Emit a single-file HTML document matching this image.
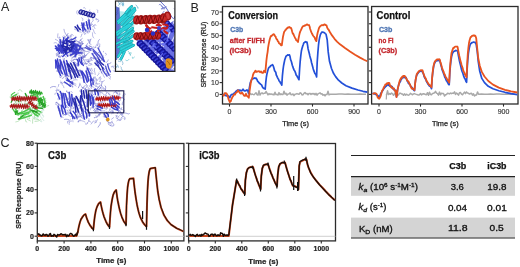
<!DOCTYPE html>
<html><head><meta charset="utf-8"><title>SPR figure</title><style>
html,body{margin:0;padding:0;background:#fff;}
svg{display:block;filter:blur(0.25px);}
text{font-family:"Liberation Sans",Arial,sans-serif;}
.tk{font-size:7.6px;fill:#333;stroke:#333;stroke-width:0.15px;}
.ax{font-size:7.4px;fill:#222;stroke:#222;stroke-width:0.25px;}
.tkb{font-size:7px;font-weight:bold;fill:#222;stroke:#222;stroke-width:0.2px;}
.axb{font-size:7.8px;font-weight:bold;fill:#222;stroke:#222;stroke-width:0.2px;}
.ttl{font-size:10.4px;font-weight:bold;fill:#111;stroke:#111;stroke-width:0.25px;}
.lgb{font-size:7.4px;font-weight:bold;fill:#4f76b4;stroke:#4f76b4;stroke-width:0.3px;}
.lgr{font-size:7.4px;font-weight:bold;fill:#c4282e;stroke:#c4282e;stroke-width:0.3px;}
.pl{font-size:12.5px;fill:#222;}
.th{font-size:8.4px;font-weight:bold;fill:#111;stroke:#111;stroke-width:0.25px;}
.td{font-size:8.4px;fill:#111;stroke:#111;stroke-width:0.3px;}
</style></head>
<body><svg width="520" height="267" viewBox="0 0 520 267">
<rect width="520" height="267" fill="#fff"/>
<defs><clipPath id="insclip"><rect x="115.5" y="1" width="59.4" height="70.4"/></clipPath></defs>
<path d="M85.9,24.4 C88.1,24.2 88.2,24.6 86.5,24.7" stroke="#6e70cc" stroke-width="0.55" fill="none" opacity="0.9"/>
<path d="M90.1,31.6 C87.9,30.5 85.7,32.2 86.8,29.7" stroke="#6e70cc" stroke-width="0.55" fill="none" opacity="0.9"/>
<path d="M90.7,26.1 C88.8,23.5 89.0,21.1 87.3,19.7" stroke="#6e70cc" stroke-width="0.55" fill="none" opacity="0.9"/>
<path d="M85.6,33.1 C85.7,33.9 85.7,34.8 85.4,33.6" stroke="#6e70cc" stroke-width="0.55" fill="none" opacity="0.9"/>
<path d="M95.2,28.9 C94.2,27.5 93.0,25.2 94.5,24.6" stroke="#6e70cc" stroke-width="0.55" fill="none" opacity="0.9"/>
<path d="M95.3,19.0 C97.8,20.9 95.1,19.3 97.3,19.1" stroke="#6e70cc" stroke-width="0.55" fill="none" opacity="0.9"/>
<path d="M98.5,19.3 C96.2,20.0 97.7,18.8 95.5,17.9" stroke="#6e70cc" stroke-width="0.55" fill="none" opacity="0.9"/>
<path d="M77.8,14.6 C75.7,12.3 77.3,10.5 77.6,10.2" stroke="#6e70cc" stroke-width="0.55" fill="none" opacity="0.9"/>
<path d="M79.6,29.7 C77.6,30.5 75.5,30.0 74.0,28.8" stroke="#6e70cc" stroke-width="0.55" fill="none" opacity="0.9"/>
<path d="M82.3,34.4 C80.7,33.9 82.7,34.6 80.5,37.3" stroke="#6e70cc" stroke-width="0.55" fill="none" opacity="0.9"/>
<path d="M80.1,15.0 C81.6,14.1 80.5,11.8 78.3,12.2" stroke="#6e70cc" stroke-width="0.55" fill="none" opacity="0.9"/>
<path d="M80.8,25.6 C80.1,25.4 82.6,25.3 83.0,27.3" stroke="#6e70cc" stroke-width="0.55" fill="none" opacity="0.9"/>
<path d="M79.4,11.8 C81.6,13.5 80.2,11.8 81.5,14.2" stroke="#6e70cc" stroke-width="0.55" fill="none" opacity="0.9"/>
<path d="M96.2,25.7 C95.7,23.6 93.3,26.1 91.8,27.2" stroke="#6e70cc" stroke-width="0.55" fill="none" opacity="0.9"/>
<path d="M81.2,32.5 C81.7,31.4 79.9,32.6 77.6,31.1" stroke="#6e70cc" stroke-width="0.55" fill="none" opacity="0.9"/>
<path d="M88.4,33.4 C89.0,32.2 91.3,30.6 88.7,29.4" stroke="#6e70cc" stroke-width="0.55" fill="none" opacity="0.9"/>
<path d="M85.7,8.9 C83.9,8.2 84.3,6.2 83.6,8.3" stroke="#6e70cc" stroke-width="0.55" fill="none" opacity="0.9"/>
<path d="M91.6,25.1 C89.6,22.6 87.0,24.8 88.1,27.3" stroke="#6e70cc" stroke-width="0.55" fill="none" opacity="0.9"/>
<path d="M86.6,29.6 C85.6,32.3 83.3,32.6 84.6,34.8" stroke="#6e70cc" stroke-width="0.55" fill="none" opacity="0.9"/>
<path d="M92.7,28.8 C94.3,31.1 93.5,32.1 95.6,34.1" stroke="#6e70cc" stroke-width="0.55" fill="none" opacity="0.9"/>
<path d="M85.0,31.5 C87.0,31.9 87.6,31.3 88.1,31.9" stroke="#6e70cc" stroke-width="0.55" fill="none" opacity="0.9"/>
<path d="M92.5,19.0 C93.7,19.5 93.4,21.3 91.2,22.7" stroke="#6e70cc" stroke-width="0.55" fill="none" opacity="0.9"/>
<path d="M86.5,14.1 C87.6,14.1 88.2,16.4 86.9,13.8" stroke="#6e70cc" stroke-width="0.55" fill="none" opacity="0.9"/>
<path d="M82.2,28.0 C80.6,26.2 82.8,27.1 82.5,29.2" stroke="#6e70cc" stroke-width="0.55" fill="none" opacity="0.9"/>
<path d="M82.8,27.6 C81.2,27.3 82.9,29.5 84.9,28.9" stroke="#6e70cc" stroke-width="0.55" fill="none" opacity="0.9"/>
<path d="M89.0,16.8 C87.0,16.8 88.9,18.7 90.0,21.1" stroke="#6e70cc" stroke-width="0.55" fill="none" opacity="0.9"/>
<path d="M81.6,12.2 C81.4,11.0 79.8,10.6 80.5,10.5" stroke="#6e70cc" stroke-width="0.55" fill="none" opacity="0.9"/>
<path d="M82.6,33.0 C85.2,32.8 82.9,30.2 84.9,27.8" stroke="#6e70cc" stroke-width="0.55" fill="none" opacity="0.9"/>
<path d="M92.0,24.7 C91.0,26.3 88.4,24.3 88.1,21.7" stroke="#6e70cc" stroke-width="0.55" fill="none" opacity="0.9"/>
<path d="M94.9,14.4 C93.0,11.9 93.7,11.6 94.4,12.5" stroke="#6e70cc" stroke-width="0.55" fill="none" opacity="0.9"/>
<path d="M91.4,13.2 C91.3,11.4 88.7,11.3 89.8,9.6" stroke="#6e70cc" stroke-width="0.55" fill="none" opacity="0.9"/>
<path d="M81.5,17.7 C82.6,17.8 83.2,19.2 82.6,20.8" stroke="#6e70cc" stroke-width="0.55" fill="none" opacity="0.9"/>
<path d="M96.7,9.7 C99.1,10.9 97.1,10.7 97.8,12.9" stroke="#6e70cc" stroke-width="0.55" fill="none" opacity="0.9"/>
<path d="M84.0,24.6 C86.1,26.2 88.5,26.0 89.3,24.4" stroke="#6e70cc" stroke-width="0.55" fill="none" opacity="0.9"/>
<path d="M92.3,32.4 C93.1,33.5 91.5,35.7 94.1,38.3" stroke="#6e70cc" stroke-width="0.55" fill="none" opacity="0.9"/>
<path d="M87.9,31.5 C86.9,33.7 88.8,32.9 86.6,32.6" stroke="#6e70cc" stroke-width="0.55" fill="none" opacity="0.9"/>
<path d="M88.2,30.8 C88.1,28.3 89.8,25.9 91.4,24.1" stroke="#6e70cc" stroke-width="0.55" fill="none" opacity="0.9"/>
<path d="M83.0,31.4 C81.1,29.5 81.2,30.7 83.0,31.8" stroke="#6e70cc" stroke-width="0.55" fill="none" opacity="0.9"/>
<path d="M97.7,22.3 C100.1,20.0 98.6,20.2 97.5,21.4" stroke="#6e70cc" stroke-width="0.55" fill="none" opacity="0.9"/>
<path d="M90.3,23.2 C92.2,23.5 91.2,22.9 93.0,25.1" stroke="#6e70cc" stroke-width="0.55" fill="none" opacity="0.9"/>
<path d="M68.3,80.1 C70.8,80.2 71.2,78.6 71.4,78.6" stroke="#6e70cc" stroke-width="0.55" fill="none" opacity="0.9"/>
<path d="M79.6,77.5 C80.0,77.4 81.0,75.1 81.2,74.6" stroke="#6e70cc" stroke-width="0.55" fill="none" opacity="0.9"/>
<path d="M71.9,60.1 C69.9,59.7 71.6,61.9 71.4,60.9" stroke="#6e70cc" stroke-width="0.55" fill="none" opacity="0.9"/>
<path d="M67.3,67.7 C69.6,65.7 71.1,63.2 69.4,61.7" stroke="#6e70cc" stroke-width="0.55" fill="none" opacity="0.9"/>
<path d="M96.5,52.1 C95.8,52.7 93.6,54.0 91.6,54.0" stroke="#6e70cc" stroke-width="0.55" fill="none" opacity="0.9"/>
<path d="M70.8,45.5 C70.9,45.1 70.3,44.7 70.4,42.8" stroke="#6e70cc" stroke-width="0.55" fill="none" opacity="0.9"/>
<path d="M68.1,68.5 C68.8,68.6 70.7,69.2 72.6,67.8" stroke="#6e70cc" stroke-width="0.55" fill="none" opacity="0.9"/>
<path d="M99.7,78.0 C101.9,77.0 100.9,79.2 99.4,81.9" stroke="#6e70cc" stroke-width="0.55" fill="none" opacity="0.9"/>
<path d="M70.1,73.5 C68.8,71.3 70.6,70.9 72.2,68.9" stroke="#6e70cc" stroke-width="0.55" fill="none" opacity="0.9"/>
<path d="M79.8,71.3 C77.2,69.7 78.1,71.9 80.7,69.8" stroke="#6e70cc" stroke-width="0.55" fill="none" opacity="0.9"/>
<path d="M85.8,75.2 C85.9,76.2 84.2,73.9 82.0,71.4" stroke="#6e70cc" stroke-width="0.55" fill="none" opacity="0.9"/>
<path d="M88.5,62.3 C88.9,60.4 87.2,58.8 89.1,61.4" stroke="#6e70cc" stroke-width="0.55" fill="none" opacity="0.9"/>
<path d="M83.3,75.5 C82.3,75.4 82.4,75.0 83.0,72.3" stroke="#6e70cc" stroke-width="0.55" fill="none" opacity="0.9"/>
<path d="M97.4,79.7 C95.6,79.5 96.9,79.0 95.3,77.2" stroke="#6e70cc" stroke-width="0.55" fill="none" opacity="0.9"/>
<path d="M108.7,77.5 C109.8,79.4 110.5,78.9 111.0,78.9" stroke="#6e70cc" stroke-width="0.55" fill="none" opacity="0.9"/>
<path d="M71.2,83.3 C72.6,84.8 74.3,84.3 76.4,86.3" stroke="#6e70cc" stroke-width="0.55" fill="none" opacity="0.9"/>
<path d="M97.0,75.7 C98.4,75.2 99.6,72.8 98.8,72.7" stroke="#6e70cc" stroke-width="0.55" fill="none" opacity="0.9"/>
<path d="M56.6,53.8 C57.4,54.5 55.9,56.9 56.8,56.0" stroke="#6e70cc" stroke-width="0.55" fill="none" opacity="0.9"/>
<path d="M94.9,65.2 C95.1,64.6 97.8,65.4 98.9,66.8" stroke="#6e70cc" stroke-width="0.55" fill="none" opacity="0.9"/>
<path d="M92.3,74.2 C91.0,73.6 88.6,72.0 87.9,69.8" stroke="#6e70cc" stroke-width="0.55" fill="none" opacity="0.9"/>
<path d="M70.8,83.0 C71.1,83.0 73.6,83.4 76.3,84.2" stroke="#6e70cc" stroke-width="0.55" fill="none" opacity="0.9"/>
<path d="M91.3,75.2 C88.8,77.6 87.0,77.4 85.2,77.4" stroke="#6e70cc" stroke-width="0.55" fill="none" opacity="0.9"/>
<path d="M87.1,66.7 C86.4,65.5 87.2,65.9 86.0,67.0" stroke="#6e70cc" stroke-width="0.55" fill="none" opacity="0.9"/>
<path d="M73.5,35.7 C72.1,33.3 70.2,34.6 69.6,36.8" stroke="#6e70cc" stroke-width="0.55" fill="none" opacity="0.9"/>
<path d="M60.3,83.0 C60.0,82.9 62.5,81.5 62.6,83.9" stroke="#6e70cc" stroke-width="0.55" fill="none" opacity="0.9"/>
<path d="M98.6,59.8 C101.2,61.5 101.8,59.5 102.5,59.2" stroke="#6e70cc" stroke-width="0.55" fill="none" opacity="0.9"/>
<path d="M68.0,37.8 C68.2,35.7 67.9,36.6 67.6,35.4" stroke="#6e70cc" stroke-width="0.55" fill="none" opacity="0.9"/>
<path d="M90.4,57.2 C91.9,57.4 94.5,59.8 95.8,58.4" stroke="#6e70cc" stroke-width="0.55" fill="none" opacity="0.9"/>
<path d="M62.7,82.3 C64.3,83.0 63.5,81.8 64.5,82.1" stroke="#6e70cc" stroke-width="0.55" fill="none" opacity="0.9"/>
<path d="M90.9,68.6 C92.3,66.9 90.9,69.5 93.2,71.5" stroke="#6e70cc" stroke-width="0.55" fill="none" opacity="0.9"/>
<path d="M58.3,38.2 C57.1,37.8 57.8,35.7 58.0,33.4" stroke="#6e70cc" stroke-width="0.55" fill="none" opacity="0.9"/>
<path d="M61.1,70.8 C61.4,71.6 60.7,71.4 59.1,70.6" stroke="#6e70cc" stroke-width="0.55" fill="none" opacity="0.9"/>
<path d="M99.9,79.4 C97.6,77.4 99.3,78.1 100.8,76.5" stroke="#6e70cc" stroke-width="0.55" fill="none" opacity="0.9"/>
<path d="M81.0,48.7 C82.7,48.0 83.5,50.6 82.6,50.9" stroke="#6e70cc" stroke-width="0.55" fill="none" opacity="0.9"/>
<path d="M100.0,83.8 C99.6,83.1 97.5,85.1 95.2,82.9" stroke="#6e70cc" stroke-width="0.55" fill="none" opacity="0.9"/>
<path d="M89.3,60.7 C90.3,59.6 91.8,57.3 90.2,58.2" stroke="#6e70cc" stroke-width="0.55" fill="none" opacity="0.9"/>
<path d="M60.8,51.1 C62.0,52.1 60.9,50.2 60.1,51.4" stroke="#6e70cc" stroke-width="0.55" fill="none" opacity="0.9"/>
<path d="M77.6,41.2 C78.7,41.6 81.0,44.0 83.2,43.6" stroke="#6e70cc" stroke-width="0.55" fill="none" opacity="0.9"/>
<path d="M103.4,51.2 C102.4,50.6 104.7,52.7 103.4,52.0" stroke="#6e70cc" stroke-width="0.55" fill="none" opacity="0.9"/>
<path d="M77.6,54.3 C77.0,53.6 75.4,54.0 77.0,54.2" stroke="#6e70cc" stroke-width="0.55" fill="none" opacity="0.9"/>
<path d="M105.3,64.8 C103.6,66.2 105.7,65.0 103.1,65.1" stroke="#6e70cc" stroke-width="0.55" fill="none" opacity="0.9"/>
<path d="M88.1,65.1 C90.6,65.9 92.3,63.5 92.5,65.1" stroke="#6e70cc" stroke-width="0.55" fill="none" opacity="0.9"/>
<path d="M61.0,39.3 C62.2,41.5 60.0,42.2 58.1,43.5" stroke="#6e70cc" stroke-width="0.55" fill="none" opacity="0.9"/>
<path d="M94.3,48.0 C92.8,49.4 92.9,50.9 92.3,50.0" stroke="#6e70cc" stroke-width="0.55" fill="none" opacity="0.9"/>
<path d="M113.1,70.6 C113.1,70.8 114.3,72.0 116.5,71.5" stroke="#6e70cc" stroke-width="0.55" fill="none" opacity="0.9"/>
<path d="M104.7,70.3 C106.7,72.0 108.5,74.1 110.9,74.8" stroke="#6e70cc" stroke-width="0.55" fill="none" opacity="0.9"/>
<path d="M86.9,72.6 C88.5,72.2 88.1,70.3 89.4,73.0" stroke="#6e70cc" stroke-width="0.55" fill="none" opacity="0.9"/>
<path d="M78.2,43.9 C76.6,43.5 75.4,46.0 73.1,45.0" stroke="#6e70cc" stroke-width="0.55" fill="none" opacity="0.9"/>
<path d="M62.8,69.3 C64.3,67.6 61.9,67.4 62.4,69.6" stroke="#6e70cc" stroke-width="0.55" fill="none" opacity="0.9"/>
<path d="M58.1,40.8 C56.4,39.2 55.0,40.4 55.5,38.9" stroke="#6e70cc" stroke-width="0.55" fill="none" opacity="0.9"/>
<path d="M66.9,49.9 C65.1,51.3 64.1,51.5 65.8,51.4" stroke="#6e70cc" stroke-width="0.55" fill="none" opacity="0.9"/>
<path d="M71.4,82.0 C73.6,81.2 73.9,83.6 73.8,82.1" stroke="#6e70cc" stroke-width="0.55" fill="none" opacity="0.9"/>
<path d="M103.3,55.4 C103.4,55.5 102.2,58.1 103.1,56.7" stroke="#6e70cc" stroke-width="0.55" fill="none" opacity="0.9"/>
<path d="M56.6,60.1 C55.9,61.7 57.1,62.2 55.2,60.4" stroke="#6e70cc" stroke-width="0.55" fill="none" opacity="0.9"/>
<path d="M75.0,48.7 C77.0,48.8 77.7,51.5 76.5,51.7" stroke="#6e70cc" stroke-width="0.55" fill="none" opacity="0.9"/>
<path d="M64.9,75.8 C62.2,77.6 64.1,79.3 61.8,78.1" stroke="#6e70cc" stroke-width="0.55" fill="none" opacity="0.9"/>
<path d="M84.3,59.8 C86.8,60.3 88.7,59.2 90.3,58.8" stroke="#6e70cc" stroke-width="0.55" fill="none" opacity="0.9"/>
<path d="M88.1,62.9 C86.2,64.7 85.2,63.6 82.9,62.6" stroke="#6e70cc" stroke-width="0.55" fill="none" opacity="0.9"/>
<path d="M83.6,72.9 C82.8,73.9 80.7,73.3 80.5,75.9" stroke="#6e70cc" stroke-width="0.55" fill="none" opacity="0.9"/>
<path d="M105.0,69.7 C102.3,69.0 103.5,67.6 103.8,67.4" stroke="#6e70cc" stroke-width="0.55" fill="none" opacity="0.9"/>
<path d="M92.3,50.4 C91.7,50.6 90.6,49.7 90.0,50.6" stroke="#6e70cc" stroke-width="0.55" fill="none" opacity="0.9"/>
<path d="M71.1,45.6 C72.4,44.7 74.8,45.0 76.0,44.1" stroke="#6e70cc" stroke-width="0.55" fill="none" opacity="0.9"/>
<path d="M64.3,40.0 C65.3,41.1 63.5,40.6 65.4,41.1" stroke="#6e70cc" stroke-width="0.55" fill="none" opacity="0.9"/>
<path d="M61.3,47.0 C59.5,45.0 59.0,42.7 61.2,42.3" stroke="#6e70cc" stroke-width="0.55" fill="none" opacity="0.9"/>
<path d="M86.2,69.3 C87.6,71.0 87.0,70.1 86.5,67.5" stroke="#6e70cc" stroke-width="0.55" fill="none" opacity="0.9"/>
<path d="M79.6,72.1 C82.2,73.7 83.1,74.2 80.5,73.3" stroke="#6e70cc" stroke-width="0.55" fill="none" opacity="0.9"/>
<path d="M76.2,69.5 C74.1,68.8 74.1,70.4 75.9,71.0" stroke="#6e70cc" stroke-width="0.55" fill="none" opacity="0.9"/>
<path d="M65.3,75.6 C67.5,75.9 66.7,75.9 64.8,77.0" stroke="#6e70cc" stroke-width="0.55" fill="none" opacity="0.9"/>
<path d="M98.2,79.3 C96.6,81.7 97.3,80.1 95.0,78.7" stroke="#6e70cc" stroke-width="0.55" fill="none" opacity="0.9"/>
<path d="M90.0,71.9 C89.1,74.3 88.3,74.1 86.3,76.6" stroke="#6e70cc" stroke-width="0.55" fill="none" opacity="0.9"/>
<path d="M64.0,82.9 C64.2,83.2 64.6,82.0 66.8,84.6" stroke="#6e70cc" stroke-width="0.55" fill="none" opacity="0.9"/>
<path d="M104.2,66.9 C102.2,68.6 101.1,70.8 99.7,71.2" stroke="#6e70cc" stroke-width="0.55" fill="none" opacity="0.9"/>
<path d="M57.9,44.5 C60.5,46.9 61.4,45.9 62.3,47.2" stroke="#6e70cc" stroke-width="0.55" fill="none" opacity="0.9"/>
<path d="M78.5,66.4 C80.2,63.8 78.5,63.6 76.6,63.0" stroke="#6e70cc" stroke-width="0.55" fill="none" opacity="0.9"/>
<path d="M89.6,44.2 C89.7,42.9 90.1,42.0 90.8,39.5" stroke="#6e70cc" stroke-width="0.55" fill="none" opacity="0.9"/>
<path d="M112.6,66.8 C112.4,66.3 113.1,67.3 114.5,68.7" stroke="#6e70cc" stroke-width="0.55" fill="none" opacity="0.9"/>
<path d="M84.7,87.7 C86.5,89.6 86.0,89.3 86.4,91.5" stroke="#6e70cc" stroke-width="0.55" fill="none" opacity="0.9"/>
<path d="M87.0,62.8 C86.7,65.0 85.7,62.6 86.9,64.8" stroke="#6e70cc" stroke-width="0.55" fill="none" opacity="0.9"/>
<path d="M99.2,66.7 C100.5,65.6 101.1,63.3 99.0,63.0" stroke="#6e70cc" stroke-width="0.55" fill="none" opacity="0.9"/>
<path d="M85.7,56.0 C83.2,57.1 83.4,55.7 82.3,55.1" stroke="#6e70cc" stroke-width="0.55" fill="none" opacity="0.9"/>
<path d="M69.9,38.6 C72.1,41.1 73.0,43.1 72.6,44.8" stroke="#6e70cc" stroke-width="0.55" fill="none" opacity="0.9"/>
<path d="M69.1,74.6 C69.4,76.7 67.3,78.3 65.2,78.5" stroke="#6e70cc" stroke-width="0.55" fill="none" opacity="0.9"/>
<path d="M70.4,50.9 C69.4,48.5 71.6,50.2 71.0,49.4" stroke="#6e70cc" stroke-width="0.55" fill="none" opacity="0.9"/>
<path d="M74.2,61.4 C76.5,64.0 76.4,62.4 75.3,64.7" stroke="#6e70cc" stroke-width="0.55" fill="none" opacity="0.9"/>
<path d="M105.4,53.8 C105.3,52.0 107.3,54.7 105.7,55.4" stroke="#6e70cc" stroke-width="0.55" fill="none" opacity="0.9"/>
<path d="M67.3,81.6 C64.9,79.5 66.1,78.5 68.2,80.5" stroke="#6e70cc" stroke-width="0.55" fill="none" opacity="0.9"/>
<path d="M97.1,84.7 C96.8,82.4 95.3,81.4 96.4,79.7" stroke="#6e70cc" stroke-width="0.55" fill="none" opacity="0.9"/>
<path d="M66.7,47.5 C67.6,49.0 66.9,49.9 69.0,50.4" stroke="#6e70cc" stroke-width="0.55" fill="none" opacity="0.9"/>
<path d="M69.5,50.9 C71.8,51.9 70.6,52.6 68.4,55.2" stroke="#6e70cc" stroke-width="0.55" fill="none" opacity="0.9"/>
<path d="M82.0,63.0 C82.1,60.5 82.7,59.4 81.3,61.0" stroke="#6e70cc" stroke-width="0.55" fill="none" opacity="0.9"/>
<path d="M61.1,50.1 C62.5,48.7 61.3,49.0 59.6,51.1" stroke="#6e70cc" stroke-width="0.55" fill="none" opacity="0.9"/>
<path d="M83.2,74.8 C82.6,77.1 82.6,75.4 82.9,76.2" stroke="#6e70cc" stroke-width="0.55" fill="none" opacity="0.9"/>
<path d="M77.2,69.9 C78.7,70.0 78.8,71.8 79.8,72.0" stroke="#6e70cc" stroke-width="0.55" fill="none" opacity="0.9"/>
<path d="M91.9,47.5 C91.6,48.9 93.1,50.5 91.7,50.5" stroke="#6e70cc" stroke-width="0.55" fill="none" opacity="0.9"/>
<path d="M69.1,65.7 C69.0,63.2 69.6,64.4 70.0,66.4" stroke="#6e70cc" stroke-width="0.55" fill="none" opacity="0.9"/>
<path d="M66.6,43.0 C64.0,43.0 63.7,42.7 62.4,44.3" stroke="#6e70cc" stroke-width="0.55" fill="none" opacity="0.9"/>
<path d="M60.3,83.1 C60.7,83.3 62.2,81.9 60.3,80.9" stroke="#6e70cc" stroke-width="0.55" fill="none" opacity="0.9"/>
<path d="M58.5,51.7 C59.2,51.8 57.9,52.3 55.7,54.0" stroke="#6e70cc" stroke-width="0.55" fill="none" opacity="0.9"/>
<path d="M66.1,48.5 C64.3,49.5 66.1,51.1 63.7,50.6" stroke="#6e70cc" stroke-width="0.55" fill="none" opacity="0.9"/>
<path d="M77.5,46.5 C80.0,44.0 80.0,45.4 82.6,43.5" stroke="#6e70cc" stroke-width="0.55" fill="none" opacity="0.9"/>
<path d="M82.9,74.5 C80.4,73.1 82.5,71.1 81.9,70.1" stroke="#6e70cc" stroke-width="0.55" fill="none" opacity="0.9"/>
<path d="M81.0,39.1 C78.5,41.7 79.9,43.0 78.5,41.7" stroke="#6e70cc" stroke-width="0.55" fill="none" opacity="0.9"/>
<path d="M88.6,47.8 C88.4,50.1 87.6,49.3 90.2,49.9" stroke="#6e70cc" stroke-width="0.55" fill="none" opacity="0.9"/>
<path d="M58.3,56.4 C59.1,54.0 58.3,55.0 60.3,55.5" stroke="#6e70cc" stroke-width="0.55" fill="none" opacity="0.9"/>
<path d="M108.3,59.5 C107.7,61.4 107.1,62.9 105.5,62.1" stroke="#6e70cc" stroke-width="0.55" fill="none" opacity="0.9"/>
<path d="M66.8,64.1 C65.0,62.5 63.5,62.4 62.4,62.1" stroke="#6e70cc" stroke-width="0.55" fill="none" opacity="0.9"/>
<path d="M114.6,71.0 C116.6,69.4 115.9,67.1 117.0,66.4" stroke="#6e70cc" stroke-width="0.55" fill="none" opacity="0.9"/>
<path d="M72.2,36.0 C70.5,34.7 69.9,37.0 71.1,35.7" stroke="#6e70cc" stroke-width="0.55" fill="none" opacity="0.9"/>
<path d="M77.3,43.1 C79.7,42.4 81.1,43.6 83.3,41.0" stroke="#6e70cc" stroke-width="0.55" fill="none" opacity="0.9"/>
<path d="M75.0,55.4 C72.8,57.4 71.8,58.9 71.9,56.5" stroke="#6e70cc" stroke-width="0.55" fill="none" opacity="0.9"/>
<path d="M79.2,47.6 C76.8,45.7 77.3,43.2 76.3,42.8" stroke="#6e70cc" stroke-width="0.55" fill="none" opacity="0.9"/>
<path d="M88.1,42.2 C89.2,40.9 90.4,41.8 88.5,40.2" stroke="#6e70cc" stroke-width="0.55" fill="none" opacity="0.9"/>
<path d="M72.5,72.8 C72.0,72.2 74.0,70.7 72.9,69.8" stroke="#6e70cc" stroke-width="0.55" fill="none" opacity="0.9"/>
<path d="M68.7,37.2 C66.2,37.9 66.5,39.5 69.1,38.4" stroke="#6e70cc" stroke-width="0.55" fill="none" opacity="0.9"/>
<path d="M95.6,83.7 C94.0,84.7 94.9,87.2 96.9,85.8" stroke="#6e70cc" stroke-width="0.55" fill="none" opacity="0.9"/>
<path d="M81.2,55.8 C78.9,55.2 77.9,55.2 76.7,53.3" stroke="#6e70cc" stroke-width="0.55" fill="none" opacity="0.9"/>
<path d="M79.7,60.2 C77.9,61.1 76.5,58.9 75.7,58.5" stroke="#6e70cc" stroke-width="0.55" fill="none" opacity="0.9"/>
<path d="M64.9,65.9 C66.0,66.2 67.1,63.6 66.5,62.9" stroke="#6e70cc" stroke-width="0.55" fill="none" opacity="0.9"/>
<path d="M59.7,56.4 C57.3,56.4 57.8,56.2 56.8,54.9" stroke="#6e70cc" stroke-width="0.55" fill="none" opacity="0.9"/>
<path d="M57.4,53.4 C59.5,53.8 58.2,54.7 56.5,54.5" stroke="#6e70cc" stroke-width="0.55" fill="none" opacity="0.9"/>
<path d="M92.3,85.6 C91.6,86.0 93.9,87.5 94.6,88.1" stroke="#6e70cc" stroke-width="0.55" fill="none" opacity="0.9"/>
<path d="M80.2,57.0 C79.0,58.8 81.1,58.2 83.3,55.7" stroke="#6e70cc" stroke-width="0.55" fill="none" opacity="0.9"/>
<path d="M64.0,61.9 C63.0,61.1 65.6,59.2 63.9,57.8" stroke="#6e70cc" stroke-width="0.55" fill="none" opacity="0.9"/>
<path d="M96.1,47.4 C93.4,47.7 92.9,46.3 92.8,47.1" stroke="#6e70cc" stroke-width="0.55" fill="none" opacity="0.9"/>
<path d="M88.3,68.1 C88.7,69.9 91.2,69.0 90.4,71.1" stroke="#6e70cc" stroke-width="0.55" fill="none" opacity="0.9"/>
<path d="M74.5,72.9 C75.5,74.0 78.0,75.7 76.2,76.4" stroke="#6e70cc" stroke-width="0.55" fill="none" opacity="0.9"/>
<path d="M84.9,64.9 C84.2,63.7 85.6,63.9 84.2,62.6" stroke="#6e70cc" stroke-width="0.55" fill="none" opacity="0.9"/>
<path d="M75.2,44.4 C75.2,42.4 72.9,40.1 70.7,41.2" stroke="#6e70cc" stroke-width="0.55" fill="none" opacity="0.9"/>
<path d="M62.7,58.9 C64.1,58.8 62.3,60.8 64.3,58.4" stroke="#6e70cc" stroke-width="0.55" fill="none" opacity="0.9"/>
<path d="M71.0,61.9 C72.6,61.3 73.7,60.0 74.9,59.0" stroke="#6e70cc" stroke-width="0.55" fill="none" opacity="0.9"/>
<path d="M75.7,75.2 C77.5,77.0 77.9,76.6 79.0,77.3" stroke="#6e70cc" stroke-width="0.55" fill="none" opacity="0.9"/>
<path d="M105.0,77.5 C103.0,76.8 103.9,75.3 102.2,72.7" stroke="#6e70cc" stroke-width="0.55" fill="none" opacity="0.9"/>
<path d="M90.5,84.9 C93.1,82.9 94.1,82.5 94.8,81.9" stroke="#6e70cc" stroke-width="0.55" fill="none" opacity="0.9"/>
<path d="M58.9,72.8 C56.8,70.3 55.7,71.6 58.3,69.5" stroke="#6e70cc" stroke-width="0.55" fill="none" opacity="0.9"/>
<path d="M75.5,36.4 C75.7,36.3 75.0,35.3 76.6,37.1" stroke="#6e70cc" stroke-width="0.55" fill="none" opacity="0.9"/>
<path d="M72.7,55.8 C73.4,57.2 76.0,56.6 77.0,56.8" stroke="#6e70cc" stroke-width="0.55" fill="none" opacity="0.9"/>
<path d="M66.3,40.7 C68.7,39.3 68.6,37.3 67.7,34.7" stroke="#6e70cc" stroke-width="0.55" fill="none" opacity="0.9"/>
<path d="M89.4,42.6 C90.1,41.4 88.6,41.3 87.9,40.0" stroke="#6e70cc" stroke-width="0.55" fill="none" opacity="0.9"/>
<path d="M59.0,38.4 C61.1,37.4 58.9,35.7 58.8,38.4" stroke="#6e70cc" stroke-width="0.55" fill="none" opacity="0.9"/>
<path d="M67.9,81.0 C67.8,80.5 69.5,79.9 67.1,80.2" stroke="#6e70cc" stroke-width="0.55" fill="none" opacity="0.9"/>
<path d="M94.8,68.0 C93.6,70.4 95.5,73.1 95.2,74.9" stroke="#6e70cc" stroke-width="0.55" fill="none" opacity="0.9"/>
<path d="M57.6,43.9 C55.5,41.7 54.8,43.0 53.7,43.1" stroke="#6e70cc" stroke-width="0.55" fill="none" opacity="0.9"/>
<path d="M56.6,46.1 C59.1,43.5 59.2,45.2 60.8,46.4" stroke="#6e70cc" stroke-width="0.55" fill="none" opacity="0.9"/>
<path d="M79.6,77.6 C81.3,79.0 84.0,76.9 86.4,76.3" stroke="#6e70cc" stroke-width="0.55" fill="none" opacity="0.9"/>
<path d="M97.6,48.3 C99.8,45.7 100.2,44.2 99.6,43.5" stroke="#6e70cc" stroke-width="0.55" fill="none" opacity="0.9"/>
<path d="M94.8,78.0 C94.0,78.7 93.2,77.5 95.4,76.6" stroke="#6e70cc" stroke-width="0.55" fill="none" opacity="0.9"/>
<path d="M61.6,52.7 C62.9,51.2 64.2,51.4 65.1,49.7" stroke="#6e70cc" stroke-width="0.55" fill="none" opacity="0.9"/>
<path d="M62.2,42.6 C61.4,42.2 58.8,42.2 58.3,41.3" stroke="#6e70cc" stroke-width="0.55" fill="none" opacity="0.9"/>
<path d="M87.7,85.5 C86.1,87.5 85.1,88.9 83.0,91.5" stroke="#6e70cc" stroke-width="0.55" fill="none" opacity="0.9"/>
<path d="M81.4,86.0 C79.9,85.5 81.0,83.8 79.8,84.7" stroke="#6e70cc" stroke-width="0.55" fill="none" opacity="0.9"/>
<path d="M66.8,53.9 C69.5,52.0 70.2,51.4 71.0,49.8" stroke="#6e70cc" stroke-width="0.55" fill="none" opacity="0.9"/>
<path d="M92.4,82.0 C94.3,82.7 94.3,83.1 92.2,84.9" stroke="#6e70cc" stroke-width="0.55" fill="none" opacity="0.9"/>
<path d="M96.7,59.0 C97.6,58.6 97.0,57.1 97.5,57.5" stroke="#6e70cc" stroke-width="0.55" fill="none" opacity="0.9"/>
<path d="M93.0,58.7 C93.5,59.2 95.8,57.3 95.7,60.0" stroke="#6e70cc" stroke-width="0.55" fill="none" opacity="0.9"/>
<path d="M99.5,51.6 C100.8,54.2 100.3,56.2 98.3,58.9" stroke="#6e70cc" stroke-width="0.55" fill="none" opacity="0.9"/>
<path d="M85.0,47.4 C86.8,48.2 89.2,50.0 90.8,50.1" stroke="#6e70cc" stroke-width="0.55" fill="none" opacity="0.9"/>
<path d="M107.3,72.7 C106.0,74.4 105.7,74.6 107.7,72.9" stroke="#6e70cc" stroke-width="0.55" fill="none" opacity="0.9"/>
<path d="M72.5,69.1 C70.2,69.4 71.7,69.4 70.4,71.0" stroke="#6e70cc" stroke-width="0.55" fill="none" opacity="0.9"/>
<path d="M106.4,75.9 C106.7,78.0 108.3,76.2 107.6,74.0" stroke="#6e70cc" stroke-width="0.55" fill="none" opacity="0.9"/>
<path d="M58.2,53.3 C60.1,55.1 58.1,53.4 57.5,55.3" stroke="#6e70cc" stroke-width="0.55" fill="none" opacity="0.9"/>
<path d="M92.4,82.8 C90.1,85.4 88.5,86.1 90.5,87.4" stroke="#6e70cc" stroke-width="0.55" fill="none" opacity="0.9"/>
<path d="M67.6,70.4 C67.3,67.8 66.4,66.8 67.1,65.6" stroke="#6e70cc" stroke-width="0.55" fill="none" opacity="0.9"/>
<path d="M91.6,71.8 C89.9,69.8 90.9,69.6 88.9,67.6" stroke="#6e70cc" stroke-width="0.55" fill="none" opacity="0.9"/>
<path d="M111.5,67.3 C110.8,65.7 113.4,66.7 114.7,66.0" stroke="#6e70cc" stroke-width="0.55" fill="none" opacity="0.9"/>
<path d="M74.3,56.6 C72.4,57.3 72.0,59.1 71.5,58.8" stroke="#6e70cc" stroke-width="0.55" fill="none" opacity="0.9"/>
<path d="M85.9,84.9 C85.1,86.0 83.6,86.4 82.5,88.4" stroke="#6e70cc" stroke-width="0.55" fill="none" opacity="0.9"/>
<path d="M72.9,80.3 C73.9,80.0 76.2,79.4 77.5,80.0" stroke="#6e70cc" stroke-width="0.55" fill="none" opacity="0.9"/>
<path d="M82.5,38.4 C82.0,37.2 81.7,39.7 80.6,40.7" stroke="#6e70cc" stroke-width="0.55" fill="none" opacity="0.9"/>
<path d="M95.7,48.0 C95.2,46.0 97.3,44.6 96.9,43.8" stroke="#6e70cc" stroke-width="0.55" fill="none" opacity="0.9"/>
<path d="M104.4,80.1 C104.9,80.3 102.7,82.5 100.5,81.7" stroke="#6e70cc" stroke-width="0.55" fill="none" opacity="0.9"/>
<path d="M81.2,113.5 C82.1,112.6 84.3,115.1 81.7,115.8" stroke="#6e70cc" stroke-width="0.55" fill="none" opacity="0.9"/>
<path d="M87.8,99.7 C87.7,98.8 88.6,99.3 91.1,101.9" stroke="#6e70cc" stroke-width="0.55" fill="none" opacity="0.9"/>
<path d="M113.0,110.7 C114.1,113.4 111.8,113.2 111.2,114.0" stroke="#6e70cc" stroke-width="0.55" fill="none" opacity="0.9"/>
<path d="M69.7,100.1 C67.7,99.5 69.0,97.2 67.2,98.0" stroke="#6e70cc" stroke-width="0.55" fill="none" opacity="0.9"/>
<path d="M98.6,114.2 C97.3,115.9 98.5,117.4 96.5,117.2" stroke="#6e70cc" stroke-width="0.55" fill="none" opacity="0.9"/>
<path d="M121.1,120.0 C118.5,119.2 118.7,119.4 116.6,121.0" stroke="#6e70cc" stroke-width="0.55" fill="none" opacity="0.9"/>
<path d="M76.1,105.3 C74.1,105.6 72.1,103.4 72.1,102.3" stroke="#6e70cc" stroke-width="0.55" fill="none" opacity="0.9"/>
<path d="M109.4,95.4 C109.0,93.0 107.4,92.7 107.7,92.5" stroke="#6e70cc" stroke-width="0.55" fill="none" opacity="0.9"/>
<path d="M114.5,91.9 C117.0,92.0 116.5,92.6 118.5,95.1" stroke="#6e70cc" stroke-width="0.55" fill="none" opacity="0.9"/>
<path d="M83.9,86.4 C82.1,88.1 83.3,89.3 81.5,89.4" stroke="#6e70cc" stroke-width="0.55" fill="none" opacity="0.9"/>
<path d="M57.0,90.2 C55.9,92.7 56.7,94.6 54.2,94.1" stroke="#6e70cc" stroke-width="0.55" fill="none" opacity="0.9"/>
<path d="M60.5,95.9 C58.4,98.2 57.5,98.1 58.3,100.2" stroke="#6e70cc" stroke-width="0.55" fill="none" opacity="0.9"/>
<path d="M121.3,107.6 C121.3,109.8 120.7,108.7 122.0,107.4" stroke="#6e70cc" stroke-width="0.55" fill="none" opacity="0.9"/>
<path d="M80.8,102.3 C80.6,101.5 80.2,101.3 77.8,103.1" stroke="#6e70cc" stroke-width="0.55" fill="none" opacity="0.9"/>
<path d="M59.3,106.1 C59.6,105.5 58.1,103.4 57.4,102.4" stroke="#6e70cc" stroke-width="0.55" fill="none" opacity="0.9"/>
<path d="M88.9,94.8 C90.2,94.7 87.6,94.2 90.1,91.5" stroke="#6e70cc" stroke-width="0.55" fill="none" opacity="0.9"/>
<path d="M96.5,122.5 C95.8,123.0 95.1,122.0 95.7,122.4" stroke="#6e70cc" stroke-width="0.55" fill="none" opacity="0.9"/>
<path d="M77.1,104.9 C77.1,106.3 74.7,104.1 73.4,102.8" stroke="#6e70cc" stroke-width="0.55" fill="none" opacity="0.9"/>
<path d="M110.7,102.2 C112.6,101.6 111.5,102.6 109.2,105.2" stroke="#6e70cc" stroke-width="0.55" fill="none" opacity="0.9"/>
<path d="M113.2,98.5 C112.2,100.2 113.8,101.0 111.4,102.4" stroke="#6e70cc" stroke-width="0.55" fill="none" opacity="0.9"/>
<path d="M58.4,109.7 C58.6,112.0 59.4,109.5 61.7,110.8" stroke="#6e70cc" stroke-width="0.55" fill="none" opacity="0.9"/>
<path d="M95.6,86.2 C96.9,85.8 97.8,88.4 100.1,86.1" stroke="#6e70cc" stroke-width="0.55" fill="none" opacity="0.9"/>
<path d="M109.7,102.7 C111.1,102.1 110.8,101.7 108.7,100.8" stroke="#6e70cc" stroke-width="0.55" fill="none" opacity="0.9"/>
<path d="M63.1,117.7 C64.0,118.0 61.9,115.9 60.9,118.3" stroke="#6e70cc" stroke-width="0.55" fill="none" opacity="0.9"/>
<path d="M94.2,121.0 C92.7,120.6 92.9,122.4 90.8,124.4" stroke="#6e70cc" stroke-width="0.55" fill="none" opacity="0.9"/>
<path d="M88.1,87.2 C87.7,86.5 88.6,88.8 88.6,89.9" stroke="#6e70cc" stroke-width="0.55" fill="none" opacity="0.9"/>
<path d="M82.2,115.6 C80.0,116.9 78.2,117.4 76.6,116.5" stroke="#6e70cc" stroke-width="0.55" fill="none" opacity="0.9"/>
<path d="M66.5,99.3 C67.0,99.4 66.4,99.8 68.2,99.0" stroke="#6e70cc" stroke-width="0.55" fill="none" opacity="0.9"/>
<path d="M95.9,104.3 C98.5,103.3 99.5,101.9 98.2,103.1" stroke="#6e70cc" stroke-width="0.55" fill="none" opacity="0.9"/>
<path d="M95.2,95.8 C92.9,97.5 92.2,98.7 91.9,99.3" stroke="#6e70cc" stroke-width="0.55" fill="none" opacity="0.9"/>
<path d="M94.2,123.1 C96.4,122.8 96.3,121.4 97.7,119.2" stroke="#6e70cc" stroke-width="0.55" fill="none" opacity="0.9"/>
<path d="M76.5,118.2 C73.9,119.3 74.3,119.6 73.4,117.7" stroke="#6e70cc" stroke-width="0.55" fill="none" opacity="0.9"/>
<path d="M121.6,115.1 C123.2,112.9 124.7,111.4 123.1,111.6" stroke="#6e70cc" stroke-width="0.55" fill="none" opacity="0.9"/>
<path d="M97.7,90.6 C99.1,91.0 101.3,93.3 102.3,92.6" stroke="#6e70cc" stroke-width="0.55" fill="none" opacity="0.9"/>
<path d="M121.6,113.3 C120.4,115.2 121.7,114.0 120.3,111.4" stroke="#6e70cc" stroke-width="0.55" fill="none" opacity="0.9"/>
<path d="M92.6,95.6 C91.5,94.3 89.5,94.2 88.3,93.1" stroke="#6e70cc" stroke-width="0.55" fill="none" opacity="0.9"/>
<path d="M74.4,105.3 C76.4,103.5 78.4,105.4 79.0,105.7" stroke="#6e70cc" stroke-width="0.55" fill="none" opacity="0.9"/>
<path d="M106.4,106.3 C107.2,108.6 108.7,107.3 106.3,109.6" stroke="#6e70cc" stroke-width="0.55" fill="none" opacity="0.9"/>
<path d="M80.4,115.9 C78.9,115.7 78.2,116.9 80.6,116.9" stroke="#6e70cc" stroke-width="0.55" fill="none" opacity="0.9"/>
<path d="M94.6,99.3 C93.2,101.7 91.1,104.1 91.9,101.7" stroke="#6e70cc" stroke-width="0.55" fill="none" opacity="0.9"/>
<path d="M94.6,90.5 C97.2,89.5 99.2,87.2 100.1,84.8" stroke="#6e70cc" stroke-width="0.55" fill="none" opacity="0.9"/>
<path d="M57.1,107.7 C59.7,108.7 61.6,110.2 61.7,107.9" stroke="#6e70cc" stroke-width="0.55" fill="none" opacity="0.9"/>
<path d="M91.9,93.0 C92.0,92.2 92.0,90.6 93.1,90.1" stroke="#6e70cc" stroke-width="0.55" fill="none" opacity="0.9"/>
<path d="M89.0,89.0 C88.9,89.3 91.5,89.6 89.5,88.6" stroke="#6e70cc" stroke-width="0.55" fill="none" opacity="0.9"/>
<path d="M78.5,112.7 C80.9,115.2 83.3,117.5 85.2,119.9" stroke="#6e70cc" stroke-width="0.55" fill="none" opacity="0.9"/>
<path d="M56.4,104.6 C56.9,105.6 57.5,106.2 59.9,104.0" stroke="#6e70cc" stroke-width="0.55" fill="none" opacity="0.9"/>
<path d="M91.3,122.5 C88.8,120.4 90.8,122.8 88.2,120.3" stroke="#6e70cc" stroke-width="0.55" fill="none" opacity="0.9"/>
<path d="M113.1,112.2 C113.2,112.6 114.6,114.3 111.9,111.9" stroke="#6e70cc" stroke-width="0.55" fill="none" opacity="0.9"/>
<path d="M110.6,123.1 C112.4,122.6 111.5,121.7 108.9,123.2" stroke="#6e70cc" stroke-width="0.55" fill="none" opacity="0.9"/>
<path d="M73.4,108.3 C73.5,107.4 74.4,107.1 73.0,109.2" stroke="#6e70cc" stroke-width="0.55" fill="none" opacity="0.9"/>
<path d="M67.3,91.7 C66.0,91.6 67.5,90.7 66.1,91.5" stroke="#6e70cc" stroke-width="0.55" fill="none" opacity="0.9"/>
<path d="M73.2,105.9 C71.9,107.9 70.2,106.5 69.1,105.5" stroke="#6e70cc" stroke-width="0.55" fill="none" opacity="0.9"/>
<path d="M105.9,111.6 C107.4,111.8 105.1,113.3 103.8,111.7" stroke="#6e70cc" stroke-width="0.55" fill="none" opacity="0.9"/>
<path d="M81.0,99.5 C83.2,102.2 82.6,100.2 84.1,101.8" stroke="#6e70cc" stroke-width="0.55" fill="none" opacity="0.9"/>
<path d="M78.7,116.0 C78.0,114.9 78.5,116.2 78.4,117.9" stroke="#6e70cc" stroke-width="0.55" fill="none" opacity="0.9"/>
<path d="M56.0,105.0 C55.3,102.6 57.6,100.7 56.0,102.7" stroke="#6e70cc" stroke-width="0.55" fill="none" opacity="0.9"/>
<path d="M78.9,121.4 C77.0,122.5 79.4,120.9 77.4,121.8" stroke="#6e70cc" stroke-width="0.55" fill="none" opacity="0.9"/>
<path d="M116.8,113.6 C119.2,113.4 118.5,111.3 117.3,113.7" stroke="#6e70cc" stroke-width="0.55" fill="none" opacity="0.9"/>
<path d="M60.0,93.0 C59.2,90.6 58.2,88.9 56.1,89.0" stroke="#6e70cc" stroke-width="0.55" fill="none" opacity="0.9"/>
<path d="M92.8,107.6 C94.2,107.7 96.7,105.5 95.2,103.2" stroke="#6e70cc" stroke-width="0.55" fill="none" opacity="0.9"/>
<path d="M76.7,114.9 C78.9,114.9 77.1,114.0 77.5,112.9" stroke="#6e70cc" stroke-width="0.55" fill="none" opacity="0.9"/>
<path d="M110.5,123.0 C110.3,123.5 112.1,123.3 110.5,125.7" stroke="#6e70cc" stroke-width="0.55" fill="none" opacity="0.9"/>
<path d="M108.4,101.2 C106.0,99.4 104.2,100.7 102.6,98.1" stroke="#6e70cc" stroke-width="0.55" fill="none" opacity="0.9"/>
<path d="M70.4,116.4 C70.4,117.2 70.2,115.5 67.6,114.4" stroke="#6e70cc" stroke-width="0.55" fill="none" opacity="0.9"/>
<path d="M57.9,95.9 C58.5,95.2 58.4,95.9 57.4,95.1" stroke="#6e70cc" stroke-width="0.55" fill="none" opacity="0.9"/>
<path d="M116.9,108.1 C116.4,108.3 116.2,107.4 118.4,105.9" stroke="#6e70cc" stroke-width="0.55" fill="none" opacity="0.9"/>
<path d="M120.5,118.4 C122.6,116.6 122.6,119.2 121.5,117.4" stroke="#6e70cc" stroke-width="0.55" fill="none" opacity="0.9"/>
<path d="M105.6,94.9 C106.1,93.1 108.5,91.9 106.3,92.9" stroke="#6e70cc" stroke-width="0.55" fill="none" opacity="0.9"/>
<path d="M79.3,107.3 C79.3,109.5 79.4,108.9 76.7,108.9" stroke="#6e70cc" stroke-width="0.55" fill="none" opacity="0.9"/>
<path d="M73.8,107.8 C74.5,107.6 72.3,107.6 72.2,108.4" stroke="#6e70cc" stroke-width="0.55" fill="none" opacity="0.9"/>
<path d="M122.9,96.6 C122.6,94.4 124.2,93.0 126.0,94.6" stroke="#6e70cc" stroke-width="0.55" fill="none" opacity="0.9"/>
<path d="M72.8,120.3 C72.8,119.9 73.1,122.3 73.1,122.2" stroke="#6e70cc" stroke-width="0.55" fill="none" opacity="0.9"/>
<path d="M75.3,118.0 C75.4,117.1 73.7,115.6 75.5,117.2" stroke="#6e70cc" stroke-width="0.55" fill="none" opacity="0.9"/>
<path d="M103.0,116.3 C104.1,118.0 105.7,116.2 107.4,115.2" stroke="#6e70cc" stroke-width="0.55" fill="none" opacity="0.9"/>
<path d="M72.1,120.9 C69.5,121.0 68.7,122.6 69.3,124.8" stroke="#6e70cc" stroke-width="0.55" fill="none" opacity="0.9"/>
<path d="M120.3,110.5 C117.9,111.4 115.8,114.0 117.8,113.0" stroke="#6e70cc" stroke-width="0.55" fill="none" opacity="0.9"/>
<path d="M68.0,112.4 C69.4,115.0 70.1,113.0 71.3,110.6" stroke="#6e70cc" stroke-width="0.55" fill="none" opacity="0.9"/>
<path d="M115.7,115.2 C117.3,117.2 117.7,119.6 118.4,119.6" stroke="#6e70cc" stroke-width="0.55" fill="none" opacity="0.9"/>
<path d="M81.9,99.4 C79.3,97.6 80.9,96.1 81.8,97.6" stroke="#6e70cc" stroke-width="0.55" fill="none" opacity="0.9"/>
<path d="M103.6,105.6 C102.6,104.4 100.9,105.2 101.9,107.6" stroke="#6e70cc" stroke-width="0.55" fill="none" opacity="0.9"/>
<path d="M78.1,121.2 C80.4,120.1 82.8,120.7 85.3,122.2" stroke="#6e70cc" stroke-width="0.55" fill="none" opacity="0.9"/>
<path d="M78.3,96.6 C78.5,96.5 75.9,98.5 76.1,98.4" stroke="#6e70cc" stroke-width="0.55" fill="none" opacity="0.9"/>
<path d="M107.1,95.5 C105.5,95.9 104.1,95.0 101.8,92.6" stroke="#6e70cc" stroke-width="0.55" fill="none" opacity="0.9"/>
<path d="M79.9,106.0 C82.3,106.8 81.8,106.3 80.4,106.1" stroke="#6e70cc" stroke-width="0.55" fill="none" opacity="0.9"/>
<path d="M85.3,112.1 C86.7,112.4 87.5,114.7 89.7,113.4" stroke="#6e70cc" stroke-width="0.55" fill="none" opacity="0.9"/>
<path d="M91.9,93.2 C93.4,90.8 91.5,91.1 90.3,92.3" stroke="#6e70cc" stroke-width="0.55" fill="none" opacity="0.9"/>
<path d="M105.9,98.1 C107.3,98.9 108.4,98.7 108.1,96.6" stroke="#6e70cc" stroke-width="0.55" fill="none" opacity="0.9"/>
<path d="M88.2,122.3 C90.3,119.9 88.0,118.6 89.1,118.3" stroke="#6e70cc" stroke-width="0.55" fill="none" opacity="0.9"/>
<path d="M63.9,102.2 C64.3,103.5 63.8,104.3 64.8,104.9" stroke="#6e70cc" stroke-width="0.55" fill="none" opacity="0.9"/>
<path d="M64.0,88.1 C63.9,85.5 61.6,84.9 61.4,82.8" stroke="#6e70cc" stroke-width="0.55" fill="none" opacity="0.9"/>
<path d="M121.8,118.4 C121.7,118.9 120.7,121.5 118.6,120.4" stroke="#6e70cc" stroke-width="0.55" fill="none" opacity="0.9"/>
<path d="M70.5,118.9 C70.5,118.4 70.0,120.5 68.7,122.1" stroke="#6e70cc" stroke-width="0.55" fill="none" opacity="0.9"/>
<path d="M104.6,103.0 C103.8,102.7 103.6,101.7 104.3,101.2" stroke="#6e70cc" stroke-width="0.55" fill="none" opacity="0.9"/>
<path d="M76.3,115.4 C76.0,115.2 78.1,115.0 77.4,117.1" stroke="#6e70cc" stroke-width="0.55" fill="none" opacity="0.9"/>
<path d="M123.3,115.9 C122.8,116.8 124.1,115.7 125.3,118.1" stroke="#6e70cc" stroke-width="0.55" fill="none" opacity="0.9"/>
<path d="M100.9,111.4 C100.6,112.2 99.1,113.7 99.3,116.3" stroke="#6e70cc" stroke-width="0.55" fill="none" opacity="0.9"/>
<path d="M78.9,113.0 C76.3,112.6 77.7,111.3 78.4,109.8" stroke="#6e70cc" stroke-width="0.55" fill="none" opacity="0.9"/>
<path d="M68.8,120.7 C66.4,121.1 68.1,123.0 67.5,123.4" stroke="#6e70cc" stroke-width="0.55" fill="none" opacity="0.9"/>
<path d="M104.8,114.9 C106.2,115.4 104.8,116.5 105.2,116.7" stroke="#6e70cc" stroke-width="0.55" fill="none" opacity="0.9"/>
<path d="M109.6,98.3 C110.9,100.8 109.7,101.1 109.8,101.1" stroke="#6e70cc" stroke-width="0.55" fill="none" opacity="0.9"/>
<path d="M66.7,109.8 C68.8,110.6 67.7,112.3 67.2,110.4" stroke="#6e70cc" stroke-width="0.55" fill="none" opacity="0.9"/>
<path d="M97.4,103.5 C97.6,106.1 97.9,108.6 97.1,110.0" stroke="#6e70cc" stroke-width="0.55" fill="none" opacity="0.9"/>
<path d="M60.3,97.4 C61.3,98.4 63.1,97.8 61.9,97.0" stroke="#6e70cc" stroke-width="0.55" fill="none" opacity="0.9"/>
<path d="M92.6,86.9 C91.9,87.8 90.0,86.7 92.0,89.1" stroke="#6e70cc" stroke-width="0.55" fill="none" opacity="0.9"/>
<path d="M72.5,92.8 C70.4,90.5 72.0,91.8 70.7,91.8" stroke="#6e70cc" stroke-width="0.55" fill="none" opacity="0.9"/>
<path d="M112.3,118.7 C110.8,119.8 111.8,118.9 113.9,117.4" stroke="#6e70cc" stroke-width="0.55" fill="none" opacity="0.9"/>
<path d="M88.2,97.9 C87.9,99.6 88.2,100.2 90.9,98.7" stroke="#6e70cc" stroke-width="0.55" fill="none" opacity="0.9"/>
<path d="M70.6,109.5 C68.7,112.1 67.8,111.7 67.5,113.5" stroke="#6e70cc" stroke-width="0.55" fill="none" opacity="0.9"/>
<path d="M119.1,111.7 C117.3,110.9 118.4,109.4 120.5,111.4" stroke="#6e70cc" stroke-width="0.55" fill="none" opacity="0.9"/>
<path d="M70.9,99.8 C69.4,101.0 66.9,102.1 64.6,103.9" stroke="#6e70cc" stroke-width="0.55" fill="none" opacity="0.9"/>
<path d="M93.0,108.2 C90.8,105.7 90.0,108.3 90.6,110.3" stroke="#6e70cc" stroke-width="0.55" fill="none" opacity="0.9"/>
<path d="M59.4,89.9 C56.8,90.9 55.1,89.7 56.0,90.8" stroke="#6e70cc" stroke-width="0.55" fill="none" opacity="0.9"/>
<path d="M77.6,103.8 C76.4,104.1 75.7,103.3 74.3,102.2" stroke="#6e70cc" stroke-width="0.55" fill="none" opacity="0.9"/>
<path d="M73.3,86.6 C72.2,87.1 71.0,85.0 72.9,84.9" stroke="#6e70cc" stroke-width="0.55" fill="none" opacity="0.9"/>
<path d="M90.8,97.9 C92.9,99.2 93.6,100.1 94.6,100.1" stroke="#6e70cc" stroke-width="0.55" fill="none" opacity="0.9"/>
<path d="M83.9,100.8 C83.9,100.7 84.1,100.8 85.7,102.9" stroke="#6e70cc" stroke-width="0.55" fill="none" opacity="0.9"/>
<path d="M70.7,86.8 C69.6,84.3 71.2,85.0 70.0,83.3" stroke="#6e70cc" stroke-width="0.55" fill="none" opacity="0.9"/>
<path d="M115.8,117.8 C116.8,118.8 118.1,118.6 117.6,118.8" stroke="#6e70cc" stroke-width="0.55" fill="none" opacity="0.9"/>
<path d="M119.2,117.7 C116.9,116.4 119.4,116.6 119.5,115.6" stroke="#6e70cc" stroke-width="0.55" fill="none" opacity="0.9"/>
<path d="M115.3,105.6 C118.0,103.3 120.6,100.7 118.8,100.1" stroke="#6e70cc" stroke-width="0.55" fill="none" opacity="0.9"/>
<path d="M99.8,90.2 C100.1,92.6 99.8,94.0 100.3,94.4" stroke="#6e70cc" stroke-width="0.55" fill="none" opacity="0.9"/>
<path d="M67.1,103.6 C69.3,104.6 67.8,104.3 68.0,103.4" stroke="#6e70cc" stroke-width="0.55" fill="none" opacity="0.9"/>
<path d="M95.4,110.0 C92.8,108.5 93.7,106.9 91.4,108.4" stroke="#6e70cc" stroke-width="0.55" fill="none" opacity="0.9"/>
<path d="M78.4,122.4 C78.7,120.2 79.4,119.0 81.1,120.2" stroke="#6e70cc" stroke-width="0.55" fill="none" opacity="0.9"/>
<path d="M64.8,93.7 C62.3,91.9 62.2,94.3 61.2,93.0" stroke="#6e70cc" stroke-width="0.55" fill="none" opacity="0.9"/>
<path d="M113.0,93.0 C113.7,93.6 116.0,91.2 116.4,90.5" stroke="#6e70cc" stroke-width="0.55" fill="none" opacity="0.9"/>
<path d="M112.7,95.6 C113.8,93.9 113.8,96.4 112.4,95.2" stroke="#6e70cc" stroke-width="0.55" fill="none" opacity="0.9"/>
<path d="M119.2,111.6 C116.9,109.9 115.5,108.8 117.3,109.9" stroke="#6e70cc" stroke-width="0.55" fill="none" opacity="0.9"/>
<path d="M123.6,111.4 C124.3,110.8 125.4,110.8 123.1,110.7" stroke="#6e70cc" stroke-width="0.55" fill="none" opacity="0.9"/>
<path d="M81.9,106.2 C79.4,103.6 82.1,102.9 81.1,101.0" stroke="#6e70cc" stroke-width="0.55" fill="none" opacity="0.9"/>
<path d="M96.5,120.8 C94.7,120.8 94.7,122.2 95.1,120.8" stroke="#6e70cc" stroke-width="0.55" fill="none" opacity="0.9"/>
<path d="M68.3,113.5 C66.0,115.5 63.5,113.8 63.3,115.7" stroke="#6e70cc" stroke-width="0.55" fill="none" opacity="0.9"/>
<path d="M98.4,114.3 C99.8,115.5 97.4,117.3 95.5,115.5" stroke="#6e70cc" stroke-width="0.55" fill="none" opacity="0.9"/>
<path d="M57.6,87.1 C59.7,86.4 57.4,84.0 59.3,84.5" stroke="#6e70cc" stroke-width="0.55" fill="none" opacity="0.9"/>
<path d="M62.9,96.9 C61.2,94.8 59.6,95.6 57.8,93.8" stroke="#6e70cc" stroke-width="0.55" fill="none" opacity="0.9"/>
<path d="M92.5,100.3 C90.6,100.6 90.6,100.0 90.5,97.5" stroke="#6e70cc" stroke-width="0.55" fill="none" opacity="0.9"/>
<path d="M98.1,93.3 C97.2,90.7 99.3,91.2 98.7,91.4" stroke="#6e70cc" stroke-width="0.55" fill="none" opacity="0.9"/>
<path d="M81.8,112.9 C81.1,114.0 83.4,111.5 82.2,110.4" stroke="#6e70cc" stroke-width="0.55" fill="none" opacity="0.9"/>
<path d="M107.5,115.8 C108.6,118.1 106.9,117.5 108.8,119.0" stroke="#6e70cc" stroke-width="0.55" fill="none" opacity="0.9"/>
<path d="M106.8,118.9 C106.1,119.5 108.6,121.6 109.0,123.7" stroke="#6e70cc" stroke-width="0.55" fill="none" opacity="0.9"/>
<path d="M124.9,117.9 C125.8,120.4 123.8,119.9 124.2,117.9" stroke="#6e70cc" stroke-width="0.55" fill="none" opacity="0.9"/>
<path d="M99.0,96.6 C98.1,97.2 96.4,96.9 98.3,99.6" stroke="#6e70cc" stroke-width="0.55" fill="none" opacity="0.9"/>
<path d="M73.4,99.9 C74.4,98.2 76.3,96.6 76.6,95.7" stroke="#6e70cc" stroke-width="0.55" fill="none" opacity="0.9"/>
<path d="M99.6,88.5 C100.8,87.0 100.7,88.2 102.6,90.6" stroke="#6e70cc" stroke-width="0.55" fill="none" opacity="0.9"/>
<path d="M84.5,98.1 C83.9,97.1 85.2,96.9 86.2,95.0" stroke="#6e70cc" stroke-width="0.55" fill="none" opacity="0.9"/>
<path d="M109.8,122.7 C108.2,123.4 106.4,120.9 105.9,119.1" stroke="#6e70cc" stroke-width="0.55" fill="none" opacity="0.9"/>
<path d="M106.1,107.7 C107.1,110.3 104.7,108.1 102.2,107.9" stroke="#6e70cc" stroke-width="0.55" fill="none" opacity="0.9"/>
<path d="M112.7,112.0 C113.0,113.9 112.3,111.8 113.0,109.3" stroke="#6e70cc" stroke-width="0.55" fill="none" opacity="0.9"/>
<path d="M71.1,87.1 C69.2,84.8 69.4,82.8 70.0,84.5" stroke="#6e70cc" stroke-width="0.55" fill="none" opacity="0.9"/>
<path d="M79.1,90.6 C80.0,91.8 82.1,92.1 82.5,94.1" stroke="#6e70cc" stroke-width="0.55" fill="none" opacity="0.9"/>
<ellipse cx="80.7" cy="11.9" rx="1.61" ry="2.05" transform="rotate(28.9 80.7 11.9)" fill="#8a8ee0" fill-opacity="0.5" stroke="#1e2096" stroke-width="1.1"/>
<ellipse cx="83.2" cy="12.6" rx="1.61" ry="2.05" transform="rotate(28.9 83.2 12.6)" fill="#8a8ee0" fill-opacity="0.5" stroke="#1e2096" stroke-width="1.1"/>
<ellipse cx="85.7" cy="13.4" rx="1.61" ry="2.05" transform="rotate(28.9 85.7 13.4)" fill="#8a8ee0" fill-opacity="0.5" stroke="#1e2096" stroke-width="1.1"/>
<ellipse cx="88.2" cy="14.1" rx="1.61" ry="2.05" transform="rotate(28.9 88.2 14.1)" fill="#8a8ee0" fill-opacity="0.5" stroke="#1e2096" stroke-width="1.1"/>
<ellipse cx="90.7" cy="14.9" rx="1.61" ry="2.05" transform="rotate(28.9 90.7 14.9)" fill="#8a8ee0" fill-opacity="0.5" stroke="#1e2096" stroke-width="1.1"/>
<ellipse cx="93.2" cy="15.6" rx="1.61" ry="2.05" transform="rotate(28.9 93.2 15.6)" fill="#8a8ee0" fill-opacity="0.5" stroke="#1e2096" stroke-width="1.1"/>
<path d="M88.9,20.0 Q89.2,24.6 90.5,29.3" stroke="#3a3ecc" stroke-width="1.5" fill="none" stroke-linecap="round" opacity="1.0"/>
<path d="M86.4,21.8 Q87.1,25.2 87.9,28.7" stroke="#3a3ecc" stroke-width="1.5" fill="none" stroke-linecap="round" opacity="1.0"/>
<path d="M83.9,23.0 Q82.8,26.8 85.4,30.0" stroke="#3a3ecc" stroke-width="1.5" fill="none" stroke-linecap="round" opacity="1.0"/>
<path d="M81.9,23.0 Q82.9,27.4 83.1,30.9" stroke="#3a3ecc" stroke-width="1.5" fill="none" stroke-linecap="round" opacity="1.0"/>
<path d="M77.4,25.2 Q77.1,26.5 80.3,29.6" stroke="#2428aa" stroke-width="1.5" fill="none" stroke-linecap="round" opacity="1.0"/>
<path d="M75.1,26.8 Q77.8,28.7 78.1,30.9" stroke="#2428aa" stroke-width="1.5" fill="none" stroke-linecap="round" opacity="1.0"/>
<path d="M80.9,54.3 C80.5,52.9 79.5,55.6 77.5,52.1" stroke="#6a6cc8" stroke-width="0.6" fill="none" opacity="0.9"/>
<path d="M91.7,47.6 C89.0,45.0 91.8,46.8 88.7,48.0" stroke="#6a6cc8" stroke-width="0.6" fill="none" opacity="0.9"/>
<path d="M66.1,46.7 C66.9,43.5 70.0,42.3 67.5,44.3" stroke="#6a6cc8" stroke-width="0.6" fill="none" opacity="0.9"/>
<path d="M62.1,36.9 C63.2,36.7 66.1,38.8 64.0,35.5" stroke="#6a6cc8" stroke-width="0.6" fill="none" opacity="0.9"/>
<path d="M80.9,47.3 C79.5,50.3 77.4,51.3 74.3,54.4" stroke="#6a6cc8" stroke-width="0.6" fill="none" opacity="0.9"/>
<path d="M70.2,53.4 C73.1,55.5 69.8,55.5 67.2,55.9" stroke="#6a6cc8" stroke-width="0.6" fill="none" opacity="0.9"/>
<path d="M67.5,49.2 C66.1,46.9 67.9,48.7 66.7,48.2" stroke="#6a6cc8" stroke-width="0.6" fill="none" opacity="0.9"/>
<path d="M84.5,53.5 C84.2,50.7 81.3,48.3 83.6,48.3" stroke="#6a6cc8" stroke-width="0.6" fill="none" opacity="0.9"/>
<path d="M82.5,44.7 C81.5,42.4 85.0,43.2 82.3,44.6" stroke="#6a6cc8" stroke-width="0.6" fill="none" opacity="0.9"/>
<path d="M80.7,50.7 C82.7,51.5 85.4,54.9 84.7,55.9" stroke="#6a6cc8" stroke-width="0.6" fill="none" opacity="0.9"/>
<path d="M72.2,45.9 C71.3,46.9 70.2,45.8 72.7,48.0" stroke="#6a6cc8" stroke-width="0.6" fill="none" opacity="0.9"/>
<path d="M83.7,56.2 C82.9,57.3 81.1,55.9 78.2,58.1" stroke="#6a6cc8" stroke-width="0.6" fill="none" opacity="0.9"/>
<path d="M72.4,38.8 C69.8,39.8 72.6,36.8 70.9,38.7" stroke="#6a6cc8" stroke-width="0.6" fill="none" opacity="0.9"/>
<path d="M66.6,57.1 C65.5,56.9 63.4,55.4 62.8,53.8" stroke="#6a6cc8" stroke-width="0.6" fill="none" opacity="0.9"/>
<path d="M82.3,55.3 C81.0,53.0 78.3,50.0 80.4,50.7" stroke="#6a6cc8" stroke-width="0.6" fill="none" opacity="0.9"/>
<path d="M80.8,43.7 C77.4,43.1 76.3,46.5 75.3,49.5" stroke="#6a6cc8" stroke-width="0.6" fill="none" opacity="0.9"/>
<path d="M91.0,49.8 C88.3,52.0 85.3,52.4 82.4,49.5" stroke="#6a6cc8" stroke-width="0.6" fill="none" opacity="0.9"/>
<path d="M73.6,39.8 C77.1,40.3 80.0,43.6 81.9,44.6" stroke="#6a6cc8" stroke-width="0.6" fill="none" opacity="0.9"/>
<path d="M76.0,54.7 C77.2,52.2 77.4,51.6 77.5,53.1" stroke="#6a6cc8" stroke-width="0.6" fill="none" opacity="0.9"/>
<path d="M84.2,49.7 C86.3,52.0 83.3,49.5 80.1,47.0" stroke="#6a6cc8" stroke-width="0.6" fill="none" opacity="0.9"/>
<path d="M74.7,47.2 C75.1,45.6 77.2,44.4 79.6,46.6" stroke="#6a6cc8" stroke-width="0.6" fill="none" opacity="0.9"/>
<path d="M60.6,42.4 C62.6,43.1 63.8,42.4 63.9,40.3" stroke="#6a6cc8" stroke-width="0.6" fill="none" opacity="0.9"/>
<path d="M75.6,42.2 C76.8,39.3 74.2,37.2 74.5,37.8" stroke="#6a6cc8" stroke-width="0.6" fill="none" opacity="0.9"/>
<path d="M89.7,45.1 C87.3,47.5 90.7,45.1 92.6,47.4" stroke="#6a6cc8" stroke-width="0.6" fill="none" opacity="0.9"/>
<path d="M62.6,39.9 C60.6,42.8 63.6,42.6 60.9,41.6" stroke="#6a6cc8" stroke-width="0.6" fill="none" opacity="0.9"/>
<path d="M67.2,51.6 C68.7,53.5 68.3,53.2 68.1,52.3" stroke="#6a6cc8" stroke-width="0.6" fill="none" opacity="0.9"/>
<path d="M75.3,52.4 C76.8,51.2 77.3,48.6 74.0,47.8" stroke="#6a6cc8" stroke-width="0.6" fill="none" opacity="0.9"/>
<path d="M71.7,36.8 C68.6,36.2 71.8,38.7 68.4,37.4" stroke="#6a6cc8" stroke-width="0.6" fill="none" opacity="0.9"/>
<path d="M72.0,43.5 C69.4,44.1 71.8,43.3 69.5,40.4" stroke="#6a6cc8" stroke-width="0.6" fill="none" opacity="0.9"/>
<path d="M66.8,53.4 C68.9,50.4 66.6,49.0 68.6,50.8" stroke="#6a6cc8" stroke-width="0.6" fill="none" opacity="0.9"/>
<path d="M69.5,46.8 C68.5,46.6 70.6,44.9 72.8,48.0" stroke="#6a6cc8" stroke-width="0.6" fill="none" opacity="0.9"/>
<path d="M80.8,59.0 C84.0,56.7 87.5,54.5 89.7,51.8" stroke="#6a6cc8" stroke-width="0.6" fill="none" opacity="0.9"/>
<path d="M69.5,46.6 C71.9,47.9 69.8,50.8 72.4,50.8" stroke="#6a6cc8" stroke-width="0.6" fill="none" opacity="0.9"/>
<path d="M59.9,42.9 C58.4,42.3 61.6,43.0 63.9,39.9" stroke="#6a6cc8" stroke-width="0.6" fill="none" opacity="0.9"/>
<path d="M67.3,53.6 C66.2,51.6 63.0,48.4 62.4,48.7" stroke="#6a6cc8" stroke-width="0.6" fill="none" opacity="0.9"/>
<path d="M73.2,49.6 C71.7,46.1 72.9,44.9 72.9,44.0" stroke="#6a6cc8" stroke-width="0.6" fill="none" opacity="0.9"/>
<path d="M68.3,37.2 C66.8,35.8 64.0,32.4 63.9,28.9" stroke="#6a6cc8" stroke-width="0.6" fill="none" opacity="0.9"/>
<path d="M91.4,44.6 C91.0,44.8 87.6,42.0 89.6,42.4" stroke="#6a6cc8" stroke-width="0.6" fill="none" opacity="0.9"/>
<path d="M76.7,44.3 C78.6,44.3 80.7,46.7 83.5,48.3" stroke="#6a6cc8" stroke-width="0.6" fill="none" opacity="0.9"/>
<path d="M83.6,47.1 C83.8,47.6 84.0,49.9 86.6,46.7" stroke="#6a6cc8" stroke-width="0.6" fill="none" opacity="0.9"/>
<path d="M77.2,50.3 Q76.0,47.5 74.9,45.5" stroke="#3a3ecc" stroke-width="1.76" fill="none" opacity="1.0" stroke-linecap="round"/>
<path d="M61.4,49.9 Q62.7,47.0 62.5,44.1" stroke="#3a3ecc" stroke-width="1.61" fill="none" opacity="1.0" stroke-linecap="round"/>
<path d="M63.0,48.1 Q66.5,53.0 67.7,56.2" stroke="#3a3ecc" stroke-width="1.29" fill="none" opacity="1.0" stroke-linecap="round"/>
<path d="M55.4,48.4 Q58.6,50.7 64.5,50.3" stroke="#3a3ecc" stroke-width="1.47" fill="none" opacity="1.0" stroke-linecap="round"/>
<path d="M68.1,37.6 Q66.0,39.0 64.2,41.8" stroke="#3a3ecc" stroke-width="1.57" fill="none" opacity="1.0" stroke-linecap="round"/>
<path d="M61.1,47.0 Q60.6,43.1 60.1,39.6" stroke="#3a3ecc" stroke-width="1.52" fill="none" opacity="1.0" stroke-linecap="round"/>
<path d="M63.3,46.2 Q63.0,43.4 63.7,37.6" stroke="#3a3ecc" stroke-width="1.32" fill="none" opacity="1.0" stroke-linecap="round"/>
<path d="M58.9,46.8 Q61.7,48.9 67.1,52.6" stroke="#3a3ecc" stroke-width="1.27" fill="none" opacity="1.0" stroke-linecap="round"/>
<path d="M71.5,51.7 Q78.3,53.0 82.2,53.0" stroke="#3a3ecc" stroke-width="1.43" fill="none" opacity="1.0" stroke-linecap="round"/>
<path d="M72.9,47.6 Q75.2,50.4 78.9,53.0" stroke="#3a3ecc" stroke-width="1.56" fill="none" opacity="1.0" stroke-linecap="round"/>
<path d="M67.5,45.6 Q65.0,49.6 64.1,50.9" stroke="#3a3ecc" stroke-width="1.77" fill="none" opacity="1.0" stroke-linecap="round"/>
<path d="M76.0,37.5 Q72.6,40.2 67.2,40.9" stroke="#3a3ecc" stroke-width="1.13" fill="none" opacity="1.0" stroke-linecap="round"/>
<path d="M63.5,53.4 Q59.3,50.2 55.4,46.0" stroke="#3a3ecc" stroke-width="1.57" fill="none" opacity="1.0" stroke-linecap="round"/>
<path d="M70.5,42.3 Q73.4,45.1 78.8,45.5" stroke="#3a3ecc" stroke-width="1.61" fill="none" opacity="1.0" stroke-linecap="round"/>
<path d="M73.4,43.0 Q77.4,44.2 81.1,47.8" stroke="#3a3ecc" stroke-width="1.10" fill="none" opacity="1.0" stroke-linecap="round"/>
<path d="M67.2,38.8 Q66.7,41.7 67.9,45.1" stroke="#3a3ecc" stroke-width="1.59" fill="none" opacity="1.0" stroke-linecap="round"/>
<path d="M69.9,51.9 Q71.3,50.2 75.3,47.5" stroke="#3a3ecc" stroke-width="1.14" fill="none" opacity="1.0" stroke-linecap="round"/>
<path d="M70.6,55.0 Q74.7,53.5 78.1,50.1" stroke="#3a3ecc" stroke-width="1.77" fill="none" opacity="1.0" stroke-linecap="round"/>
<path d="M71.7,44.8 Q71.3,49.2 73.8,51.6" stroke="#3a3ecc" stroke-width="1.54" fill="none" opacity="1.0" stroke-linecap="round"/>
<path d="M76.0,55.2 Q78.4,51.5 80.9,45.5" stroke="#3a3ecc" stroke-width="1.38" fill="none" opacity="1.0" stroke-linecap="round"/>
<path d="M62.7,56.5 Q65.2,53.3 70.2,51.3" stroke="#3a3ecc" stroke-width="1.38" fill="none" opacity="1.0" stroke-linecap="round"/>
<path d="M58.3,44.9 Q61.9,47.1 63.7,50.2" stroke="#3a3ecc" stroke-width="1.78" fill="none" opacity="1.0" stroke-linecap="round"/>
<path d="M59.4,45.8 Q63.9,45.9 66.0,47.2" stroke="#3a3ecc" stroke-width="1.44" fill="none" opacity="1.0" stroke-linecap="round"/>
<path d="M66.8,40.7 Q69.3,41.8 74.4,43.8" stroke="#3a3ecc" stroke-width="1.30" fill="none" opacity="1.0" stroke-linecap="round"/>
<path d="M72.7,51.9 Q78.3,49.0 82.4,48.7" stroke="#3a3ecc" stroke-width="1.19" fill="none" opacity="1.0" stroke-linecap="round"/>
<path d="M75.0,56.8 Q76.8,50.4 76.9,46.1" stroke="#3a3ecc" stroke-width="1.50" fill="none" opacity="1.0" stroke-linecap="round"/>
<path d="M75.7,44.7 Q72.3,49.1 70.3,50.7" stroke="#3a3ecc" stroke-width="1.37" fill="none" opacity="1.0" stroke-linecap="round"/>
<path d="M62.4,47.0 Q58.8,48.1 56.9,50.5" stroke="#3a3ecc" stroke-width="1.52" fill="none" opacity="1.0" stroke-linecap="round"/>
<path d="M70.0,49.1 Q67.7,46.9 63.0,46.2" stroke="#2428aa" stroke-width="1.78" fill="none" opacity="1.0" stroke-linecap="round"/>
<path d="M64.8,48.3 Q62.1,48.2 61.7,45.4" stroke="#2428aa" stroke-width="1.29" fill="none" opacity="1.0" stroke-linecap="round"/>
<path d="M73.7,45.0 Q73.2,47.2 70.4,47.6" stroke="#2428aa" stroke-width="1.55" fill="none" opacity="1.0" stroke-linecap="round"/>
<path d="M68.7,41.3 Q73.1,41.9 74.9,41.4" stroke="#2428aa" stroke-width="1.28" fill="none" opacity="1.0" stroke-linecap="round"/>
<path d="M70.8,50.9 Q71.8,48.1 73.4,45.1" stroke="#2428aa" stroke-width="1.39" fill="none" opacity="1.0" stroke-linecap="round"/>
<path d="M67.4,47.6 Q66.8,49.5 64.6,52.2" stroke="#2428aa" stroke-width="1.33" fill="none" opacity="1.0" stroke-linecap="round"/>
<path d="M67.1,40.9 Q70.6,43.0 73.4,42.4" stroke="#2428aa" stroke-width="1.41" fill="none" opacity="1.0" stroke-linecap="round"/>
<path d="M63.1,42.4 Q63.9,43.2 67.4,44.1" stroke="#2428aa" stroke-width="1.49" fill="none" opacity="1.0" stroke-linecap="round"/>
<path d="M65.5,53.1 Q66.0,49.1 68.8,47.9" stroke="#2428aa" stroke-width="1.63" fill="none" opacity="1.0" stroke-linecap="round"/>
<path d="M74.3,41.1 Q72.8,44.0 69.3,45.6" stroke="#2428aa" stroke-width="1.37" fill="none" opacity="1.0" stroke-linecap="round"/>
<path d="M67.0,49.4 Q62.8,50.3 61.4,51.9" stroke="#2428aa" stroke-width="1.84" fill="none" opacity="1.0" stroke-linecap="round"/>
<path d="M63.0,46.0 Q64.1,43.5 62.9,41.9" stroke="#2428aa" stroke-width="1.26" fill="none" opacity="1.0" stroke-linecap="round"/>
<path d="M67.6,46.3 Q65.8,43.1 66.3,39.8" stroke="#2428aa" stroke-width="1.24" fill="none" opacity="1.0" stroke-linecap="round"/>
<path d="M66.4,47.3 Q69.1,48.3 70.0,50.9" stroke="#2428aa" stroke-width="1.48" fill="none" opacity="1.0" stroke-linecap="round"/>
<path d="M60.1,45.5 Q61.0,49.8 63.4,52.6" stroke="#3a3ecc" stroke-width="1.5" fill="none" stroke-linecap="round" opacity="1.0"/>
<path d="M58.2,46.0 Q60.6,49.5 61.4,52.9" stroke="#3a3ecc" stroke-width="1.5" fill="none" stroke-linecap="round" opacity="1.0"/>
<path d="M56.4,48.4 Q59.4,51.6 59.6,53.3" stroke="#3a3ecc" stroke-width="1.5" fill="none" stroke-linecap="round" opacity="1.0"/>
<path d="M98.1,48.1 Q102.3,55.4 104.5,61.6" stroke="#3a3ecc" stroke-width="1.3" fill="none" stroke-linecap="round" opacity="0.9"/>
<path d="M93.4,49.8 Q100.0,56.2 103.8,61.2" stroke="#3a3ecc" stroke-width="1.3" fill="none" stroke-linecap="round" opacity="0.9"/>
<path d="M93.4,51.2 Q98.2,56.2 100.7,62.8" stroke="#3a3ecc" stroke-width="1.3" fill="none" stroke-linecap="round" opacity="0.9"/>
<path d="M92.1,53.5 Q96.5,59.0 98.6,65.5" stroke="#3a3ecc" stroke-width="1.3" fill="none" stroke-linecap="round" opacity="0.9"/>
<path d="M107.6,64.2 Q108.4,68.7 110.5,71.9" stroke="#3a3ecc" stroke-width="1.3" fill="none" stroke-linecap="round" opacity="0.9"/>
<path d="M105.6,66.1 Q106.3,70.1 109.1,75.1" stroke="#3a3ecc" stroke-width="1.3" fill="none" stroke-linecap="round" opacity="0.9"/>
<path d="M102.4,67.6 Q102.8,71.2 106.7,75.5" stroke="#3a3ecc" stroke-width="1.3" fill="none" stroke-linecap="round" opacity="0.9"/>
<path d="M86.0,45.8 Q88.6,48.8 92.2,48.7" stroke="#3a3ecc" stroke-width="1.1" fill="none" stroke-linecap="round" opacity="0.85"/>
<path d="M84.9,47.5 Q87.2,48.8 90.7,50.1" stroke="#3a3ecc" stroke-width="1.1" fill="none" stroke-linecap="round" opacity="0.85"/>
<path d="M66.5,60.7 Q69.4,66.1 69.0,71.6" stroke="#3a3ecc" stroke-width="1.6" fill="none" stroke-linecap="round" opacity="1.0"/>
<path d="M63.8,61.0 Q65.7,67.8 67.1,75.4" stroke="#3a3ecc" stroke-width="1.6" fill="none" stroke-linecap="round" opacity="1.0"/>
<path d="M60.6,60.9 Q63.2,67.5 65.4,74.7" stroke="#3a3ecc" stroke-width="1.6" fill="none" stroke-linecap="round" opacity="1.0"/>
<path d="M58.6,63.1 Q59.2,68.4 62.3,73.6" stroke="#3a3ecc" stroke-width="1.6" fill="none" stroke-linecap="round" opacity="1.0"/>
<path d="M56.2,61.1 Q57.0,68.4 60.5,75.5" stroke="#3a3ecc" stroke-width="1.6" fill="none" stroke-linecap="round" opacity="1.0"/>
<path d="M73.7,62.7 Q76.8,69.5 79.3,75.4" stroke="#2428aa" stroke-width="1.6" fill="none" stroke-linecap="round" opacity="1.0"/>
<path d="M70.7,63.3 Q74.0,70.1 77.7,77.1" stroke="#2428aa" stroke-width="1.6" fill="none" stroke-linecap="round" opacity="1.0"/>
<path d="M68.1,64.0 Q73.5,71.2 75.3,77.6" stroke="#2428aa" stroke-width="1.6" fill="none" stroke-linecap="round" opacity="1.0"/>
<path d="M67.2,64.0 Q70.3,71.3 71.5,78.4" stroke="#2428aa" stroke-width="1.6" fill="none" stroke-linecap="round" opacity="1.0"/>
<path d="M87.3,68.0 Q90.3,74.6 91.8,80.5" stroke="#3a3ecc" stroke-width="1.6" fill="none" stroke-linecap="round" opacity="1.0"/>
<path d="M86.1,70.9 Q88.0,76.6 88.6,80.9" stroke="#3a3ecc" stroke-width="1.6" fill="none" stroke-linecap="round" opacity="1.0"/>
<path d="M82.1,71.4 Q86.1,76.0 87.3,82.0" stroke="#3a3ecc" stroke-width="1.6" fill="none" stroke-linecap="round" opacity="1.0"/>
<path d="M80.8,70.9 Q83.8,77.0 84.2,82.3" stroke="#3a3ecc" stroke-width="1.6" fill="none" stroke-linecap="round" opacity="1.0"/>
<path d="M67.4,78.5 Q69.2,82.1 72.5,82.3" stroke="#3a3ecc" stroke-width="1.3" fill="none" stroke-linecap="round" opacity="1.0"/>
<path d="M66.7,80.2 Q70.1,81.7 72.9,84.0" stroke="#3a3ecc" stroke-width="1.3" fill="none" stroke-linecap="round" opacity="1.0"/>
<path d="M64.5,82.0 Q67.0,83.2 70.3,86.3" stroke="#3a3ecc" stroke-width="1.3" fill="none" stroke-linecap="round" opacity="1.0"/>
<path d="M92.9,78.8 Q92.9,81.7 93.2,84.5" stroke="#3a3ecc" stroke-width="1.3" fill="none" stroke-linecap="round" opacity="1.0"/>
<path d="M90.3,78.9 Q90.7,82.4 91.4,86.2" stroke="#3a3ecc" stroke-width="1.3" fill="none" stroke-linecap="round" opacity="1.0"/>
<path d="M71.8,94.5 Q72.6,100.1 71.6,105.7" stroke="#3a3ecc" stroke-width="1.6" fill="none" stroke-linecap="round" opacity="1.0"/>
<path d="M69.1,92.4 Q71.0,98.9 69.6,105.6" stroke="#3a3ecc" stroke-width="1.6" fill="none" stroke-linecap="round" opacity="1.0"/>
<path d="M65.2,93.7 Q66.8,99.2 68.6,105.1" stroke="#3a3ecc" stroke-width="1.6" fill="none" stroke-linecap="round" opacity="1.0"/>
<path d="M63.6,93.7 Q64.2,100.5 65.7,107.4" stroke="#3a3ecc" stroke-width="1.6" fill="none" stroke-linecap="round" opacity="1.0"/>
<path d="M61.9,93.6 Q62.0,100.4 62.7,106.6" stroke="#3a3ecc" stroke-width="1.6" fill="none" stroke-linecap="round" opacity="1.0"/>
<path d="M81.5,96.8 Q84.2,103.3 85.8,109.9" stroke="#2428aa" stroke-width="1.6" fill="none" stroke-linecap="round" opacity="1.0"/>
<path d="M80.8,95.7 Q79.6,102.8 82.1,110.0" stroke="#2428aa" stroke-width="1.6" fill="none" stroke-linecap="round" opacity="1.0"/>
<path d="M76.1,96.5 Q80.9,103.9 82.0,111.1" stroke="#2428aa" stroke-width="1.6" fill="none" stroke-linecap="round" opacity="1.0"/>
<path d="M74.8,98.2 Q75.8,105.2 78.6,112.0" stroke="#2428aa" stroke-width="1.6" fill="none" stroke-linecap="round" opacity="1.0"/>
<path d="M72.8,98.7 Q76.0,105.7 75.9,112.2" stroke="#2428aa" stroke-width="1.6" fill="none" stroke-linecap="round" opacity="1.0"/>
<path d="M73.1,111.3 Q76.2,114.6 76.9,117.9" stroke="#3a3ecc" stroke-width="1.4" fill="none" stroke-linecap="round" opacity="1.0"/>
<path d="M70.7,113.0 Q71.9,115.0 74.6,118.3" stroke="#3a3ecc" stroke-width="1.4" fill="none" stroke-linecap="round" opacity="1.0"/>
<path d="M70.1,112.2 Q73.1,116.4 72.8,118.7" stroke="#3a3ecc" stroke-width="1.4" fill="none" stroke-linecap="round" opacity="1.0"/>
<path d="M91.7,95.0 Q93.7,101.0 93.1,107.1" stroke="#3a3ecc" stroke-width="1.5" fill="none" stroke-linecap="round" opacity="1.0"/>
<path d="M89.6,95.1 Q90.2,100.3 90.5,105.3" stroke="#3a3ecc" stroke-width="1.5" fill="none" stroke-linecap="round" opacity="1.0"/>
<path d="M88.0,95.0 Q87.2,100.8 87.3,106.8" stroke="#3a3ecc" stroke-width="1.5" fill="none" stroke-linecap="round" opacity="1.0"/>
<path d="M60.3,91.3 Q61.4,94.4 62.4,98.1" stroke="#3a3ecc" stroke-width="1.3" fill="none" stroke-linecap="round" opacity="1.0"/>
<path d="M57.6,93.5 Q58.3,96.0 59.8,99.1" stroke="#3a3ecc" stroke-width="1.3" fill="none" stroke-linecap="round" opacity="1.0"/>
<path d="M60.0,59.6 Q61.4,64.5 60.7,68.7" stroke="#3a3ecc" stroke-width="1.5" fill="none" stroke-linecap="round" opacity="1.0"/>
<path d="M57.5,59.1 Q58.2,63.6 58.4,68.0" stroke="#3a3ecc" stroke-width="1.5" fill="none" stroke-linecap="round" opacity="1.0"/>
<path d="M55.6,60.0 Q56.0,63.9 55.9,67.9" stroke="#3a3ecc" stroke-width="1.5" fill="none" stroke-linecap="round" opacity="1.0"/>
<path d="M81.4,57.5 Q80.6,61.7 83.3,65.4" stroke="#3a3ecc" stroke-width="1.4" fill="none" stroke-linecap="round" opacity="1.0"/>
<path d="M78.9,58.1 Q79.0,60.8 81.6,64.1" stroke="#3a3ecc" stroke-width="1.4" fill="none" stroke-linecap="round" opacity="1.0"/>
<path d="M77.1,59.4 Q79.4,62.3 78.0,65.8" stroke="#3a3ecc" stroke-width="1.4" fill="none" stroke-linecap="round" opacity="1.0"/>
<path d="M99.0,59.5 Q99.8,62.6 103.5,64.9" stroke="#2428aa" stroke-width="1.3" fill="none" stroke-linecap="round" opacity="1.0"/>
<path d="M97.1,60.6 Q100.9,64.3 103.1,68.6" stroke="#2428aa" stroke-width="1.3" fill="none" stroke-linecap="round" opacity="1.0"/>
<path d="M94.9,62.9 Q98.6,66.2 100.5,69.5" stroke="#2428aa" stroke-width="1.3" fill="none" stroke-linecap="round" opacity="1.0"/>
<path d="M62.3,105.0 Q65.2,109.2 66.1,114.1" stroke="#3a3ecc" stroke-width="1.5" fill="none" stroke-linecap="round" opacity="1.0"/>
<path d="M61.2,105.2 Q61.8,109.7 63.0,113.8" stroke="#3a3ecc" stroke-width="1.5" fill="none" stroke-linecap="round" opacity="1.0"/>
<path d="M58.2,106.5 Q59.6,111.2 61.0,116.6" stroke="#3a3ecc" stroke-width="1.5" fill="none" stroke-linecap="round" opacity="1.0"/>
<path d="M87.3,109.7 Q90.1,112.8 89.5,115.9" stroke="#3a3ecc" stroke-width="1.5" fill="none" stroke-linecap="round" opacity="1.0"/>
<path d="M85.3,111.1 Q87.3,114.7 86.6,117.9" stroke="#3a3ecc" stroke-width="1.5" fill="none" stroke-linecap="round" opacity="1.0"/>
<path d="M82.9,109.7 Q82.9,114.5 84.4,119.0" stroke="#3a3ecc" stroke-width="1.5" fill="none" stroke-linecap="round" opacity="1.0"/>
<path d="M95.4,89.1 Q98.4,92.1 98.6,95.1" stroke="#3a3ecc" stroke-width="1.4" fill="none" stroke-linecap="round" opacity="1.0"/>
<path d="M94.4,89.4 Q95.2,92.4 95.4,94.6" stroke="#3a3ecc" stroke-width="1.4" fill="none" stroke-linecap="round" opacity="1.0"/>
<path d="M86.0,90.2 Q86.8,94.2 86.8,98.4" stroke="#2428aa" stroke-width="1.5" fill="none" stroke-linecap="round" opacity="1.0"/>
<path d="M83.5,90.7 Q84.0,94.3 84.6,98.1" stroke="#2428aa" stroke-width="1.5" fill="none" stroke-linecap="round" opacity="1.0"/>
<path d="M81.3,89.9 Q81.6,93.1 82.0,96.6" stroke="#2428aa" stroke-width="1.5" fill="none" stroke-linecap="round" opacity="1.0"/>
<path d="M99.2,48.4 C98.6,46.9 99.2,46.5 100.3,46.1" stroke="#5a5cc4" stroke-width="0.6" fill="none" opacity="0.9"/>
<path d="M102.2,64.2 C99.9,64.2 98.4,62.9 101.1,62.8" stroke="#5a5cc4" stroke-width="0.6" fill="none" opacity="0.9"/>
<path d="M69.1,41.8 C66.2,44.2 69.0,43.4 66.1,44.8" stroke="#5a5cc4" stroke-width="0.6" fill="none" opacity="0.9"/>
<path d="M69.8,76.3 C71.4,74.7 71.4,76.5 72.0,76.6" stroke="#5a5cc4" stroke-width="0.6" fill="none" opacity="0.9"/>
<path d="M66.9,38.6 C65.0,38.8 65.6,38.5 66.4,38.9" stroke="#5a5cc4" stroke-width="0.6" fill="none" opacity="0.9"/>
<path d="M94.1,56.8 C96.1,57.0 98.4,59.9 100.4,61.5" stroke="#5a5cc4" stroke-width="0.6" fill="none" opacity="0.9"/>
<path d="M96.7,64.3 C95.2,61.9 96.2,60.4 96.8,60.7" stroke="#5a5cc4" stroke-width="0.6" fill="none" opacity="0.9"/>
<path d="M91.8,57.8 C90.3,56.6 91.4,58.9 90.4,57.8" stroke="#5a5cc4" stroke-width="0.6" fill="none" opacity="0.9"/>
<path d="M82.4,57.7 C83.2,59.3 84.8,61.1 86.2,64.0" stroke="#5a5cc4" stroke-width="0.6" fill="none" opacity="0.9"/>
<path d="M82.5,58.7 C83.4,57.6 85.4,57.1 85.7,57.2" stroke="#5a5cc4" stroke-width="0.6" fill="none" opacity="0.9"/>
<path d="M72.4,60.2 C75.1,58.1 77.5,60.9 79.3,59.6" stroke="#5a5cc4" stroke-width="0.6" fill="none" opacity="0.9"/>
<path d="M60.0,50.8 C62.7,51.9 64.6,53.9 62.7,53.9" stroke="#5a5cc4" stroke-width="0.6" fill="none" opacity="0.9"/>
<path d="M61.6,55.1 C61.5,57.0 60.3,58.0 58.1,56.5" stroke="#5a5cc4" stroke-width="0.6" fill="none" opacity="0.9"/>
<path d="M59.5,65.8 C60.0,67.1 59.5,69.7 60.8,70.1" stroke="#5a5cc4" stroke-width="0.6" fill="none" opacity="0.9"/>
<path d="M73.2,64.2 C73.8,67.0 74.9,64.2 77.6,64.0" stroke="#5a5cc4" stroke-width="0.6" fill="none" opacity="0.9"/>
<path d="M68.1,75.4 C68.9,77.5 69.2,76.1 69.0,75.9" stroke="#5a5cc4" stroke-width="0.6" fill="none" opacity="0.9"/>
<path d="M76.8,65.8 C74.7,64.3 72.4,61.5 72.5,62.9" stroke="#5a5cc4" stroke-width="0.6" fill="none" opacity="0.9"/>
<path d="M79.8,82.8 C80.4,83.8 79.1,86.2 78.2,88.2" stroke="#5a5cc4" stroke-width="0.6" fill="none" opacity="0.9"/>
<path d="M70.4,85.5 C71.5,83.5 72.9,81.5 72.2,80.7" stroke="#5a5cc4" stroke-width="0.6" fill="none" opacity="0.9"/>
<path d="M75.7,54.2 C73.7,53.6 71.3,55.4 70.4,56.6" stroke="#5a5cc4" stroke-width="0.6" fill="none" opacity="0.9"/>
<path d="M81.2,86.7 C83.5,87.9 85.6,90.4 88.2,89.8" stroke="#5a5cc4" stroke-width="0.6" fill="none" opacity="0.9"/>
<path d="M77.5,52.4 C78.2,49.4 79.8,46.9 79.3,46.8" stroke="#5a5cc4" stroke-width="0.6" fill="none" opacity="0.9"/>
<path d="M105.7,68.5 C103.6,69.5 102.0,70.2 101.5,73.0" stroke="#5a5cc4" stroke-width="0.6" fill="none" opacity="0.9"/>
<path d="M82.5,49.4 C81.4,52.1 80.4,50.6 80.7,51.6" stroke="#5a5cc4" stroke-width="0.6" fill="none" opacity="0.9"/>
<path d="M75.4,73.3 C75.4,74.5 76.5,72.0 73.8,70.1" stroke="#5a5cc4" stroke-width="0.6" fill="none" opacity="0.9"/>
<path d="M73.9,44.7 C72.7,42.3 69.8,42.5 71.4,40.4" stroke="#5a5cc4" stroke-width="0.6" fill="none" opacity="0.9"/>
<path d="M61.6,73.6 C59.0,71.4 59.0,70.2 60.7,70.3" stroke="#5a5cc4" stroke-width="0.6" fill="none" opacity="0.9"/>
<path d="M86.9,54.8 C84.0,56.8 83.4,58.7 81.0,58.3" stroke="#5a5cc4" stroke-width="0.6" fill="none" opacity="0.9"/>
<path d="M87.8,43.2 C85.3,45.8 87.9,48.8 88.2,50.2" stroke="#5a5cc4" stroke-width="0.6" fill="none" opacity="0.9"/>
<path d="M91.5,60.3 C89.5,61.2 89.2,62.2 86.4,61.0" stroke="#5a5cc4" stroke-width="0.6" fill="none" opacity="0.9"/>
<path d="M62.7,75.4 C62.5,74.2 64.2,74.3 63.0,73.6" stroke="#5a5cc4" stroke-width="0.6" fill="none" opacity="0.9"/>
<path d="M107.8,63.8 C110.5,64.1 111.6,61.7 111.2,62.4" stroke="#5a5cc4" stroke-width="0.6" fill="none" opacity="0.9"/>
<path d="M80.1,69.6 C79.2,70.5 77.4,70.5 77.0,70.6" stroke="#5a5cc4" stroke-width="0.6" fill="none" opacity="0.9"/>
<path d="M59.2,47.8 C60.5,45.8 60.4,48.8 61.1,50.2" stroke="#5a5cc4" stroke-width="0.6" fill="none" opacity="0.9"/>
<path d="M101.5,86.3 C100.8,85.7 102.3,82.8 102.1,81.5" stroke="#5a5cc4" stroke-width="0.6" fill="none" opacity="0.9"/>
<path d="M88.8,73.8 C91.0,73.9 92.2,71.3 93.1,73.9" stroke="#5a5cc4" stroke-width="0.6" fill="none" opacity="0.9"/>
<path d="M92.3,61.0 C92.4,60.5 90.4,58.6 92.2,58.7" stroke="#5a5cc4" stroke-width="0.6" fill="none" opacity="0.9"/>
<path d="M58.3,67.6 C60.3,68.5 58.3,71.2 56.4,71.3" stroke="#5a5cc4" stroke-width="0.6" fill="none" opacity="0.9"/>
<path d="M83.1,43.8 C81.7,41.9 79.7,39.2 80.6,40.2" stroke="#5a5cc4" stroke-width="0.6" fill="none" opacity="0.9"/>
<path d="M70.8,85.4 C70.4,85.2 72.9,86.1 72.7,87.6" stroke="#5a5cc4" stroke-width="0.6" fill="none" opacity="0.9"/>
<path d="M99.7,51.3 C97.1,52.7 98.6,53.3 96.3,54.8" stroke="#5a5cc4" stroke-width="0.6" fill="none" opacity="0.9"/>
<path d="M66.3,77.3 C67.1,78.1 64.5,77.3 65.9,75.0" stroke="#5a5cc4" stroke-width="0.6" fill="none" opacity="0.9"/>
<path d="M58.3,56.9 C60.4,57.7 58.8,55.2 60.8,57.2" stroke="#5a5cc4" stroke-width="0.6" fill="none" opacity="0.9"/>
<path d="M97.4,46.0 C98.9,43.0 96.9,41.9 99.7,39.2" stroke="#5a5cc4" stroke-width="0.6" fill="none" opacity="0.9"/>
<path d="M65.5,73.9 C67.1,72.5 64.5,74.6 67.3,77.1" stroke="#5a5cc4" stroke-width="0.6" fill="none" opacity="0.9"/>
<path d="M99.7,69.4 C101.7,71.0 101.7,73.8 101.4,73.5" stroke="#5a5cc4" stroke-width="0.6" fill="none" opacity="0.9"/>
<path d="M93.6,76.8 C94.1,79.4 92.8,81.8 95.0,80.9" stroke="#5a5cc4" stroke-width="0.6" fill="none" opacity="0.9"/>
<path d="M57.7,66.9 C58.4,69.6 58.8,71.0 60.3,69.0" stroke="#5a5cc4" stroke-width="0.6" fill="none" opacity="0.9"/>
<path d="M95.3,58.2 C93.6,56.9 92.8,58.3 93.1,57.2" stroke="#5a5cc4" stroke-width="0.6" fill="none" opacity="0.9"/>
<path d="M59.3,76.7 C60.8,78.8 62.5,76.1 61.2,75.9" stroke="#5a5cc4" stroke-width="0.6" fill="none" opacity="0.9"/>
<path d="M73.5,78.7 C71.8,75.8 71.5,73.1 68.6,73.7" stroke="#5a5cc4" stroke-width="0.6" fill="none" opacity="0.9"/>
<path d="M91.7,63.7 C89.1,64.1 89.2,62.9 87.6,60.9" stroke="#5a5cc4" stroke-width="0.6" fill="none" opacity="0.9"/>
<path d="M84.5,54.4 C85.0,55.5 83.7,56.1 82.2,57.6" stroke="#5a5cc4" stroke-width="0.6" fill="none" opacity="0.9"/>
<path d="M68.0,66.5 C69.5,68.3 69.6,70.8 72.6,72.5" stroke="#5a5cc4" stroke-width="0.6" fill="none" opacity="0.9"/>
<path d="M77.2,49.1 C77.9,46.9 76.0,44.5 76.9,43.8" stroke="#5a5cc4" stroke-width="0.6" fill="none" opacity="0.9"/>
<path d="M110.4,77.7 C110.6,76.8 109.5,74.1 107.1,76.3" stroke="#5a5cc4" stroke-width="0.6" fill="none" opacity="0.9"/>
<path d="M101.7,59.0 C104.5,56.5 104.4,57.4 101.5,59.9" stroke="#5a5cc4" stroke-width="0.6" fill="none" opacity="0.9"/>
<path d="M76.0,70.9 C73.4,68.4 71.0,70.1 73.6,72.6" stroke="#5a5cc4" stroke-width="0.6" fill="none" opacity="0.9"/>
<path d="M87.3,39.8 C89.0,39.9 90.7,40.7 91.1,38.7" stroke="#5a5cc4" stroke-width="0.6" fill="none" opacity="0.9"/>
<path d="M64.4,39.3 C64.0,38.1 66.8,35.4 68.3,33.1" stroke="#5a5cc4" stroke-width="0.6" fill="none" opacity="0.9"/>
<path d="M70.4,108.6 C70.9,108.0 70.0,105.8 71.2,105.1" stroke="#5a5cc4" stroke-width="0.6" fill="none" opacity="0.9"/>
<path d="M97.1,117.1 C94.5,116.7 93.6,119.2 94.4,117.4" stroke="#5a5cc4" stroke-width="0.6" fill="none" opacity="0.9"/>
<path d="M87.1,86.6 C87.2,84.0 85.0,84.0 85.2,82.3" stroke="#5a5cc4" stroke-width="0.6" fill="none" opacity="0.9"/>
<path d="M95.8,97.8 C97.1,95.2 99.1,94.8 97.1,93.6" stroke="#5a5cc4" stroke-width="0.6" fill="none" opacity="0.9"/>
<path d="M99.0,89.6 C101.4,87.9 100.9,85.4 100.6,88.1" stroke="#5a5cc4" stroke-width="0.6" fill="none" opacity="0.9"/>
<path d="M68.1,92.8 C68.4,93.6 66.2,91.9 66.8,90.4" stroke="#5a5cc4" stroke-width="0.6" fill="none" opacity="0.9"/>
<path d="M115.8,116.6 C117.9,114.9 116.8,115.5 117.5,116.3" stroke="#5a5cc4" stroke-width="0.6" fill="none" opacity="0.9"/>
<path d="M93.7,94.9 C92.1,92.4 89.5,92.9 87.0,95.1" stroke="#5a5cc4" stroke-width="0.6" fill="none" opacity="0.9"/>
<path d="M122.6,109.7 C119.7,109.0 118.8,107.9 116.2,106.3" stroke="#5a5cc4" stroke-width="0.6" fill="none" opacity="0.9"/>
<path d="M56.2,103.0 C56.1,101.4 58.6,103.7 58.6,105.6" stroke="#5a5cc4" stroke-width="0.6" fill="none" opacity="0.9"/>
<path d="M79.7,114.6 C81.4,113.7 82.8,112.8 80.9,112.3" stroke="#5a5cc4" stroke-width="0.6" fill="none" opacity="0.9"/>
<path d="M63.0,113.3 C61.5,113.3 63.3,113.9 65.8,115.2" stroke="#5a5cc4" stroke-width="0.6" fill="none" opacity="0.9"/>
<path d="M103.5,114.2 C104.6,116.7 105.2,117.6 105.5,117.8" stroke="#5a5cc4" stroke-width="0.6" fill="none" opacity="0.9"/>
<path d="M120.9,97.4 C119.0,97.4 117.9,98.7 118.7,95.7" stroke="#5a5cc4" stroke-width="0.6" fill="none" opacity="0.9"/>
<path d="M69.6,109.5 C69.0,110.6 68.8,108.3 70.0,111.1" stroke="#5a5cc4" stroke-width="0.6" fill="none" opacity="0.9"/>
<path d="M61.4,109.4 C62.1,110.1 62.1,110.1 65.1,112.4" stroke="#5a5cc4" stroke-width="0.6" fill="none" opacity="0.9"/>
<path d="M85.4,116.9 C86.4,118.7 89.4,116.2 87.7,114.6" stroke="#5a5cc4" stroke-width="0.6" fill="none" opacity="0.9"/>
<path d="M112.3,121.1 C110.7,121.0 113.0,122.4 113.5,124.7" stroke="#5a5cc4" stroke-width="0.6" fill="none" opacity="0.9"/>
<path d="M122.6,97.1 C123.3,98.6 122.1,97.4 124.5,99.2" stroke="#5a5cc4" stroke-width="0.6" fill="none" opacity="0.9"/>
<path d="M98.8,114.1 C101.6,115.5 100.3,113.1 98.3,111.6" stroke="#5a5cc4" stroke-width="0.6" fill="none" opacity="0.9"/>
<path d="M94.9,98.3 C92.8,95.8 93.9,97.7 91.7,97.8" stroke="#5a5cc4" stroke-width="0.6" fill="none" opacity="0.9"/>
<path d="M123.6,99.7 C123.8,101.6 121.0,103.8 122.6,105.2" stroke="#5a5cc4" stroke-width="0.6" fill="none" opacity="0.9"/>
<path d="M79.0,104.7 C81.7,102.1 79.1,102.9 81.9,100.8" stroke="#5a5cc4" stroke-width="0.6" fill="none" opacity="0.9"/>
<path d="M68.2,103.5 C69.9,103.9 70.9,101.2 69.1,101.7" stroke="#5a5cc4" stroke-width="0.6" fill="none" opacity="0.9"/>
<path d="M105.7,89.5 C103.3,88.4 102.8,87.4 100.8,84.8" stroke="#5a5cc4" stroke-width="0.6" fill="none" opacity="0.9"/>
<path d="M100.2,122.2 C101.0,124.8 98.7,125.4 97.9,127.5" stroke="#5a5cc4" stroke-width="0.6" fill="none" opacity="0.9"/>
<path d="M96.9,109.3 C99.4,112.1 97.2,111.7 94.7,112.1" stroke="#5a5cc4" stroke-width="0.6" fill="none" opacity="0.9"/>
<path d="M70.7,112.5 C69.8,109.6 72.2,107.3 70.8,107.5" stroke="#5a5cc4" stroke-width="0.6" fill="none" opacity="0.9"/>
<path d="M105.1,90.5 C105.9,88.2 106.0,85.8 104.7,85.5" stroke="#5a5cc4" stroke-width="0.6" fill="none" opacity="0.9"/>
<path d="M93.1,110.8 C95.7,109.9 94.8,108.1 96.2,107.3" stroke="#5a5cc4" stroke-width="0.6" fill="none" opacity="0.9"/>
<path d="M69.8,93.3 C69.4,95.3 69.0,97.2 68.8,97.7" stroke="#5a5cc4" stroke-width="0.6" fill="none" opacity="0.9"/>
<path d="M72.9,101.6 C74.2,99.1 74.0,97.6 72.7,96.6" stroke="#5a5cc4" stroke-width="0.6" fill="none" opacity="0.9"/>
<path d="M68.9,107.9 C66.1,106.3 64.7,104.4 66.7,105.5" stroke="#5a5cc4" stroke-width="0.6" fill="none" opacity="0.9"/>
<path d="M117.1,91.0 C115.3,89.9 115.3,91.9 117.3,94.1" stroke="#5a5cc4" stroke-width="0.6" fill="none" opacity="0.9"/>
<path d="M56.2,87.0 C55.2,86.6 52.3,85.7 50.0,88.0" stroke="#5a5cc4" stroke-width="0.6" fill="none" opacity="0.9"/>
<path d="M69.7,98.1 C67.8,100.2 65.5,99.8 63.8,98.3" stroke="#5a5cc4" stroke-width="0.6" fill="none" opacity="0.9"/>
<path d="M124.6,113.1 C126.0,112.3 128.9,115.1 129.7,113.4" stroke="#5a5cc4" stroke-width="0.6" fill="none" opacity="0.9"/>
<path d="M58.4,106.7 C58.3,108.9 61.3,110.8 59.8,113.7" stroke="#5a5cc4" stroke-width="0.6" fill="none" opacity="0.9"/>
<path d="M97.9,87.4 C96.1,90.2 97.9,91.6 98.9,88.8" stroke="#5a5cc4" stroke-width="0.6" fill="none" opacity="0.9"/>
<path d="M120.6,97.3 C122.2,97.6 122.1,97.7 124.6,99.7" stroke="#5a5cc4" stroke-width="0.6" fill="none" opacity="0.9"/>
<path d="M82.6,118.4 C80.7,117.5 79.6,114.8 79.0,111.8" stroke="#5a5cc4" stroke-width="0.6" fill="none" opacity="0.9"/>
<path d="M122.8,117.1 C122.7,114.4 121.3,116.1 120.0,113.6" stroke="#5a5cc4" stroke-width="0.6" fill="none" opacity="0.9"/>
<path d="M84.9,108.0 C82.7,107.2 83.0,108.7 82.4,111.6" stroke="#5a5cc4" stroke-width="0.6" fill="none" opacity="0.9"/>
<path d="M72.9,114.5 C70.4,117.0 70.6,115.0 72.5,117.3" stroke="#5a5cc4" stroke-width="0.6" fill="none" opacity="0.9"/>
<path d="M64.1,119.5 C66.8,118.7 68.6,120.0 69.0,119.3" stroke="#5a5cc4" stroke-width="0.6" fill="none" opacity="0.9"/>
<path d="M76.9,117.0 C78.6,119.7 76.0,120.1 77.2,118.4" stroke="#5a5cc4" stroke-width="0.6" fill="none" opacity="0.9"/>
<path d="M109.7,113.1 C108.7,112.7 110.5,110.3 111.9,111.5" stroke="#5a5cc4" stroke-width="0.6" fill="none" opacity="0.9"/>
<path d="M87.4,122.2 C88.2,124.5 86.4,124.0 85.1,123.9" stroke="#5a5cc4" stroke-width="0.6" fill="none" opacity="0.9"/>
<path d="M107.8,123.7 C110.3,125.8 113.1,127.2 114.5,124.7" stroke="#5a5cc4" stroke-width="0.6" fill="none" opacity="0.9"/>
<path d="M83.5,104.6 C81.2,107.0 80.4,105.5 77.9,105.7" stroke="#5a5cc4" stroke-width="0.6" fill="none" opacity="0.9"/>
<path d="M106.2,113.0 Q108.5,113.8 108.4,116.5" stroke="#3a3ecc" stroke-width="1.4" fill="none" stroke-linecap="round" opacity="1.0"/>
<path d="M104.1,113.5 Q105.6,116.3 106.4,117.5" stroke="#3a3ecc" stroke-width="1.4" fill="none" stroke-linecap="round" opacity="1.0"/>
<ellipse cx="107.8" cy="119.6" rx="1.8" ry="2" fill="#d8901c"/>
<path d="M91.8,96.6 C93.6,95.5 92.6,95.1 91.4,96.7" stroke="#6e70cc" stroke-width="0.5" fill="none" opacity="0.9"/>
<path d="M93.2,103.1 C94.4,102.2 95.8,101.3 96.6,98.9" stroke="#6e70cc" stroke-width="0.5" fill="none" opacity="0.9"/>
<path d="M100.5,103.2 C101.1,103.0 98.4,103.2 100.6,101.9" stroke="#6e70cc" stroke-width="0.5" fill="none" opacity="0.9"/>
<path d="M96.9,104.4 C95.3,102.0 92.7,102.8 95.0,104.4" stroke="#6e70cc" stroke-width="0.5" fill="none" opacity="0.9"/>
<path d="M109.5,109.5 C111.5,108.1 110.8,110.9 113.5,111.8" stroke="#6e70cc" stroke-width="0.5" fill="none" opacity="0.9"/>
<path d="M110.8,98.8 C108.3,97.8 106.7,98.6 107.7,99.4" stroke="#6e70cc" stroke-width="0.5" fill="none" opacity="0.9"/>
<path d="M120.1,92.0 C118.3,89.6 117.5,92.1 117.3,93.9" stroke="#6e70cc" stroke-width="0.5" fill="none" opacity="0.9"/>
<path d="M96.0,99.1 C97.8,97.8 99.2,98.4 100.1,95.6" stroke="#6e70cc" stroke-width="0.5" fill="none" opacity="0.9"/>
<path d="M101.9,111.7 C101.1,110.4 104.1,110.9 105.3,110.8" stroke="#6e70cc" stroke-width="0.5" fill="none" opacity="0.9"/>
<path d="M110.6,99.8 C109.2,98.5 107.6,99.7 105.1,97.4" stroke="#6e70cc" stroke-width="0.5" fill="none" opacity="0.9"/>
<path d="M106.7,111.8 C108.4,112.8 109.9,111.0 109.9,108.2" stroke="#6e70cc" stroke-width="0.5" fill="none" opacity="0.9"/>
<path d="M107.2,92.6 C104.9,90.4 103.9,90.2 102.2,87.7" stroke="#6e70cc" stroke-width="0.5" fill="none" opacity="0.9"/>
<path d="M94.0,111.0 C96.9,113.5 94.7,111.7 97.0,108.8" stroke="#6e70cc" stroke-width="0.5" fill="none" opacity="0.9"/>
<path d="M94.9,105.0 C97.7,107.5 99.8,106.4 101.2,109.1" stroke="#6e70cc" stroke-width="0.5" fill="none" opacity="0.9"/>
<path d="M119.7,111.4 C121.3,113.1 122.5,112.7 122.9,115.2" stroke="#6e70cc" stroke-width="0.5" fill="none" opacity="0.9"/>
<path d="M108.9,92.5 C108.6,94.7 109.8,94.6 112.4,96.2" stroke="#6e70cc" stroke-width="0.5" fill="none" opacity="0.9"/>
<path d="M97.4,106.0 C99.6,103.1 102.2,102.7 104.3,99.7" stroke="#6e70cc" stroke-width="0.5" fill="none" opacity="0.9"/>
<path d="M100.6,98.1 C98.9,99.0 100.6,99.9 103.1,97.6" stroke="#6e70cc" stroke-width="0.5" fill="none" opacity="0.9"/>
<path d="M99.5,100.0 C101.2,101.5 104.2,103.7 104.3,105.1" stroke="#6e70cc" stroke-width="0.5" fill="none" opacity="0.9"/>
<path d="M117.0,102.4 C118.1,104.5 120.1,102.5 117.3,103.7" stroke="#6e70cc" stroke-width="0.5" fill="none" opacity="0.9"/>
<path d="M116.9,95.8 C119.0,97.3 117.0,95.3 118.0,96.0" stroke="#6e70cc" stroke-width="0.5" fill="none" opacity="0.9"/>
<path d="M95.3,110.2 C93.6,112.2 96.2,109.9 97.4,110.2" stroke="#6e70cc" stroke-width="0.5" fill="none" opacity="0.9"/>
<path d="M120.2,100.9 C119.7,99.3 121.8,98.2 124.2,95.4" stroke="#6e70cc" stroke-width="0.5" fill="none" opacity="0.9"/>
<path d="M119.3,92.4 C120.7,95.1 119.6,95.6 119.1,93.0" stroke="#6e70cc" stroke-width="0.5" fill="none" opacity="0.9"/>
<path d="M117.7,101.9 C119.5,99.1 117.5,97.5 119.4,94.6" stroke="#6e70cc" stroke-width="0.5" fill="none" opacity="0.9"/>
<path d="M115.5,101.5 Q116.7,102.1 119.4,104.5" stroke="#3a3ecc" stroke-width="1.6" fill="none" stroke-linecap="round" opacity="1.0"/>
<path d="M113.5,103.5 Q117.2,105.2 119.1,107.2" stroke="#3a3ecc" stroke-width="1.6" fill="none" stroke-linecap="round" opacity="1.0"/>
<path d="M112.9,105.4 Q115.6,107.1 117.8,108.7" stroke="#3a3ecc" stroke-width="1.6" fill="none" stroke-linecap="round" opacity="1.0"/>
<path d="M111.5,107.2 Q115.1,110.1 117.9,109.9" stroke="#3a3ecc" stroke-width="1.6" fill="none" stroke-linecap="round" opacity="1.0"/>
<path d="M93.0,97.4 Q93.8,100.9 93.7,104.0" stroke="#3a3ecc" stroke-width="1.5" fill="none" stroke-linecap="round" opacity="1.0"/>
<path d="M90.5,96.7 Q90.2,100.3 91.4,103.7" stroke="#3a3ecc" stroke-width="1.5" fill="none" stroke-linecap="round" opacity="1.0"/>
<line x1="96" y1="99" x2="120" y2="97.8" stroke="#e04040" stroke-width="2.2" stroke-linecap="round" opacity="0.85"/>
<path d="M96.1,100.7 L97.0,97.0 L98.3,100.8 L99.2,97.0 L100.5,101.0 L101.4,96.5 L102.7,100.6 L103.6,96.4 L104.9,100.9 L105.8,96.5 L107.1,100.4 L108.0,96.8 L109.3,100.6 L110.2,96.6 L111.5,100.2 L112.4,95.9 L113.7,100.0 L114.6,95.7 L115.9,99.9 L116.8,95.9 L118.1,99.9 L119.0,96.2" stroke="#b01818" stroke-width="1.1" fill="none" stroke-linejoin="round"/>
<line x1="98" y1="105.5" x2="116" y2="104.8" stroke="#e04040" stroke-width="2.1" stroke-linecap="round" opacity="0.85"/>
<path d="M98.1,107.4 L99.0,103.3 L100.3,107.1 L101.2,103.6 L102.5,107.2 L103.4,103.3 L104.7,107.1 L105.6,103.2 L106.9,107.2 L107.8,103.3 L109.1,106.6 L110.0,103.1 L111.3,106.7 L112.2,103.1 L113.5,106.8 L114.4,103.2 L115.7,107.1" stroke="#b01818" stroke-width="1.1" fill="none" stroke-linejoin="round"/>
<path d="M113.1,96.9 Q115.5,100.7 115.0,104.5" stroke="#3a3ecc" stroke-width="1.5" fill="none" stroke-linecap="round" opacity="1.0"/>
<path d="M111.0,97.9 Q112.1,101.8 113.1,104.8" stroke="#3a3ecc" stroke-width="1.5" fill="none" stroke-linecap="round" opacity="1.0"/>
<path d="M109.5,99.4 Q110.1,102.6 110.8,104.9" stroke="#3a3ecc" stroke-width="1.5" fill="none" stroke-linecap="round" opacity="1.0"/>
<path d="M96.9,106.0 Q100.0,106.9 102.3,108.4" stroke="#3a3ecc" stroke-width="1.4" fill="none" stroke-linecap="round" opacity="1.0"/>
<path d="M97.0,108.3 Q99.4,109.9 100.9,110.1" stroke="#3a3ecc" stroke-width="1.4" fill="none" stroke-linecap="round" opacity="1.0"/>
<rect x="88.3" y="90.8" width="35.5" height="22" fill="none" stroke="#1d1d50" stroke-width="1.1"/>
<path d="M37.5,110.0 C37.5,107.2 39.2,105.0 38.3,105.6" stroke="#7cc87c" stroke-width="0.55" fill="none" opacity="0.9"/>
<path d="M19.8,118.3 C20.1,121.8 16.7,121.5 15.4,122.0" stroke="#7cc87c" stroke-width="0.55" fill="none" opacity="0.9"/>
<path d="M34.0,109.1 C37.1,108.7 36.2,110.5 36.6,108.8" stroke="#7cc87c" stroke-width="0.55" fill="none" opacity="0.9"/>
<path d="M44.1,96.7 C41.0,96.9 44.0,99.5 46.3,100.3" stroke="#7cc87c" stroke-width="0.55" fill="none" opacity="0.9"/>
<path d="M28.9,98.9 C26.5,98.5 28.9,98.9 32.4,101.0" stroke="#7cc87c" stroke-width="0.55" fill="none" opacity="0.9"/>
<path d="M30.1,109.1 C29.5,112.0 31.9,109.7 34.8,111.0" stroke="#7cc87c" stroke-width="0.55" fill="none" opacity="0.9"/>
<path d="M23.3,114.3 C22.8,115.7 22.8,116.7 25.8,119.5" stroke="#7cc87c" stroke-width="0.55" fill="none" opacity="0.9"/>
<path d="M27.8,102.2 C29.3,103.4 26.4,103.4 24.8,104.5" stroke="#7cc87c" stroke-width="0.55" fill="none" opacity="0.9"/>
<path d="M16.2,99.1 C14.4,97.6 14.9,100.2 15.9,101.2" stroke="#7cc87c" stroke-width="0.55" fill="none" opacity="0.9"/>
<path d="M38.2,102.3 C37.7,103.4 35.5,105.2 38.6,107.9" stroke="#7cc87c" stroke-width="0.55" fill="none" opacity="0.9"/>
<path d="M18.3,93.4 C19.1,92.3 16.8,93.1 17.1,93.4" stroke="#7cc87c" stroke-width="0.55" fill="none" opacity="0.9"/>
<path d="M28.9,110.0 C30.9,111.6 32.4,113.9 32.2,114.9" stroke="#7cc87c" stroke-width="0.55" fill="none" opacity="0.9"/>
<path d="M26.7,112.1 C24.8,115.5 23.3,115.4 23.1,118.8" stroke="#7cc87c" stroke-width="0.55" fill="none" opacity="0.9"/>
<path d="M15.7,97.6 C16.7,96.6 15.5,93.9 18.5,93.5" stroke="#7cc87c" stroke-width="0.55" fill="none" opacity="0.9"/>
<path d="M31.4,97.3 C34.5,94.5 36.0,91.4 36.2,90.1" stroke="#7cc87c" stroke-width="0.55" fill="none" opacity="0.9"/>
<path d="M45.2,103.9 C47.6,100.5 45.7,104.0 44.8,100.7" stroke="#7cc87c" stroke-width="0.55" fill="none" opacity="0.9"/>
<path d="M19.6,101.3 C19.8,100.5 18.4,100.3 18.2,98.0" stroke="#7cc87c" stroke-width="0.55" fill="none" opacity="0.9"/>
<path d="M29.2,108.6 C29.7,110.3 29.4,108.3 32.6,105.5" stroke="#7cc87c" stroke-width="0.55" fill="none" opacity="0.9"/>
<path d="M21.2,103.2 C20.6,101.1 23.2,99.7 23.5,100.5" stroke="#7cc87c" stroke-width="0.55" fill="none" opacity="0.9"/>
<path d="M14.8,103.7 C12.2,104.0 13.8,106.5 17.0,103.7" stroke="#7cc87c" stroke-width="0.55" fill="none" opacity="0.9"/>
<path d="M27.0,111.7 C26.1,114.9 26.0,117.5 22.9,116.7" stroke="#7cc87c" stroke-width="0.55" fill="none" opacity="0.9"/>
<path d="M35.8,117.5 C35.7,120.1 37.6,119.4 39.1,119.6" stroke="#7cc87c" stroke-width="0.55" fill="none" opacity="0.9"/>
<path d="M41.2,119.3 C39.3,121.3 36.0,121.3 34.6,121.4" stroke="#7cc87c" stroke-width="0.55" fill="none" opacity="0.9"/>
<path d="M24.2,107.7 C23.7,109.6 24.8,108.0 22.7,106.1" stroke="#7cc87c" stroke-width="0.55" fill="none" opacity="0.9"/>
<path d="M22.1,103.4 C22.1,105.4 25.6,103.6 24.1,103.8" stroke="#7cc87c" stroke-width="0.55" fill="none" opacity="0.9"/>
<path d="M11.4,109.2 C12.0,108.4 15.6,107.0 12.1,104.2" stroke="#7cc87c" stroke-width="0.55" fill="none" opacity="0.9"/>
<path d="M18.9,114.1 C20.6,113.0 23.4,110.6 21.4,111.1" stroke="#7cc87c" stroke-width="0.55" fill="none" opacity="0.9"/>
<path d="M29.7,115.9 C28.3,118.8 29.3,120.1 29.8,118.1" stroke="#7cc87c" stroke-width="0.55" fill="none" opacity="0.9"/>
<path d="M30.8,121.1 C27.4,119.8 26.0,118.1 27.9,119.1" stroke="#7cc87c" stroke-width="0.55" fill="none" opacity="0.9"/>
<path d="M15.0,113.0 C17.7,109.8 14.2,110.6 17.0,110.9" stroke="#7cc87c" stroke-width="0.55" fill="none" opacity="0.9"/>
<path d="M28.7,102.8 C29.2,105.8 29.9,107.6 29.7,110.3" stroke="#7cc87c" stroke-width="0.55" fill="none" opacity="0.9"/>
<path d="M38.5,106.3 C37.0,104.9 40.5,105.9 37.4,106.0" stroke="#7cc87c" stroke-width="0.55" fill="none" opacity="0.9"/>
<path d="M25.8,109.4 C24.3,112.3 24.1,114.6 22.4,117.4" stroke="#7cc87c" stroke-width="0.55" fill="none" opacity="0.9"/>
<path d="M30.2,107.5 C29.7,110.7 30.2,111.0 29.2,110.7" stroke="#7cc87c" stroke-width="0.55" fill="none" opacity="0.9"/>
<path d="M20.0,104.1 C18.3,101.1 17.3,97.7 18.5,94.8" stroke="#7cc87c" stroke-width="0.55" fill="none" opacity="0.9"/>
<path d="M43.5,99.8 C41.8,100.1 40.3,101.7 38.9,104.8" stroke="#7cc87c" stroke-width="0.55" fill="none" opacity="0.9"/>
<path d="M42.7,112.4 C40.9,113.4 39.9,113.5 38.3,113.8" stroke="#7cc87c" stroke-width="0.55" fill="none" opacity="0.9"/>
<path d="M34.0,117.8 C32.2,118.3 32.7,121.0 32.6,123.6" stroke="#7cc87c" stroke-width="0.55" fill="none" opacity="0.9"/>
<path d="M44.2,102.9 C43.5,106.3 44.1,106.5 46.1,107.2" stroke="#7cc87c" stroke-width="0.55" fill="none" opacity="0.9"/>
<path d="M29.2,111.4 C27.5,110.5 23.9,112.1 26.3,113.8" stroke="#7cc87c" stroke-width="0.55" fill="none" opacity="0.9"/>
<path d="M14.0,99.9 C17.0,97.1 19.7,99.2 17.2,97.1" stroke="#7cc87c" stroke-width="0.55" fill="none" opacity="0.9"/>
<path d="M37.1,111.2 C33.7,111.4 31.4,114.0 31.7,110.5" stroke="#7cc87c" stroke-width="0.55" fill="none" opacity="0.9"/>
<path d="M44.7,98.0 C45.8,99.9 46.2,97.1 44.4,98.8" stroke="#7cc87c" stroke-width="0.55" fill="none" opacity="0.9"/>
<path d="M14.6,101.8 C17.7,101.1 15.2,102.2 14.1,104.3" stroke="#7cc87c" stroke-width="0.55" fill="none" opacity="0.9"/>
<path d="M23.5,117.2 C25.9,114.9 26.2,114.5 23.5,117.4" stroke="#7cc87c" stroke-width="0.55" fill="none" opacity="0.9"/>
<path d="M22.7,109.8 C19.5,113.0 22.9,114.4 20.3,115.5" stroke="#7cc87c" stroke-width="0.55" fill="none" opacity="0.9"/>
<path d="M27.3,105.1 C25.3,102.6 27.8,103.3 29.6,105.1" stroke="#7cc87c" stroke-width="0.55" fill="none" opacity="0.9"/>
<path d="M24.9,107.7 C23.4,108.8 22.9,110.9 21.4,110.0" stroke="#7cc87c" stroke-width="0.55" fill="none" opacity="0.9"/>
<path d="M25.7,101.9 C28.4,98.6 31.9,95.7 34.3,94.7" stroke="#7cc87c" stroke-width="0.55" fill="none" opacity="0.9"/>
<path d="M19.1,109.8 C18.1,106.3 15.4,107.6 17.0,111.1" stroke="#7cc87c" stroke-width="0.55" fill="none" opacity="0.9"/>
<path d="M19.4,115.2 C18.2,115.3 16.6,114.6 19.6,112.8" stroke="#7cc87c" stroke-width="0.55" fill="none" opacity="0.9"/>
<path d="M25.7,119.9 C25.4,122.1 25.6,121.1 27.2,122.2" stroke="#7cc87c" stroke-width="0.55" fill="none" opacity="0.9"/>
<path d="M36.7,113.1 C36.5,114.9 33.2,116.2 35.8,115.5" stroke="#7cc87c" stroke-width="0.55" fill="none" opacity="0.9"/>
<path d="M37.4,112.7 C37.4,114.6 37.3,111.9 37.5,113.7" stroke="#7cc87c" stroke-width="0.55" fill="none" opacity="0.9"/>
<path d="M16.1,104.7 C18.5,101.2 21.1,100.1 20.1,101.5" stroke="#7cc87c" stroke-width="0.55" fill="none" opacity="0.9"/>
<path d="M31.2,98.8 C28.7,98.2 31.5,101.8 33.1,103.2" stroke="#7cc87c" stroke-width="0.55" fill="none" opacity="0.9"/>
<path d="M35.4,120.1 C33.0,117.5 35.5,114.1 35.6,113.4" stroke="#7cc87c" stroke-width="0.55" fill="none" opacity="0.9"/>
<path d="M44.0,110.2 C42.0,107.1 41.8,107.5 41.6,108.1" stroke="#7cc87c" stroke-width="0.55" fill="none" opacity="0.9"/>
<path d="M12.3,101.2 C14.7,99.7 12.4,97.4 15.6,100.0" stroke="#7cc87c" stroke-width="0.55" fill="none" opacity="0.9"/>
<path d="M25.0,100.2 C24.0,103.0 27.0,106.2 29.5,107.5" stroke="#7cc87c" stroke-width="0.55" fill="none" opacity="0.9"/>
<path d="M16.2,114.1 C15.2,110.8 16.3,109.0 19.1,106.7" stroke="#7cc87c" stroke-width="0.55" fill="none" opacity="0.9"/>
<path d="M34.7,103.8 C31.4,102.3 30.1,104.3 32.0,107.4" stroke="#7cc87c" stroke-width="0.55" fill="none" opacity="0.9"/>
<path d="M16.1,96.2 C15.2,94.9 13.1,96.7 9.5,97.0" stroke="#7cc87c" stroke-width="0.55" fill="none" opacity="0.9"/>
<path d="M14.9,99.7 C13.4,99.4 16.6,101.1 16.1,104.6" stroke="#7cc87c" stroke-width="0.55" fill="none" opacity="0.9"/>
<path d="M19.4,95.4 C20.4,97.3 22.0,97.4 23.6,96.2" stroke="#7cc87c" stroke-width="0.55" fill="none" opacity="0.9"/>
<path d="M39.6,107.4 C42.6,107.1 45.9,106.7 49.1,105.4" stroke="#7cc87c" stroke-width="0.55" fill="none" opacity="0.9"/>
<path d="M29.1,108.1 C29.5,110.5 32.0,108.2 33.4,108.4" stroke="#7cc87c" stroke-width="0.55" fill="none" opacity="0.9"/>
<path d="M25.0,92.9 C27.9,96.5 29.5,97.0 26.5,95.7" stroke="#7cc87c" stroke-width="0.55" fill="none" opacity="0.9"/>
<path d="M22.2,91.9 C21.3,91.0 20.7,87.9 18.0,91.1" stroke="#7cc87c" stroke-width="0.55" fill="none" opacity="0.9"/>
<path d="M30.5,96.9 C30.2,95.9 30.1,93.6 31.8,96.7" stroke="#7cc87c" stroke-width="0.55" fill="none" opacity="0.9"/>
<path d="M40.1,121.4 C41.9,121.7 42.1,122.8 41.3,120.3" stroke="#a8d8c8" stroke-width="0.5" fill="none" opacity="0.9"/>
<path d="M37.2,119.4 C38.3,116.7 40.2,114.0 40.4,112.0" stroke="#a8d8c8" stroke-width="0.5" fill="none" opacity="0.9"/>
<path d="M34.8,111.2 C35.5,112.5 37.8,112.5 35.2,109.8" stroke="#a8d8c8" stroke-width="0.5" fill="none" opacity="0.9"/>
<path d="M31.4,109.8 C29.4,108.6 27.3,110.7 26.5,110.5" stroke="#a8d8c8" stroke-width="0.5" fill="none" opacity="0.9"/>
<path d="M42.6,110.5 C42.6,107.8 42.5,110.3 42.9,109.2" stroke="#a8d8c8" stroke-width="0.5" fill="none" opacity="0.9"/>
<path d="M40.1,115.0 C40.1,115.8 41.4,118.2 44.2,121.0" stroke="#a8d8c8" stroke-width="0.5" fill="none" opacity="0.9"/>
<path d="M43.0,117.6 C44.8,115.7 43.0,117.8 42.6,114.9" stroke="#a8d8c8" stroke-width="0.5" fill="none" opacity="0.9"/>
<path d="M41.9,109.9 C40.6,112.4 38.7,114.4 37.3,116.1" stroke="#a8d8c8" stroke-width="0.5" fill="none" opacity="0.9"/>
<path d="M36.1,115.9 C37.2,117.2 35.4,118.2 33.4,116.7" stroke="#a8d8c8" stroke-width="0.5" fill="none" opacity="0.9"/>
<path d="M42.5,110.1 C41.9,107.8 42.4,105.9 41.6,108.7" stroke="#a8d8c8" stroke-width="0.5" fill="none" opacity="0.9"/>
<path d="M37.1,115.0 C34.3,113.6 32.0,114.3 29.9,112.4" stroke="#a8d8c8" stroke-width="0.5" fill="none" opacity="0.9"/>
<path d="M32.3,118.4 C33.2,117.1 32.1,115.8 32.4,116.2" stroke="#a8d8c8" stroke-width="0.5" fill="none" opacity="0.9"/>
<path d="M32.1,110.1 C32.9,108.8 33.9,106.9 31.5,104.3" stroke="#a8d8c8" stroke-width="0.5" fill="none" opacity="0.9"/>
<path d="M43.7,115.5 C40.8,114.6 41.6,113.0 43.6,110.0" stroke="#a8d8c8" stroke-width="0.5" fill="none" opacity="0.9"/>
<path d="M38.4,116.0 C36.5,119.0 36.8,116.8 38.4,113.9" stroke="#a8d8c8" stroke-width="0.5" fill="none" opacity="0.9"/>
<path d="M19.7,113.1 Q24.3,112.0 29.9,108.4" stroke="#4cc84c" stroke-width="1.6" fill="none" stroke-linecap="round" opacity="1.0"/>
<path d="M18.4,113.6 Q23.9,114.2 30.2,111.8" stroke="#4cc84c" stroke-width="1.6" fill="none" stroke-linecap="round" opacity="1.0"/>
<path d="M21.0,116.7 Q24.9,113.5 28.9,113.7" stroke="#4cc84c" stroke-width="1.6" fill="none" stroke-linecap="round" opacity="1.0"/>
<path d="M19.4,119.0 Q25.7,117.3 31.2,115.2" stroke="#4cc84c" stroke-width="1.6" fill="none" stroke-linecap="round" opacity="1.0"/>
<path d="M34.1,108.2 Q38.2,111.2 41.0,112.1" stroke="#4cc84c" stroke-width="1.5" fill="none" stroke-linecap="round" opacity="1.0"/>
<path d="M32.3,110.5 Q35.5,111.3 39.5,114.5" stroke="#4cc84c" stroke-width="1.5" fill="none" stroke-linecap="round" opacity="1.0"/>
<path d="M32.3,111.3 Q34.1,114.2 38.0,116.0" stroke="#4cc84c" stroke-width="1.5" fill="none" stroke-linecap="round" opacity="1.0"/>
<path d="M15.4,108.9 Q16.9,112.1 18.0,115.0" stroke="#4cc84c" stroke-width="1.4" fill="none" stroke-linecap="round" opacity="1.0"/>
<path d="M12.9,109.1 Q14.7,112.0 16.7,114.4" stroke="#4cc84c" stroke-width="1.4" fill="none" stroke-linecap="round" opacity="1.0"/>
<path d="M43.2,96.6 Q45.4,100.8 45.0,105.4" stroke="#4cc84c" stroke-width="1.5" fill="none" stroke-linecap="round" opacity="1.0"/>
<path d="M40.9,97.5 Q42.2,101.2 43.2,105.0" stroke="#4cc84c" stroke-width="1.5" fill="none" stroke-linecap="round" opacity="1.0"/>
<path d="M39.8,99.1 Q38.1,102.6 39.9,105.9" stroke="#4cc84c" stroke-width="1.5" fill="none" stroke-linecap="round" opacity="1.0"/>
<path d="M31.1,91.6 Q34.7,92.7 37.7,92.3" stroke="#4cc84c" stroke-width="1.4" fill="none" stroke-linecap="round" opacity="1.0"/>
<path d="M29.6,92.5 Q33.5,94.7 37.5,95.3" stroke="#4cc84c" stroke-width="1.4" fill="none" stroke-linecap="round" opacity="1.0"/>
<path d="M31.0,95.4 Q34.8,95.8 38.0,96.7" stroke="#4cc84c" stroke-width="1.4" fill="none" stroke-linecap="round" opacity="1.0"/>
<path d="M11.3,95.2 Q12.4,93.3 14.7,92.5" stroke="#4cc84c" stroke-width="1.3" fill="none" stroke-linecap="round" opacity="1.0"/>
<path d="M11.2,97.5 Q13.0,96.2 16.6,94.4" stroke="#4cc84c" stroke-width="1.3" fill="none" stroke-linecap="round" opacity="1.0"/>
<path d="M11.2,102.4 Q12.0,99.4 14.0,97.4" stroke="#28a028" stroke-width="1.15" fill="none" opacity="1.0" stroke-linecap="round"/>
<path d="M18.8,101.6 Q15.6,98.9 13.2,97.8" stroke="#28a028" stroke-width="1.02" fill="none" opacity="1.0" stroke-linecap="round"/>
<path d="M35.3,98.1 Q39.3,97.8 42.9,100.2" stroke="#28a028" stroke-width="1.42" fill="none" opacity="1.0" stroke-linecap="round"/>
<path d="M23.1,115.7 Q19.7,118.8 18.2,119.1" stroke="#28a028" stroke-width="1.11" fill="none" opacity="1.0" stroke-linecap="round"/>
<path d="M17.8,110.9 Q15.2,111.8 15.5,114.3" stroke="#28a028" stroke-width="1.33" fill="none" opacity="1.0" stroke-linecap="round"/>
<path d="M32.8,111.2 Q35.9,111.4 36.6,112.7" stroke="#28a028" stroke-width="1.19" fill="none" opacity="1.0" stroke-linecap="round"/>
<path d="M36.2,106.6 Q38.3,108.4 42.4,108.3" stroke="#28a028" stroke-width="1.39" fill="none" opacity="1.0" stroke-linecap="round"/>
<path d="M30.2,109.9 Q35.0,111.6 37.8,112.0" stroke="#28a028" stroke-width="1.18" fill="none" opacity="1.0" stroke-linecap="round"/>
<path d="M25.3,93.6 Q26.0,95.4 27.6,98.6" stroke="#28a028" stroke-width="1.44" fill="none" opacity="1.0" stroke-linecap="round"/>
<path d="M15.3,111.4 Q17.1,112.7 19.2,114.0" stroke="#28a028" stroke-width="1.16" fill="none" opacity="1.0" stroke-linecap="round"/>
<line x1="30" y1="91.5" x2="42" y2="93.5" stroke="#4cc84c" stroke-width="2.0" stroke-linecap="round" opacity="0.85"/>
<path d="M29.7,93.5 L31.4,89.7 L31.7,93.9 L33.4,90.5 L33.8,94.1 L35.5,90.3 L36.0,94.0 L37.5,91.2 L37.9,95.0 L39.7,91.1 L40.0,95.1 L41.7,91.8" stroke="#28a028" stroke-width="1.1" fill="none" stroke-linejoin="round"/>
<line x1="38" y1="99" x2="45" y2="107" stroke="#4cc84c" stroke-width="2.0" stroke-linecap="round" opacity="0.85"/>
<path d="M36.4,100.4 L40.3,98.4 L38.2,101.6 L41.7,100.0 L39.3,103.4 L42.9,101.7 L40.7,105.0 L44.4,103.2 L42.1,106.6 L45.7,104.8 L43.6,108.1" stroke="#28a028" stroke-width="1.1" fill="none" stroke-linejoin="round"/>
<line x1="12" y1="98.8" x2="36.5" y2="98.4" stroke="#cc3a3a" stroke-width="2.4" stroke-linecap="round" opacity="0.85"/>
<path d="M12.0,101.1 L13.1,96.9 L14.2,100.7 L15.3,96.8 L16.4,100.6 L17.5,96.3 L18.6,101.0 L19.7,96.1 L20.8,101.1 L21.9,96.7 L23.0,100.6 L24.1,96.6 L25.2,100.9 L26.3,96.7 L27.4,100.7 L28.5,96.2 L29.6,101.0 L30.7,96.1 L31.8,101.0 L32.9,96.1 L34.0,100.6 L35.1,96.5 L36.2,100.8" stroke="#a81c1c" stroke-width="1.15" fill="none" stroke-linejoin="round"/>
<line x1="10.5" y1="106" x2="29" y2="106.5" stroke="#cc3a3a" stroke-width="2.2" stroke-linecap="round" opacity="0.85"/>
<path d="M10.5,107.7 L11.7,104.2 L12.6,108.4 L13.9,104.0 L14.8,108.2 L16.0,104.3 L17.0,108.4 L18.3,104.1 L19.2,108.1 L20.5,104.0 L21.4,108.4 L22.7,104.2 L23.6,108.6 L24.9,104.0 L25.8,108.6 L27.1,104.2 L28.0,108.8" stroke="#a81c1c" stroke-width="1.15" fill="none" stroke-linejoin="round"/>
<line x1="29" y1="102" x2="37" y2="108.5" stroke="#cc3a3a" stroke-width="1.9" stroke-linecap="round" opacity="0.85"/>
<path d="M27.8,103.5 L31.0,101.3 L29.8,104.5 L32.8,102.6 L31.5,105.9 L34.1,104.4 L32.9,107.7 L36.3,105.2 L35.0,108.6 L37.7,107.0" stroke="#a81c1c" stroke-width="1.1" fill="none" stroke-linejoin="round"/>
<rect x="115.5" y="1" width="59.4" height="70.4" fill="#fff"/>
<g clip-path="url(#insclip)"><path d="M127.5,8.6 C129.5,10.7 127.3,13.5 127.1,13.3" stroke="#4aa0c8" stroke-width="0.7" fill="none" opacity="0.9"/><path d="M120.5,4.9 C118.6,3.6 118.9,2.1 117.5,-0.2" stroke="#4aa0c8" stroke-width="0.7" fill="none" opacity="0.9"/><path d="M118.6,12.9 C118.2,12.6 116.0,15.5 113.1,17.3" stroke="#4aa0c8" stroke-width="0.7" fill="none" opacity="0.9"/><path d="M118.0,5.5 C117.9,5.2 119.1,5.6 120.4,3.0" stroke="#4aa0c8" stroke-width="0.7" fill="none" opacity="0.9"/><path d="M123.7,5.3 C123.6,4.8 121.3,2.6 118.6,-0.1" stroke="#4aa0c8" stroke-width="0.7" fill="none" opacity="0.9"/><path d="M131.9,13.6 C132.4,11.8 133.1,11.7 131.8,13.5" stroke="#4aa0c8" stroke-width="0.7" fill="none" opacity="0.9"/><path d="M123.0,5.7 C120.3,4.1 122.9,4.0 124.2,3.9" stroke="#4aa0c8" stroke-width="0.7" fill="none" opacity="0.9"/><path d="M123.1,6.3 C123.2,5.1 123.3,2.3 122.6,-0.1" stroke="#4aa0c8" stroke-width="0.7" fill="none" opacity="0.9"/><path d="M128.0,8.4 C130.5,10.6 132.8,10.3 131.6,12.4" stroke="#4aa0c8" stroke-width="0.7" fill="none" opacity="0.9"/><path d="M119.7,6.6 C117.1,8.4 118.6,11.0 116.7,13.0" stroke="#4aa0c8" stroke-width="0.7" fill="none" opacity="0.9"/><path d="M133.0,8.5 C132.7,10.4 132.5,13.0 135.1,12.3" stroke="#4aa0c8" stroke-width="0.7" fill="none" opacity="0.9"/><path d="M129.4,7.2 C131.8,9.3 131.2,8.5 130.1,9.5" stroke="#4aa0c8" stroke-width="0.7" fill="none" opacity="0.9"/><path d="M132.3,9.5 C132.4,10.5 129.5,10.4 130.6,11.7" stroke="#4aa0c8" stroke-width="0.7" fill="none" opacity="0.9"/><path d="M135.7,4.7 C138.3,7.5 139.0,9.4 137.2,7.6" stroke="#4aa0c8" stroke-width="0.7" fill="none" opacity="0.9"/><path d="M161.5,9.0 C163.8,8.1 166.4,10.1 163.7,7.3" stroke="#3a48c0" stroke-width="0.7" fill="none" opacity="0.9"/><path d="M174.0,8.5 C175.6,10.7 174.5,7.8 176.7,10.3" stroke="#3a48c0" stroke-width="0.7" fill="none" opacity="0.9"/><path d="M164.4,10.9 C161.5,13.6 162.1,16.4 163.3,15.6" stroke="#3a48c0" stroke-width="0.7" fill="none" opacity="0.9"/><path d="M160.9,8.7 C163.1,8.9 163.3,7.2 161.2,5.7" stroke="#3a48c0" stroke-width="0.7" fill="none" opacity="0.9"/><path d="M162.9,8.1 C165.5,6.7 163.9,8.2 166.5,6.6" stroke="#3a48c0" stroke-width="0.7" fill="none" opacity="0.9"/><path d="M162.8,7.2 C160.1,4.8 160.5,3.3 158.9,5.1" stroke="#3a48c0" stroke-width="0.7" fill="none" opacity="0.9"/><path d="M160,1 Q166,6 170,14 T175,16" stroke="#3a48c0" stroke-width="0.8" fill="none"/><path d="M120.8,59.3 C121.8,60.7 124.3,63.6 122.0,65.0" stroke="#5aa0c8" stroke-width="0.7" fill="none" opacity="0.9"/><path d="M116.2,50.4 C114.8,48.2 112.7,46.6 114.6,48.3" stroke="#5aa0c8" stroke-width="0.7" fill="none" opacity="0.9"/><path d="M121.0,59.0 C122.5,59.5 120.0,59.3 118.2,59.1" stroke="#5aa0c8" stroke-width="0.7" fill="none" opacity="0.9"/><path d="M125.8,51.9 C124.7,52.4 125.7,51.3 125.0,51.3" stroke="#5aa0c8" stroke-width="0.7" fill="none" opacity="0.9"/><path d="M125.3,49.0 C127.6,49.3 130.1,48.7 131.0,45.8" stroke="#5aa0c8" stroke-width="0.7" fill="none" opacity="0.9"/><path d="M118.2,61.0 C117.2,61.1 120.1,61.4 121.1,61.8" stroke="#5aa0c8" stroke-width="0.7" fill="none" opacity="0.9"/><path d="M118.5,67.7 C117.8,64.9 117.4,64.3 115.6,63.9" stroke="#5aa0c8" stroke-width="0.7" fill="none" opacity="0.9"/><path d="M116.7,66.8 C116.9,65.5 117.1,66.1 116.5,67.9" stroke="#5aa0c8" stroke-width="0.7" fill="none" opacity="0.9"/><path d="M120.6,66.5 C122.2,67.6 120.1,68.8 123.0,70.7" stroke="#5aa0c8" stroke-width="0.7" fill="none" opacity="0.9"/><path d="M116.4,53.7 C113.4,54.7 115.8,55.8 116.8,56.0" stroke="#5aa0c8" stroke-width="0.7" fill="none" opacity="0.9"/><path d="M115.5,6 L119.5,8 L121,30 L120,50 L117,60 L115.5,60 Z" fill="#3040c0" opacity="0.75"/><polygon points="119,11 135,13 134,30 130,44 125,54 120,54" fill="#30c4cc" opacity="0.35"/><path d="M117.9,21.3 Q124.3,15.4 129.9,9.8" stroke="#0e9aa6" stroke-width="2.7" fill="none" stroke-linecap="round" opacity="1.0"/><path d="M118.4,23.1 Q124.1,17.5 131.2,12.4" stroke="#0e9aa6" stroke-width="2.7" fill="none" stroke-linecap="round" opacity="1.0"/><path d="M121.6,24.4 Q126.6,19.0 131.6,14.2" stroke="#0e9aa6" stroke-width="2.7" fill="none" stroke-linecap="round" opacity="1.0"/><path d="M123.6,25.9 Q128.8,21.3 132.9,17.2" stroke="#0e9aa6" stroke-width="2.7" fill="none" stroke-linecap="round" opacity="1.0"/><path d="M125.5,30.0 Q130.7,25.6 135.1,20.0" stroke="#0e9aa6" stroke-width="2.7" fill="none" stroke-linecap="round" opacity="1.0"/><path d="M117.9,21.3 Q124.3,15.4 129.9,9.8" stroke="#2cd2da" stroke-width="1.8" fill="none" stroke-linecap="round" opacity="1.0"/><path d="M118.4,23.1 Q124.1,17.5 131.2,12.4" stroke="#2cd2da" stroke-width="1.8" fill="none" stroke-linecap="round" opacity="1.0"/><path d="M121.6,24.4 Q126.6,19.0 131.6,14.2" stroke="#2cd2da" stroke-width="1.8" fill="none" stroke-linecap="round" opacity="1.0"/><path d="M123.6,25.9 Q128.8,21.3 132.9,17.2" stroke="#2cd2da" stroke-width="1.8" fill="none" stroke-linecap="round" opacity="1.0"/><path d="M125.5,30.0 Q130.7,25.6 135.1,20.0" stroke="#2cd2da" stroke-width="1.8" fill="none" stroke-linecap="round" opacity="1.0"/><path d="M115.9,33.1 Q122.7,28.4 129.9,24.1" stroke="#0e9aa6" stroke-width="2.7" fill="none" stroke-linecap="round" opacity="1.0"/><path d="M117.1,35.0 Q123.9,29.2 131.0,25.1" stroke="#0e9aa6" stroke-width="2.7" fill="none" stroke-linecap="round" opacity="1.0"/><path d="M118.2,37.9 Q125.4,33.8 132.7,28.3" stroke="#0e9aa6" stroke-width="2.7" fill="none" stroke-linecap="round" opacity="1.0"/><path d="M121.5,40.6 Q126.9,36.0 133.3,31.2" stroke="#0e9aa6" stroke-width="2.7" fill="none" stroke-linecap="round" opacity="1.0"/><path d="M123.7,41.8 Q128.8,38.7 134.9,34.6" stroke="#0e9aa6" stroke-width="2.7" fill="none" stroke-linecap="round" opacity="1.0"/><path d="M115.9,33.1 Q122.7,28.4 129.9,24.1" stroke="#2cd2da" stroke-width="1.8" fill="none" stroke-linecap="round" opacity="1.0"/><path d="M117.1,35.0 Q123.9,29.2 131.0,25.1" stroke="#2cd2da" stroke-width="1.8" fill="none" stroke-linecap="round" opacity="1.0"/><path d="M118.2,37.9 Q125.4,33.8 132.7,28.3" stroke="#2cd2da" stroke-width="1.8" fill="none" stroke-linecap="round" opacity="1.0"/><path d="M121.5,40.6 Q126.9,36.0 133.3,31.2" stroke="#2cd2da" stroke-width="1.8" fill="none" stroke-linecap="round" opacity="1.0"/><path d="M123.7,41.8 Q128.8,38.7 134.9,34.6" stroke="#2cd2da" stroke-width="1.8" fill="none" stroke-linecap="round" opacity="1.0"/><path d="M116.4,43.7 Q122.6,40.6 128.5,38.7" stroke="#0e9aa6" stroke-width="2.7" fill="none" stroke-linecap="round" opacity="1.0"/><path d="M118.2,47.2 Q125.1,43.4 132.1,41.1" stroke="#0e9aa6" stroke-width="2.7" fill="none" stroke-linecap="round" opacity="1.0"/><path d="M120.5,49.4 Q126.1,46.2 131.4,44.0" stroke="#0e9aa6" stroke-width="2.7" fill="none" stroke-linecap="round" opacity="1.0"/><path d="M120.4,52.4 Q126.6,49.0 133.6,45.2" stroke="#0e9aa6" stroke-width="2.7" fill="none" stroke-linecap="round" opacity="1.0"/><path d="M116.4,43.7 Q122.6,40.6 128.5,38.7" stroke="#2cd2da" stroke-width="1.8" fill="none" stroke-linecap="round" opacity="1.0"/><path d="M118.2,47.2 Q125.1,43.4 132.1,41.1" stroke="#2cd2da" stroke-width="1.8" fill="none" stroke-linecap="round" opacity="1.0"/><path d="M120.5,49.4 Q126.1,46.2 131.4,44.0" stroke="#2cd2da" stroke-width="1.8" fill="none" stroke-linecap="round" opacity="1.0"/><path d="M120.4,52.4 Q126.6,49.0 133.6,45.2" stroke="#2cd2da" stroke-width="1.8" fill="none" stroke-linecap="round" opacity="1.0"/><path d="M118.1,56.6 Q120.3,53.4 121.0,51.2" stroke="#0e9aa6" stroke-width="2.7" fill="none" stroke-linecap="round" opacity="1.0"/><path d="M120.8,59.2 Q122.6,56.1 124.2,52.2" stroke="#0e9aa6" stroke-width="2.7" fill="none" stroke-linecap="round" opacity="1.0"/><path d="M118.1,56.6 Q120.3,53.4 121.0,51.2" stroke="#2cd2da" stroke-width="1.8" fill="none" stroke-linecap="round" opacity="1.0"/><path d="M120.8,59.2 Q122.6,56.1 124.2,52.2" stroke="#2cd2da" stroke-width="1.8" fill="none" stroke-linecap="round" opacity="1.0"/><path d="M126.0,12.8 Q128.4,9.1 131.8,6.4" stroke="#0e9aa6" stroke-width="2.7" fill="none" stroke-linecap="round" opacity="1.0"/><path d="M128.0,15.3 Q131.4,11.5 134.6,8.3" stroke="#0e9aa6" stroke-width="2.7" fill="none" stroke-linecap="round" opacity="1.0"/><path d="M129.9,16.5 Q132.5,12.8 135.1,10.1" stroke="#0e9aa6" stroke-width="2.7" fill="none" stroke-linecap="round" opacity="1.0"/><path d="M126.0,12.8 Q128.4,9.1 131.8,6.4" stroke="#2cd2da" stroke-width="1.8" fill="none" stroke-linecap="round" opacity="1.0"/><path d="M128.0,15.3 Q131.4,11.5 134.6,8.3" stroke="#2cd2da" stroke-width="1.8" fill="none" stroke-linecap="round" opacity="1.0"/><path d="M129.9,16.5 Q132.5,12.8 135.1,10.1" stroke="#2cd2da" stroke-width="1.8" fill="none" stroke-linecap="round" opacity="1.0"/><path d="M130.1,46.4 C131.9,44.3 131.8,45.1 129.2,45.5" stroke="#3ab0c0" stroke-width="0.6" fill="none" opacity="0.9"/><path d="M133.5,32.6 C134.9,33.9 137.2,36.7 138.0,37.3" stroke="#3ab0c0" stroke-width="0.6" fill="none" opacity="0.9"/><path d="M125.5,43.2 C126.2,42.2 127.9,42.5 127.6,42.6" stroke="#3ab0c0" stroke-width="0.6" fill="none" opacity="0.9"/><path d="M129.8,55.1 C131.7,56.3 130.1,53.3 127.8,50.8" stroke="#3ab0c0" stroke-width="0.6" fill="none" opacity="0.9"/><path d="M126.1,32.3 C126.0,33.9 125.6,36.1 124.8,36.0" stroke="#3ab0c0" stroke-width="0.6" fill="none" opacity="0.9"/><path d="M121.8,33.9 C122.2,31.7 120.1,30.4 121.5,33.3" stroke="#3ab0c0" stroke-width="0.6" fill="none" opacity="0.9"/><path d="M120.9,37.2 C123.7,37.7 125.5,40.7 126.5,39.2" stroke="#3ab0c0" stroke-width="0.6" fill="none" opacity="0.9"/><path d="M134.7,56.8 C131.7,59.6 132.6,58.0 132.4,56.8" stroke="#3ab0c0" stroke-width="0.6" fill="none" opacity="0.9"/><path d="M130.9,42.0 C128.5,44.3 127.4,42.4 128.6,40.2" stroke="#3ab0c0" stroke-width="0.6" fill="none" opacity="0.9"/><path d="M127.9,43.3 C125.6,46.1 126.8,43.4 129.2,44.3" stroke="#3ab0c0" stroke-width="0.6" fill="none" opacity="0.9"/><path d="M131.8,53.2 C129.8,52.0 127.9,53.9 130.5,54.4" stroke="#3ab0c0" stroke-width="0.6" fill="none" opacity="0.9"/><path d="M129.0,59.3 C129.1,58.9 127.8,61.9 125.5,60.0" stroke="#3ab0c0" stroke-width="0.6" fill="none" opacity="0.9"/><polygon points="136,40 150,37 163,27 175,20 175,71 166,71" fill="#3a42d8" opacity="0.75"/><path d="M142.4,47.8 Q144.2,45.7 145.0,46.1" stroke="#ffffff" stroke-width="0.97" fill="none" opacity="0.75" stroke-linecap="round"/><path d="M142.9,48.6 Q144.7,47.8 146.0,48.0" stroke="#ffffff" stroke-width="1.34" fill="none" opacity="0.75" stroke-linecap="round"/><path d="M169.0,25.0 Q168.9,23.1 170.8,21.2" stroke="#ffffff" stroke-width="0.82" fill="none" opacity="0.75" stroke-linecap="round"/><path d="M161.4,42.7 Q164.0,41.8 166.0,39.7" stroke="#ffffff" stroke-width="1.36" fill="none" opacity="0.75" stroke-linecap="round"/><path d="M155.6,57.6 Q158.0,54.0 160.2,53.2" stroke="#ffffff" stroke-width="1.25" fill="none" opacity="0.75" stroke-linecap="round"/><path d="M149.7,46.1 Q153.6,44.8 154.8,42.0" stroke="#ffffff" stroke-width="1.07" fill="none" opacity="0.75" stroke-linecap="round"/><path d="M169.1,45.2 Q170.1,42.7 172.9,41.5" stroke="#ffffff" stroke-width="0.95" fill="none" opacity="0.75" stroke-linecap="round"/><path d="M173.6,23.1 Q173.5,22.3 175.2,19.5" stroke="#ffffff" stroke-width="1.20" fill="none" opacity="0.75" stroke-linecap="round"/><path d="M160.9,60.4 Q160.8,59.0 163.6,55.7" stroke="#ffffff" stroke-width="1.32" fill="none" opacity="0.75" stroke-linecap="round"/><path d="M141.1,42.7 Q144.0,40.5 144.0,36.4" stroke="#ffffff" stroke-width="1.31" fill="none" opacity="0.75" stroke-linecap="round"/><path d="M164.8,30.0 Q169.3,29.0 171.4,30.4" stroke="#ffffff" stroke-width="0.90" fill="none" opacity="0.75" stroke-linecap="round"/><path d="M166.3,30.7 Q168.3,29.8 168.6,26.9" stroke="#ffffff" stroke-width="1.04" fill="none" opacity="0.75" stroke-linecap="round"/><path d="M149.9,55.5 Q151.3,54.6 154.3,55.5" stroke="#ffffff" stroke-width="1.17" fill="none" opacity="0.75" stroke-linecap="round"/><path d="M161.7,33.1 Q164.4,31.6 166.5,29.6" stroke="#ffffff" stroke-width="1.12" fill="none" opacity="0.75" stroke-linecap="round"/><path d="M154.3,53.0 Q156.0,54.8 159.7,54.5" stroke="#ffffff" stroke-width="1.05" fill="none" opacity="0.75" stroke-linecap="round"/><path d="M173.2,69.8 Q172.2,66.8 173.9,66.5" stroke="#ffffff" stroke-width="1.21" fill="none" opacity="0.75" stroke-linecap="round"/><path d="M154.1,53.1 Q154.3,52.5 156.3,50.5" stroke="#ffffff" stroke-width="0.94" fill="none" opacity="0.75" stroke-linecap="round"/><path d="M171.1,68.0 Q175.0,66.2 177.6,67.4" stroke="#ffffff" stroke-width="0.89" fill="none" opacity="0.75" stroke-linecap="round"/><path d="M156.4,48.6 Q157.4,47.9 161.0,45.7" stroke="#ffffff" stroke-width="0.85" fill="none" opacity="0.75" stroke-linecap="round"/><path d="M152.3,61.6 Q155.9,60.2 157.6,57.1" stroke="#ffffff" stroke-width="0.98" fill="none" opacity="0.75" stroke-linecap="round"/><path d="M160.0,49.8 Q160.5,48.4 161.8,45.4" stroke="#ffffff" stroke-width="1.19" fill="none" opacity="0.75" stroke-linecap="round"/><path d="M171.5,69.0 Q172.9,67.3 176.6,65.5" stroke="#ffffff" stroke-width="1.10" fill="none" opacity="0.75" stroke-linecap="round"/><path d="M164.1,68.2 Q168.2,65.9 169.5,64.6" stroke="#ffffff" stroke-width="1.16" fill="none" opacity="0.75" stroke-linecap="round"/><path d="M148.7,41.0 Q151.6,40.8 153.4,38.1" stroke="#ffffff" stroke-width="1.02" fill="none" opacity="0.75" stroke-linecap="round"/><path d="M152.0,43.3 Q156.7,41.6 158.6,42.7" stroke="#ffffff" stroke-width="1.26" fill="none" opacity="0.75" stroke-linecap="round"/><path d="M156.8,56.6 Q158.7,55.0 160.3,53.9" stroke="#ffffff" stroke-width="0.89" fill="none" opacity="0.75" stroke-linecap="round"/><path d="M158.0,48.6 Q160.5,47.7 163.7,46.6" stroke="#ffffff" stroke-width="0.99" fill="none" opacity="0.75" stroke-linecap="round"/><path d="M168.6,39.1 Q167.8,34.8 169.8,32.6" stroke="#ffffff" stroke-width="1.07" fill="none" opacity="0.75" stroke-linecap="round"/><path d="M158.9,60.4 Q162.3,59.1 162.7,60.5" stroke="#ffffff" stroke-width="1.08" fill="none" opacity="0.75" stroke-linecap="round"/><path d="M172.2,40.7 Q174.5,36.2 175.4,34.4" stroke="#ffffff" stroke-width="1.16" fill="none" opacity="0.75" stroke-linecap="round"/><ellipse cx="140.1" cy="43.2" rx="2.05" ry="3.00" transform="rotate(58.0 140.1 43.2)" fill="#2e36d0" fill-opacity="0.85" stroke="#15159a" stroke-width="1.5"/><ellipse cx="142.4" cy="45.6" rx="2.05" ry="3.00" transform="rotate(58.0 142.4 45.6)" fill="#2e36d0" fill-opacity="0.85" stroke="#15159a" stroke-width="1.5"/><ellipse cx="144.7" cy="47.9" rx="2.05" ry="3.00" transform="rotate(58.0 144.7 47.9)" fill="#2e36d0" fill-opacity="0.85" stroke="#15159a" stroke-width="1.5"/><ellipse cx="147.0" cy="50.3" rx="2.05" ry="3.00" transform="rotate(58.0 147.0 50.3)" fill="#2e36d0" fill-opacity="0.85" stroke="#15159a" stroke-width="1.5"/><ellipse cx="149.3" cy="52.7" rx="2.05" ry="3.00" transform="rotate(58.0 149.3 52.7)" fill="#2e36d0" fill-opacity="0.85" stroke="#15159a" stroke-width="1.5"/><ellipse cx="151.6" cy="55.1" rx="2.05" ry="3.00" transform="rotate(58.0 151.6 55.1)" fill="#2e36d0" fill-opacity="0.85" stroke="#15159a" stroke-width="1.5"/><ellipse cx="153.9" cy="57.4" rx="2.05" ry="3.00" transform="rotate(58.0 153.9 57.4)" fill="#2e36d0" fill-opacity="0.85" stroke="#15159a" stroke-width="1.5"/><ellipse cx="156.2" cy="59.8" rx="2.05" ry="3.00" transform="rotate(58.0 156.2 59.8)" fill="#2e36d0" fill-opacity="0.85" stroke="#15159a" stroke-width="1.5"/><ellipse cx="158.5" cy="62.2" rx="2.05" ry="3.00" transform="rotate(58.0 158.5 62.2)" fill="#2e36d0" fill-opacity="0.85" stroke="#15159a" stroke-width="1.5"/><ellipse cx="160.8" cy="64.6" rx="2.05" ry="3.00" transform="rotate(58.0 160.8 64.6)" fill="#2e36d0" fill-opacity="0.85" stroke="#15159a" stroke-width="1.5"/><ellipse cx="163.1" cy="66.9" rx="2.05" ry="3.00" transform="rotate(58.0 163.1 66.9)" fill="#2e36d0" fill-opacity="0.85" stroke="#15159a" stroke-width="1.5"/><ellipse cx="165.4" cy="69.3" rx="2.05" ry="3.00" transform="rotate(58.0 165.4 69.3)" fill="#2e36d0" fill-opacity="0.85" stroke="#15159a" stroke-width="1.5"/><ellipse cx="148.2" cy="38.1" rx="2.05" ry="3.00" transform="rotate(56.0 148.2 38.1)" fill="#2e36d0" fill-opacity="0.85" stroke="#15159a" stroke-width="1.5"/><ellipse cx="150.6" cy="40.4" rx="2.05" ry="3.00" transform="rotate(56.0 150.6 40.4)" fill="#2e36d0" fill-opacity="0.85" stroke="#15159a" stroke-width="1.5"/><ellipse cx="152.9" cy="42.7" rx="2.05" ry="3.00" transform="rotate(56.0 152.9 42.7)" fill="#2e36d0" fill-opacity="0.85" stroke="#15159a" stroke-width="1.5"/><ellipse cx="155.3" cy="45.0" rx="2.05" ry="3.00" transform="rotate(56.0 155.3 45.0)" fill="#2e36d0" fill-opacity="0.85" stroke="#15159a" stroke-width="1.5"/><ellipse cx="157.7" cy="47.3" rx="2.05" ry="3.00" transform="rotate(56.0 157.7 47.3)" fill="#2e36d0" fill-opacity="0.85" stroke="#15159a" stroke-width="1.5"/><ellipse cx="160.1" cy="49.6" rx="2.05" ry="3.00" transform="rotate(56.0 160.1 49.6)" fill="#2e36d0" fill-opacity="0.85" stroke="#15159a" stroke-width="1.5"/><ellipse cx="162.4" cy="51.9" rx="2.05" ry="3.00" transform="rotate(56.0 162.4 51.9)" fill="#2e36d0" fill-opacity="0.85" stroke="#15159a" stroke-width="1.5"/><ellipse cx="164.8" cy="54.2" rx="2.05" ry="3.00" transform="rotate(56.0 164.8 54.2)" fill="#2e36d0" fill-opacity="0.85" stroke="#15159a" stroke-width="1.5"/><ellipse cx="167.2" cy="56.5" rx="2.05" ry="3.00" transform="rotate(56.0 167.2 56.5)" fill="#2e36d0" fill-opacity="0.85" stroke="#15159a" stroke-width="1.5"/><ellipse cx="169.6" cy="58.8" rx="2.05" ry="3.00" transform="rotate(56.0 169.6 58.8)" fill="#2e36d0" fill-opacity="0.85" stroke="#15159a" stroke-width="1.5"/><ellipse cx="171.9" cy="61.1" rx="2.05" ry="3.00" transform="rotate(56.0 171.9 61.1)" fill="#2e36d0" fill-opacity="0.85" stroke="#15159a" stroke-width="1.5"/><ellipse cx="158.2" cy="32.2" rx="2.05" ry="2.80" transform="rotate(57.0 158.2 32.2)" fill="#3a42dc" fill-opacity="0.85" stroke="#15159a" stroke-width="1.4"/><ellipse cx="160.5" cy="34.5" rx="2.05" ry="2.80" transform="rotate(57.0 160.5 34.5)" fill="#3a42dc" fill-opacity="0.85" stroke="#15159a" stroke-width="1.4"/><ellipse cx="162.8" cy="36.8" rx="2.05" ry="2.80" transform="rotate(57.0 162.8 36.8)" fill="#3a42dc" fill-opacity="0.85" stroke="#15159a" stroke-width="1.4"/><ellipse cx="165.2" cy="39.2" rx="2.05" ry="2.80" transform="rotate(57.0 165.2 39.2)" fill="#3a42dc" fill-opacity="0.85" stroke="#15159a" stroke-width="1.4"/><ellipse cx="167.5" cy="41.5" rx="2.05" ry="2.80" transform="rotate(57.0 167.5 41.5)" fill="#3a42dc" fill-opacity="0.85" stroke="#15159a" stroke-width="1.4"/><ellipse cx="169.8" cy="43.8" rx="2.05" ry="2.80" transform="rotate(57.0 169.8 43.8)" fill="#3a42dc" fill-opacity="0.85" stroke="#15159a" stroke-width="1.4"/><ellipse cx="172.2" cy="46.2" rx="2.05" ry="2.80" transform="rotate(57.0 172.2 46.2)" fill="#3a42dc" fill-opacity="0.85" stroke="#15159a" stroke-width="1.4"/><ellipse cx="174.5" cy="48.5" rx="2.05" ry="2.80" transform="rotate(57.0 174.5 48.5)" fill="#3a42dc" fill-opacity="0.85" stroke="#15159a" stroke-width="1.4"/><ellipse cx="167.1" cy="23.2" rx="1.98" ry="2.30" transform="rotate(59.7 167.1 23.2)" fill="#3a42dc" fill-opacity="0.85" stroke="#15159a" stroke-width="1.4"/><ellipse cx="169.2" cy="25.6" rx="1.98" ry="2.30" transform="rotate(59.7 169.2 25.6)" fill="#3a42dc" fill-opacity="0.85" stroke="#15159a" stroke-width="1.4"/><ellipse cx="171.4" cy="27.9" rx="1.98" ry="2.30" transform="rotate(59.7 171.4 27.9)" fill="#3a42dc" fill-opacity="0.85" stroke="#15159a" stroke-width="1.4"/><ellipse cx="173.5" cy="30.3" rx="1.98" ry="2.30" transform="rotate(59.7 173.5 30.3)" fill="#3a42dc" fill-opacity="0.85" stroke="#15159a" stroke-width="1.4"/><path d="M163.0,31.5 Q163.4,29.4 165.0,29.7" stroke="#6a72f4" stroke-width="1.08" fill="none" opacity="0.9" stroke-linecap="round"/><path d="M171.4,34.0 Q171.2,34.1 173.6,32.3" stroke="#6a72f4" stroke-width="1.15" fill="none" opacity="0.9" stroke-linecap="round"/><path d="M171.4,67.9 Q172.8,67.6 171.8,65.8" stroke="#6a72f4" stroke-width="1.20" fill="none" opacity="0.9" stroke-linecap="round"/><path d="M167.5,28.9 Q168.1,28.4 170.0,27.4" stroke="#6a72f4" stroke-width="1.20" fill="none" opacity="0.9" stroke-linecap="round"/><path d="M155.6,33.8 Q157.0,33.1 158.8,32.3" stroke="#6a72f4" stroke-width="1.53" fill="none" opacity="0.9" stroke-linecap="round"/><path d="M163.3,44.4 Q163.8,44.8 165.8,42.4" stroke="#6a72f4" stroke-width="1.51" fill="none" opacity="0.9" stroke-linecap="round"/><path d="M167.1,40.3 Q168.1,38.1 167.6,37.3" stroke="#6a72f4" stroke-width="1.63" fill="none" opacity="0.9" stroke-linecap="round"/><path d="M147.9,47.3 Q148.1,47.4 148.9,45.3" stroke="#6a72f4" stroke-width="1.02" fill="none" opacity="0.9" stroke-linecap="round"/><path d="M160.8,56.4 Q160.6,55.2 162.5,53.7" stroke="#6a72f4" stroke-width="1.22" fill="none" opacity="0.9" stroke-linecap="round"/><path d="M173.8,45.5 Q174.4,42.4 174.2,42.0" stroke="#6a72f4" stroke-width="1.44" fill="none" opacity="0.9" stroke-linecap="round"/><path d="M173.7,54.8 Q175.8,54.4 175.4,51.9" stroke="#6a72f4" stroke-width="1.47" fill="none" opacity="0.9" stroke-linecap="round"/><path d="M153.0,46.5 Q155.3,45.9 155.5,47.5" stroke="#6a72f4" stroke-width="1.79" fill="none" opacity="0.9" stroke-linecap="round"/><path d="M148.4,43.8 Q147.9,43.5 150.0,41.0" stroke="#6a72f4" stroke-width="1.08" fill="none" opacity="0.9" stroke-linecap="round"/><path d="M169.1,65.3 Q170.8,62.8 171.0,62.3" stroke="#6a72f4" stroke-width="1.45" fill="none" opacity="0.9" stroke-linecap="round"/><path d="M165.7,32.1 Q167.3,29.4 167.7,29.4" stroke="#6a72f4" stroke-width="1.49" fill="none" opacity="0.9" stroke-linecap="round"/><path d="M168.7,30.2 Q169.6,27.6 171.8,28.0" stroke="#6a72f4" stroke-width="1.07" fill="none" opacity="0.9" stroke-linecap="round"/><path d="M164.5,30.2 Q166.5,29.3 166.5,29.5" stroke="#6a72f4" stroke-width="1.11" fill="none" opacity="0.9" stroke-linecap="round"/><path d="M153.3,46.7 Q152.7,43.8 154.7,43.9" stroke="#6a72f4" stroke-width="1.71" fill="none" opacity="0.9" stroke-linecap="round"/><ellipse cx="136.7" cy="19.9" rx="2.73" ry="3.95" transform="rotate(10.1 136.7 19.9)" fill="#cc2a2a" fill-opacity="0.9" stroke="#a01616" stroke-width="1.5"/><ellipse cx="141.1" cy="19.8" rx="2.73" ry="3.95" transform="rotate(10.1 141.1 19.8)" fill="#cc2a2a" fill-opacity="0.9" stroke="#a01616" stroke-width="1.5"/><ellipse cx="145.5" cy="19.6" rx="2.73" ry="3.95" transform="rotate(10.1 145.5 19.6)" fill="#cc2a2a" fill-opacity="0.9" stroke="#a01616" stroke-width="1.5"/><ellipse cx="149.9" cy="19.5" rx="2.73" ry="3.95" transform="rotate(10.1 149.9 19.5)" fill="#cc2a2a" fill-opacity="0.9" stroke="#a01616" stroke-width="1.5"/><ellipse cx="154.3" cy="19.4" rx="2.73" ry="3.95" transform="rotate(10.1 154.3 19.4)" fill="#cc2a2a" fill-opacity="0.9" stroke="#a01616" stroke-width="1.5"/><ellipse cx="158.7" cy="19.2" rx="2.73" ry="3.95" transform="rotate(10.1 158.7 19.2)" fill="#cc2a2a" fill-opacity="0.9" stroke="#a01616" stroke-width="1.5"/><ellipse cx="163.1" cy="19.1" rx="2.73" ry="3.95" transform="rotate(10.1 163.1 19.1)" fill="#cc2a2a" fill-opacity="0.9" stroke="#a01616" stroke-width="1.5"/><ellipse cx="163.9" cy="17.7" rx="2.60" ry="3.75" transform="rotate(-11.2 163.9 17.7)" fill="#cc2a2a" fill-opacity="0.9" stroke="#a01616" stroke-width="1.5"/><ellipse cx="167.8" cy="16.0" rx="2.60" ry="3.75" transform="rotate(-11.2 167.8 16.0)" fill="#cc2a2a" fill-opacity="0.9" stroke="#a01616" stroke-width="1.5"/><ellipse cx="136.6" cy="36.2" rx="2.60" ry="3.25" transform="rotate(10.7 136.6 36.2)" fill="#cc2a2a" fill-opacity="0.9" stroke="#a01616" stroke-width="1.5"/><ellipse cx="140.8" cy="36.1" rx="2.60" ry="3.25" transform="rotate(10.7 140.8 36.1)" fill="#cc2a2a" fill-opacity="0.9" stroke="#a01616" stroke-width="1.5"/><ellipse cx="145.0" cy="36.0" rx="2.60" ry="3.25" transform="rotate(10.7 145.0 36.0)" fill="#cc2a2a" fill-opacity="0.9" stroke="#a01616" stroke-width="1.5"/><ellipse cx="149.2" cy="35.9" rx="2.60" ry="3.25" transform="rotate(10.7 149.2 35.9)" fill="#cc2a2a" fill-opacity="0.9" stroke="#a01616" stroke-width="1.5"/><ellipse cx="153.4" cy="35.8" rx="2.60" ry="3.25" transform="rotate(10.7 153.4 35.8)" fill="#cc2a2a" fill-opacity="0.9" stroke="#a01616" stroke-width="1.5"/><ellipse cx="157.6" cy="35.7" rx="2.60" ry="3.25" transform="rotate(10.7 157.6 35.7)" fill="#cc2a2a" fill-opacity="0.9" stroke="#a01616" stroke-width="1.5"/><line x1="135.5" y1="19.8" x2="165" y2="18.9" stroke="#cc2a2a" stroke-width="3.9" stroke-linecap="round" opacity="0.85"/><path d="M135.6,23.3 L137.6,16.4 L140.0,23.4 L142.0,16.2 L144.4,23.2 L146.4,15.8 L148.8,22.7 L150.8,15.8 L153.2,23.1 L155.2,16.0 L157.6,22.5 L159.6,15.6 L162.0,22.4 L164.0,15.3" stroke="#7a0a0a" stroke-width="1.0" fill="none" stroke-linejoin="round"/><line x1="135.5" y1="36.1" x2="159" y2="35.6" stroke="#cc2a2a" stroke-width="3.3" stroke-linecap="round" opacity="0.85"/><path d="M135.6,39.0 L137.5,33.4 L139.8,38.9 L141.7,32.9 L144.0,38.7 L145.9,33.1 L148.2,38.6 L150.1,33.0 L152.4,38.6 L154.3,32.5 L156.6,38.4 L158.5,32.5" stroke="#7a0a0a" stroke-width="1.0" fill="none" stroke-linejoin="round"/><path d="M163.3,28.0 Q165.9,29.3 167.0,27.8" stroke="#c41c1c" stroke-width="2.49" fill="none" opacity="1.0" stroke-linecap="round"/><path d="M146.7,28.6 Q147.7,31.5 146.9,33.9" stroke="#c41c1c" stroke-width="1.89" fill="none" opacity="1.0" stroke-linecap="round"/><path d="M158.1,30.7 Q159.2,30.0 160.9,28.6" stroke="#c41c1c" stroke-width="2.52" fill="none" opacity="1.0" stroke-linecap="round"/><path d="M164.3,31.0 Q165.6,32.2 167.3,33.2" stroke="#c41c1c" stroke-width="2.17" fill="none" opacity="1.0" stroke-linecap="round"/><path d="M146.4,25.4 Q148.8,28.0 148.8,30.5" stroke="#c41c1c" stroke-width="2.53" fill="none" opacity="1.0" stroke-linecap="round"/><path d="M163.2,24.5 Q166.9,24.5 167.8,25.6" stroke="#c41c1c" stroke-width="2.09" fill="none" opacity="1.0" stroke-linecap="round"/><path d="M146.8,32.8 Q150.2,32.1 151.3,31.3" stroke="#c41c1c" stroke-width="2.24" fill="none" opacity="1.0" stroke-linecap="round"/><path d="M152.0,27.2 Q155.4,27.7 157.9,28.2" stroke="#c41c1c" stroke-width="1.87" fill="none" opacity="1.0" stroke-linecap="round"/><path d="M156.7,25.2 Q157.9,24.5 160.9,25.5" stroke="#c41c1c" stroke-width="2.15" fill="none" opacity="1.0" stroke-linecap="round"/><path d="M146.3,25.5 Q147.2,28.1 150.5,28.5" stroke="#c41c1c" stroke-width="2.13" fill="none" opacity="1.0" stroke-linecap="round"/><circle cx="147" cy="30" r="2.2" fill="#2a30c8"/><circle cx="153" cy="33.5" r="2.2" fill="#2a30c8"/><circle cx="159" cy="28" r="2" fill="#3a40d0"/><path d="M166,59 q3,-2 6,1 q1,4 -1,8 q-3,2 -5,-1 q-1,-4 0,-8z" fill="#e0901e"/><path d="M167,61 q2,1 3,4" stroke="#9a5a10" stroke-width="0.8" fill="none"/></g>
<rect x="115.5" y="1" width="59.4" height="70.4" fill="none" stroke="#262626" stroke-width="1.2"/>
<rect x="222.5" y="6.5" width="145.5" height="97.5" fill="none" stroke="#2b2b2b" stroke-width="1.3"/>
<line x1="219.6" y1="94.4" x2="222.5" y2="94.4" stroke="#2b2b2b" stroke-width="1.1"/>
<text x="218.8" y="97.0" class="tk" text-anchor="end" textLength="3.9" lengthAdjust="spacingAndGlyphs">0</text>
<line x1="219.6" y1="82.6" x2="222.5" y2="82.6" stroke="#2b2b2b" stroke-width="1.1"/>
<text x="218.8" y="85.2" class="tk" text-anchor="end" textLength="7.8" lengthAdjust="spacingAndGlyphs">10</text>
<line x1="219.6" y1="70.9" x2="222.5" y2="70.9" stroke="#2b2b2b" stroke-width="1.1"/>
<text x="218.8" y="73.5" class="tk" text-anchor="end" textLength="7.8" lengthAdjust="spacingAndGlyphs">20</text>
<line x1="219.6" y1="59.1" x2="222.5" y2="59.1" stroke="#2b2b2b" stroke-width="1.1"/>
<text x="218.8" y="61.7" class="tk" text-anchor="end" textLength="7.8" lengthAdjust="spacingAndGlyphs">30</text>
<line x1="219.6" y1="47.3" x2="222.5" y2="47.3" stroke="#2b2b2b" stroke-width="1.1"/>
<text x="218.8" y="49.9" class="tk" text-anchor="end" textLength="7.8" lengthAdjust="spacingAndGlyphs">40</text>
<line x1="219.6" y1="35.6" x2="222.5" y2="35.6" stroke="#2b2b2b" stroke-width="1.1"/>
<text x="218.8" y="38.2" class="tk" text-anchor="end" textLength="7.8" lengthAdjust="spacingAndGlyphs">50</text>
<line x1="219.6" y1="23.8" x2="222.5" y2="23.8" stroke="#2b2b2b" stroke-width="1.1"/>
<text x="218.8" y="26.4" class="tk" text-anchor="end" textLength="7.8" lengthAdjust="spacingAndGlyphs">60</text>
<line x1="219.6" y1="12.0" x2="222.5" y2="12.0" stroke="#2b2b2b" stroke-width="1.1"/>
<text x="218.8" y="14.6" class="tk" text-anchor="end" textLength="7.8" lengthAdjust="spacingAndGlyphs">70</text>
<line x1="229.5" y1="104" x2="229.5" y2="106.6" stroke="#2b2b2b" stroke-width="1.1"/>
<text x="229.5" y="113.8" class="tk" text-anchor="middle" textLength="3.9" lengthAdjust="spacingAndGlyphs">0</text>
<line x1="379.0" y1="104" x2="379.0" y2="106.6" stroke="#2b2b2b" stroke-width="1.1"/>
<text x="379.0" y="113.8" class="tk" text-anchor="middle" textLength="3.9" lengthAdjust="spacingAndGlyphs">0</text>
<line x1="271.0" y1="104" x2="271.0" y2="106.6" stroke="#2b2b2b" stroke-width="1.1"/>
<text x="271.0" y="113.8" class="tk" text-anchor="middle" textLength="11.7" lengthAdjust="spacingAndGlyphs">300</text>
<line x1="420.5" y1="104" x2="420.5" y2="106.6" stroke="#2b2b2b" stroke-width="1.1"/>
<text x="420.5" y="113.8" class="tk" text-anchor="middle" textLength="11.7" lengthAdjust="spacingAndGlyphs">300</text>
<line x1="312.5" y1="104" x2="312.5" y2="106.6" stroke="#2b2b2b" stroke-width="1.1"/>
<text x="312.5" y="113.8" class="tk" text-anchor="middle" textLength="11.7" lengthAdjust="spacingAndGlyphs">600</text>
<line x1="462.0" y1="104" x2="462.0" y2="106.6" stroke="#2b2b2b" stroke-width="1.1"/>
<text x="462.0" y="113.8" class="tk" text-anchor="middle" textLength="11.7" lengthAdjust="spacingAndGlyphs">600</text>
<line x1="354.0" y1="104" x2="354.0" y2="106.6" stroke="#2b2b2b" stroke-width="1.1"/>
<text x="354.0" y="113.8" class="tk" text-anchor="middle" textLength="11.7" lengthAdjust="spacingAndGlyphs">900</text>
<line x1="503.5" y1="104" x2="503.5" y2="106.6" stroke="#2b2b2b" stroke-width="1.1"/>
<text x="503.5" y="113.8" class="tk" text-anchor="middle" textLength="11.7" lengthAdjust="spacingAndGlyphs">900</text>
<rect x="371.6" y="6.5" width="146.39999999999998" height="97.5" fill="none" stroke="#2b2b2b" stroke-width="1.3"/>
<line x1="368.8" y1="94.4" x2="371.6" y2="94.4" stroke="#2b2b2b" stroke-width="1.1"/>
<line x1="368.8" y1="82.6" x2="371.6" y2="82.6" stroke="#2b2b2b" stroke-width="1.1"/>
<line x1="368.8" y1="70.9" x2="371.6" y2="70.9" stroke="#2b2b2b" stroke-width="1.1"/>
<line x1="368.8" y1="59.1" x2="371.6" y2="59.1" stroke="#2b2b2b" stroke-width="1.1"/>
<line x1="368.8" y1="47.3" x2="371.6" y2="47.3" stroke="#2b2b2b" stroke-width="1.1"/>
<line x1="368.8" y1="35.6" x2="371.6" y2="35.6" stroke="#2b2b2b" stroke-width="1.1"/>
<line x1="368.8" y1="23.8" x2="371.6" y2="23.8" stroke="#2b2b2b" stroke-width="1.1"/>
<line x1="368.8" y1="12.0" x2="371.6" y2="12.0" stroke="#2b2b2b" stroke-width="1.1"/>
<text x="282.2" y="125.7" class="ax" textLength="26.8" lengthAdjust="spacingAndGlyphs">Time (s)</text>
<text x="432.0" y="125.6" class="ax" textLength="26.6" lengthAdjust="spacingAndGlyphs">Time (s)</text>
<text transform="translate(206.3,54.5) rotate(-90)" class="ax" text-anchor="middle" font-size="7.1" textLength="66" lengthAdjust="spacingAndGlyphs">SPR Response (RU)</text>
<polyline points="250.0,93.0 251.0,94.7 252.0,94.0 253.0,94.4 254.0,94.7 255.0,93.8 256.0,92.7 257.0,94.6 258.0,95.2 259.0,90.8 260.0,95.1 261.0,93.3 262.0,92.8 263.0,93.8 264.0,93.3 265.0,93.3 266.0,91.5 267.0,93.2 268.0,94.9 269.0,93.6 270.0,94.5 271.0,93.8 272.0,94.4 273.0,94.2 274.0,94.9 275.0,92.2 276.0,94.6 277.0,94.4 278.0,95.0 279.0,92.6 280.0,94.7 281.0,93.7 282.0,94.6 283.0,94.4 284.0,91.3 285.0,94.1 286.0,93.3 287.0,95.2 288.0,93.9 289.0,94.1 290.0,92.7 291.0,94.8 292.0,94.6 293.0,94.0 294.0,95.6 295.0,94.2 296.0,94.0 297.0,93.6 298.0,94.1 299.0,94.3 300.0,92.8 301.0,93.2 302.0,94.9 303.0,94.8 304.0,93.4 305.0,92.5 306.0,93.9 307.0,93.4 308.0,94.8 309.0,93.5 310.0,93.4 311.0,94.4 312.0,93.5 313.0,94.0 314.0,93.5 315.0,94.8 316.0,93.4 317.0,95.2 318.0,93.8 319.0,93.3 320.0,92.8 321.0,93.9 322.0,93.8 323.0,95.2 324.0,94.5 325.0,95.9 326.0,94.4 327.0,94.6 328.0,91.3 329.0,94.9 330.0,94.3 333.0,94.3 336.0,94.2 339.0,94.1 342.0,94.1 345.0,94.3 348.0,94.1 351.0,94.3 354.0,94.3 357.0,94.2 360.0,94.1 363.0,94.3 366.0,94.3" fill="none" stroke="#a9a9a9" stroke-width="1.5" stroke-linejoin="round"/>
<polyline points="386.3,99.5 386.5,94 " fill="none" stroke="#a9a9a9" stroke-width="1.2"/>
<polyline points="386.5,95.2 387.5,90.8 388.5,94.6 389.5,93.5 390.5,94.3 391.5,93.1 392.5,93.7 393.5,95.3 394.5,94.1 395.5,91.4 396.5,93.6 397.5,95.1 398.5,95.0 399.5,93.2 400.5,93.2 401.5,94.0 402.5,94.0 403.5,95.3 404.5,93.8 405.5,95.1 406.5,94.2 407.5,94.9 408.5,95.2 409.5,94.6 410.5,93.3 411.5,94.0 412.5,94.8 413.5,93.9 414.5,93.6 415.5,94.1 416.5,94.4 417.5,94.8 418.5,95.0 419.5,94.7 420.5,93.5 421.5,94.9 422.5,94.0 423.5,93.8 424.5,94.0 425.5,94.5 426.5,94.7 427.5,92.7 428.5,95.3 429.5,92.2 430.5,94.5 431.5,94.7 432.5,93.4 433.5,93.2 434.5,92.8 435.5,91.3 436.5,93.2 437.5,93.7 438.5,95.1 439.5,92.1 440.5,94.8 441.5,93.2 442.5,93.4 443.5,93.5 444.5,96.1 445.5,94.7 446.5,94.5 447.5,93.3 448.5,93.5 449.5,93.9 450.5,93.0 451.5,93.7 452.5,93.1 453.5,93.4 454.5,91.8 455.5,94.4 456.5,93.0 457.5,93.9 458.5,95.1 459.5,92.8 460.5,92.6 461.5,94.2 462.5,94.8 463.5,93.4 464.5,92.1 465.5,93.7 466.5,92.0 467.5,93.0 468.5,93.3 469.5,94.1 470.5,93.5 471.5,93.3 472.5,95.2 473.5,93.8 474.5,96.0 475.5,95.1 476.5,95.1 477.5,91.9 478.5,94.2 481.5,94.1 484.5,94.3 487.5,94.2 490.5,94.1 493.5,94.3 496.5,94.1 499.5,94.1 502.5,94.3 505.5,94.3 508.5,94.1 511.5,94.2 514.5,94.2" fill="none" stroke="#a9a9a9" stroke-width="1.5" stroke-linejoin="round"/>
<polyline points="223.0,94.1 224.0,94.8 225.0,95.1 226.0,95.7 226.9,95.9 227.9,95.7 228.9,96.5 229.8,97.6 230.9,95.2 231.9,94.3 233.0,94.6 234.0,93.3 235.0,92.8 236.0,91.2 236.8,90.9 237.6,90.0 238.4,90.1 239.3,90.4 240.1,90.1 241.0,91.0 242.0,90.4 243.0,89.2 244.0,90.6 245.0,91.0 246.0,90.4 246.9,89.9 247.9,91.0 248.6,93.4 249.2,89.0 249.8,85.3 250.3,82.6 250.9,81.3 251.5,79.8 252.0,79.1 252.6,78.7 253.2,78.7 253.8,78.5 254.3,77.9 254.9,78.2 255.4,78.3 256.0,78.1 256.6,78.9 257.1,79.9 257.7,81.3 258.3,81.8 258.8,82.6 259.4,83.2 260.0,83.5 260.5,84.2 261.1,84.5 261.7,85.1 262.2,86.6 262.8,87.4 263.4,88.3 263.9,88.3 264.5,88.4 265.2,89.1 265.8,82.1 266.4,77.0 267.0,73.7 267.6,71.4 268.2,69.1 268.8,67.7 269.4,67.0 270.0,66.9 270.6,65.6 271.2,65.6 271.8,65.2 272.4,64.7 273.0,65.3 273.6,67.0 274.1,68.7 274.6,70.8 275.2,71.3 275.8,72.5 276.3,75.0 276.9,76.1 277.4,77.3 277.9,78.4 278.5,79.3 279.1,80.9 279.6,81.3 280.2,82.3 280.7,83.3 281.2,83.9 281.8,85.1 282.4,75.8 283.0,69.8 283.6,65.5 284.1,63.0 284.7,60.1 285.3,58.3 285.9,56.4 286.5,55.8 287.1,55.5 287.7,54.8 288.3,55.1 288.9,55.1 289.5,54.9 290.1,56.8 290.6,59.6 291.2,61.0 291.7,62.8 292.3,65.2 292.9,66.9 293.4,68.4 294.0,69.9 294.5,70.6 295.1,71.7 295.6,73.1 296.2,75.2 296.8,75.7 297.3,76.8 297.9,77.7 298.4,78.7 299.0,79.7 299.6,69.2 300.2,61.3 300.8,55.6 301.4,51.0 302.0,48.4 302.6,46.4 303.2,44.8 303.8,42.9 304.4,42.5 305.1,42.0 305.7,41.7 306.4,42.3 307.0,42.2 307.6,45.4 308.1,48.9 308.7,51.3 309.3,53.5 309.8,55.8 310.4,58.1 311.0,59.8 311.5,62.5 312.1,64.6 312.6,66.4 313.2,68.8 313.8,70.7 314.3,71.9 314.9,73.5 315.5,74.1 316.0,75.1 316.6,77.0 317.2,62.1 317.9,52.1 318.5,45.2 319.1,40.4 319.7,37.2 320.4,34.6 321.0,33.4 321.6,32.5 322.2,32.0 322.8,32.0 323.3,32.5 323.9,32.4 324.5,32.7 325.2,33.6 326.0,34.1 327.2,39.7 328.2,51.9 329.5,61.3 331.5,68.5 333.5,73.3 335.6,76.6 338.5,80.2 341.8,83.0 346.0,85.7 352.0,88.1 358.0,90.0 363.0,91.3 367.3,92.2" fill="none" stroke="#2350d8" stroke-width="1.7" stroke-linejoin="round"/>
<polyline points="223.0,94.4 223.8,95.8 224.7,93.1 225.5,93.1 226.5,93.4 227.5,95.2 228.7,99.7 229.8,102.1 230.7,101.4 231.5,99.0 232.3,97.3 233.2,96.0 234.0,94.4 235.0,94.7 236.0,92.7 237.0,92.2 238.0,90.3 239.0,91.7 240.0,93.1 241.0,93.6 242.0,92.5 243.0,93.9 244.0,95.6 245.0,96.0 246.0,93.8 247.0,96.0 248.0,96.8 248.8,97.8 249.4,92.5 250.0,88.1 250.7,83.4 251.3,80.7 251.9,79.0 252.5,76.9 253.1,74.6 253.7,73.1 254.4,72.2 255.0,71.3 255.6,70.6 256.1,72.0 256.5,71.5 256.5,71.8 258.0,71.3 259.0,71.2 260.0,72.2 261.0,71.4 262.0,72.8 263.0,72.9 264.0,70.8 265.3,72.4 265.9,66.1 266.4,60.6 267.0,55.7 267.6,52.1 268.1,47.6 268.7,44.1 269.3,41.2 269.9,38.7 270.4,37.2 271.0,35.8 271.6,36.0 272.1,35.2 272.7,34.9 273.2,34.3 273.8,34.2 274.4,34.7 274.9,36.0 275.5,36.4 276.1,38.1 276.6,39.2 277.2,39.6 277.8,41.3 278.4,41.5 278.9,43.1 279.5,43.7 280.1,43.7 280.7,44.8 281.2,45.3 281.8,45.3 282.4,40.9 283.0,36.7 283.6,34.1 284.2,31.8 284.8,31.0 285.4,30.1 286.0,29.7 286.6,28.5 287.1,28.5 287.7,27.6 288.2,27.4 288.8,27.5 289.3,27.0 289.9,27.3 290.4,27.8 291.0,27.9 291.6,29.4 292.2,31.8 292.8,33.6 293.3,33.7 293.9,35.4 294.5,36.7 295.1,37.9 295.7,38.8 296.2,40.3 296.8,40.3 297.4,41.1 298.0,42.0 298.6,38.2 299.1,35.9 299.7,33.1 300.2,31.6 300.8,30.4 301.3,29.3 301.9,27.9 302.4,27.1 303.0,26.2 303.6,26.1 304.2,25.6 304.8,25.8 305.4,25.2 306.0,25.1 306.6,24.6 307.2,24.3 307.8,25.0 308.4,25.2 309.0,25.0 309.6,26.5 310.1,28.8 310.7,30.5 311.3,32.2 311.8,33.2 312.4,34.3 313.0,35.5 313.6,36.3 314.1,36.8 314.7,37.6 315.3,39.4 315.8,40.5 316.4,41.1 317.0,35.9 317.7,32.5 318.3,30.4 318.9,28.2 319.6,27.1 320.2,26.2 320.8,25.8 321.3,25.4 321.9,25.2 322.5,25.2 323.1,25.4 323.6,24.9 324.2,24.5 324.8,24.4 325.4,25.0 325.9,25.1 326.5,25.3 327.2,27.7 327.8,28.9 328.5,29.5 330.0,32.2 332.0,35.4 334.5,38.8 337.0,41.6 340.0,44.3 345.0,48.0 350.0,51.5 355.0,54.7 360.0,57.6 364.0,59.7 367.3,61.3" fill="none" stroke="#e8531f" stroke-width="1.8" stroke-linejoin="round"/>
<polyline points="372.5,93.1 374.0,93.8 374.9,93.6 375.8,94.5 376.7,95.0 377.5,95.4 378.4,96.2 379.2,98.1 379.8,96.9 380.3,94.8 380.9,93.1 381.4,93.0 382.0,91.5 382.5,90.9 383.1,89.8 383.7,88.6 384.2,88.4 384.8,87.4 385.3,87.0 385.9,86.3 386.4,86.0 387.0,85.2 387.6,84.6 388.2,84.6 388.8,85.4 389.4,85.0 389.9,86.2 390.5,86.6 391.1,86.0 391.6,87.5 392.2,86.7 392.8,88.6 393.3,89.1 393.9,88.6 394.5,90.1 395.0,90.7 395.6,90.2 396.5,96.9 397.1,93.5 397.6,89.5 398.2,86.9 398.7,84.4 399.3,83.3 399.8,82.2 400.4,81.6 400.9,79.8 401.5,79.1 402.1,77.8 402.6,77.3 403.2,77.6 403.8,77.0 404.4,77.4 404.9,77.6 405.5,77.1 406.1,77.6 406.6,79.3 407.2,80.9 407.8,81.2 408.3,83.1 408.9,83.7 409.4,83.9 410.0,84.4 410.6,86.4 411.1,86.6 411.7,87.2 412.2,87.6 412.8,89.0 413.4,89.6 413.9,90.3 414.5,90.7 415.1,83.6 415.6,80.2 416.2,76.7 416.7,75.2 417.3,74.2 417.8,73.5 418.4,72.5 419.0,72.1 419.6,71.1 420.2,71.2 420.7,71.0 421.3,71.5 421.9,71.3 422.5,71.7 423.1,73.1 423.6,74.4 424.2,76.7 424.8,78.0 425.3,78.8 425.9,79.6 426.4,81.2 427.0,82.2 427.6,83.5 428.1,84.2 428.7,84.9 429.2,85.8 429.8,86.2 430.4,86.5 430.9,87.1 431.5,88.7 432.1,78.9 432.7,72.8 433.3,68.8 433.8,65.5 434.4,63.7 435.0,62.3 435.6,61.5 436.2,60.9 436.8,60.6 437.4,60.5 438.0,60.7 438.6,60.5 439.2,60.3 439.8,60.5 440.4,63.1 440.9,65.1 441.5,66.9 442.0,69.4 442.6,71.0 443.1,72.3 443.7,73.9 444.2,75.3 444.8,77.3 445.3,77.9 445.9,79.5 446.4,80.8 447.0,81.2 447.5,82.3 448.1,83.3 448.6,84.4 449.2,84.7 449.8,73.3 450.4,65.7 451.0,60.3 451.5,57.0 452.1,54.5 452.7,52.9 453.3,52.0 453.9,51.4 454.5,51.1 455.1,51.0 455.8,50.4 456.4,50.7 457.0,50.5 457.6,51.1 458.2,54.3 458.7,57.0 459.3,60.2 459.9,62.7 460.4,64.7 461.0,67.2 461.5,69.5 462.1,71.5 462.7,72.8 463.2,74.5 463.8,76.4 464.4,78.0 464.9,78.7 465.5,79.9 466.0,81.5 466.6,82.3 467.2,68.5 467.8,59.6 468.4,53.3 469.0,49.6 469.6,46.7 470.2,44.6 470.8,43.3 471.4,43.3 471.9,42.5 472.5,42.6 473.1,42.3 473.7,42.1 474.2,42.3 474.8,42.3 475.4,42.4 475.8,43.6 476.2,44.4 477.2,51.0 478.2,61.0 479.7,71.0 481.8,78.4 484.5,82.6 488.3,86.3 493.0,88.8 498.8,90.7 505.0,92.3 511.0,93.6 517.3,94.7" fill="none" stroke="#2350d8" stroke-width="1.7" stroke-linejoin="round"/>
<polyline points="372.5,94.0 374.0,93.4 374.9,93.1 375.8,93.3 376.7,94.2 377.5,96.9 378.4,98.3 379.2,98.8 379.8,97.5 380.3,96.8 380.9,95.3 381.4,93.3 382.0,91.1 382.5,90.3 383.1,89.1 383.7,87.7 384.2,86.8 384.8,85.6 385.3,84.5 385.9,84.5 386.4,84.2 387.0,83.1 387.6,83.9 388.2,82.9 388.8,82.8 389.4,83.1 389.9,85.1 390.5,85.8 391.1,87.1 391.6,87.8 392.2,87.4 392.8,88.1 393.3,88.6 393.9,88.5 394.5,90.6 395.0,90.5 395.6,90.8 396.5,97.2 397.1,94.0 397.6,89.6 398.2,86.6 398.7,85.2 399.3,82.2 399.8,80.4 400.4,79.6 400.9,78.1 401.5,78.0 402.1,76.8 402.6,77.3 403.2,75.9 403.8,75.8 404.4,75.9 404.9,76.1 405.5,77.1 406.1,78.6 406.6,78.9 407.2,80.7 407.8,81.0 408.3,81.5 408.9,82.2 409.4,83.8 410.0,84.5 410.6,86.2 411.1,87.3 411.7,88.6 412.2,88.3 412.8,88.7 413.4,88.8 413.9,88.9 414.5,90.1 415.1,83.9 415.6,79.8 416.2,77.0 416.7,74.1 417.3,73.5 417.8,72.5 418.4,72.0 419.0,71.0 419.6,70.7 420.2,70.6 420.7,70.2 421.3,70.5 421.9,70.1 422.5,70.3 423.1,72.7 423.6,73.9 424.2,75.5 424.8,77.1 425.3,77.9 425.9,78.7 426.4,80.6 427.0,81.4 427.6,82.4 428.1,83.2 428.7,84.4 429.2,84.4 429.8,85.5 430.4,85.7 430.9,86.5 431.5,87.2 432.1,77.9 432.7,71.8 433.3,67.1 433.8,64.9 434.4,62.5 435.0,61.6 435.6,60.3 436.2,60.3 436.8,59.4 437.4,59.5 438.0,59.3 438.6,59.3 439.2,59.2 439.8,59.7 440.4,62.0 440.9,63.4 441.5,65.7 442.0,67.8 442.6,69.3 443.1,70.7 443.7,72.0 444.2,73.9 444.8,74.5 445.3,76.2 445.9,77.3 446.4,77.9 447.0,79.0 447.5,79.8 448.1,80.8 448.6,81.5 449.2,82.6 449.8,70.2 450.4,62.6 451.0,57.2 451.5,53.1 452.1,51.2 452.7,49.4 453.3,47.9 453.9,48.0 454.5,47.0 455.1,46.7 455.8,46.6 456.4,46.7 457.0,46.5 457.6,47.0 458.2,50.3 458.7,53.0 459.3,56.0 459.9,58.4 460.4,60.9 461.0,62.6 461.5,64.7 462.1,66.7 462.7,68.2 463.2,70.4 463.8,71.7 464.4,72.7 464.9,74.3 465.5,75.4 466.0,76.4 466.6,77.4 467.2,63.4 467.8,53.7 468.4,47.6 469.0,43.0 469.6,40.2 470.2,38.2 470.8,36.9 471.4,36.8 471.9,35.9 472.5,35.8 473.1,35.4 473.7,35.4 474.2,35.8 474.8,35.5 475.4,35.9 475.8,37.0 476.2,38.1 477.2,48.0 478.2,58.0 479.7,65.5 481.8,71.9 484.5,76.5 488.3,81.0 493.0,84.6 498.8,87.6 505.0,89.8 511.0,91.3 517.3,92.5" fill="none" stroke="#e8531f" stroke-width="1.8" stroke-linejoin="round"/>
<text x="228.2" y="18.8" class="ttl" textLength="49.8" lengthAdjust="spacingAndGlyphs" font-size="9.7">Conversion</text>
<text x="230.2" y="32.1" class="lgb" textLength="13" lengthAdjust="spacingAndGlyphs">C3b</text>
<text x="229.7" y="43.1" class="lgr" textLength="35.2" lengthAdjust="spacingAndGlyphs">after FI/FH</text>
<text x="229.4" y="53.0" class="lgr" textLength="22" lengthAdjust="spacingAndGlyphs">(iC3b)</text>
<text x="376.6" y="18.5" class="ttl" textLength="33.7" lengthAdjust="spacingAndGlyphs" font-size="9.7">Control</text>
<text x="379" y="32.4" class="lgb" textLength="13.4" lengthAdjust="spacingAndGlyphs">C3b</text>
<text x="378.6" y="43.2" class="lgr" textLength="15" lengthAdjust="spacingAndGlyphs">no FI</text>
<text x="378.5" y="53.0" class="lgr" textLength="18.7" lengthAdjust="spacingAndGlyphs">(C3b)</text>
<rect x="37.3" y="143.5" width="146.60000000000002" height="97.4" fill="none" stroke="#2b2b2b" stroke-width="1.3"/>
<rect x="188.6" y="143.5" width="146.9" height="97.4" fill="none" stroke="#2b2b2b" stroke-width="1.3"/>
<line x1="34.6" y1="236.2" x2="37.3" y2="236.2" stroke="#2b2b2b" stroke-width="1.1"/>
<text x="33.8" y="238.7" class="tkb" text-anchor="end">0</text>
<line x1="185.8" y1="236.2" x2="188.6" y2="236.2" stroke="#2b2b2b" stroke-width="1.1"/>
<line x1="34.6" y1="212.9" x2="37.3" y2="212.9" stroke="#2b2b2b" stroke-width="1.1"/>
<text x="33.8" y="215.4" class="tkb" text-anchor="end">20</text>
<line x1="185.8" y1="212.9" x2="188.6" y2="212.9" stroke="#2b2b2b" stroke-width="1.1"/>
<line x1="34.6" y1="189.7" x2="37.3" y2="189.7" stroke="#2b2b2b" stroke-width="1.1"/>
<text x="33.8" y="192.2" class="tkb" text-anchor="end">40</text>
<line x1="185.8" y1="189.7" x2="188.6" y2="189.7" stroke="#2b2b2b" stroke-width="1.1"/>
<line x1="34.6" y1="166.4" x2="37.3" y2="166.4" stroke="#2b2b2b" stroke-width="1.1"/>
<text x="33.8" y="168.9" class="tkb" text-anchor="end">60</text>
<line x1="185.8" y1="166.4" x2="188.6" y2="166.4" stroke="#2b2b2b" stroke-width="1.1"/>
<line x1="34.6" y1="143.2" x2="37.3" y2="143.2" stroke="#2b2b2b" stroke-width="1.1"/>
<text x="33.8" y="145.7" class="tkb" text-anchor="end">80</text>
<line x1="185.8" y1="143.2" x2="188.6" y2="143.2" stroke="#2b2b2b" stroke-width="1.1"/>
<line x1="37.3" y1="240.9" x2="37.3" y2="243.5" stroke="#2b2b2b" stroke-width="1.1"/>
<text x="37.3" y="250.8" class="tkb" text-anchor="middle">0</text>
<line x1="188.8" y1="240.9" x2="188.8" y2="243.5" stroke="#2b2b2b" stroke-width="1.1"/>
<text x="188.8" y="250.8" class="tkb" text-anchor="middle">0</text>
<line x1="64.1" y1="240.9" x2="64.1" y2="243.5" stroke="#2b2b2b" stroke-width="1.1"/>
<text x="64.1" y="250.8" class="tkb" text-anchor="middle">200</text>
<line x1="215.3" y1="240.9" x2="215.3" y2="243.5" stroke="#2b2b2b" stroke-width="1.1"/>
<text x="215.3" y="250.8" class="tkb" text-anchor="middle">200</text>
<line x1="90.9" y1="240.9" x2="90.9" y2="243.5" stroke="#2b2b2b" stroke-width="1.1"/>
<text x="90.9" y="250.8" class="tkb" text-anchor="middle">400</text>
<line x1="241.8" y1="240.9" x2="241.8" y2="243.5" stroke="#2b2b2b" stroke-width="1.1"/>
<text x="241.8" y="250.8" class="tkb" text-anchor="middle">400</text>
<line x1="117.7" y1="240.9" x2="117.7" y2="243.5" stroke="#2b2b2b" stroke-width="1.1"/>
<text x="117.7" y="250.8" class="tkb" text-anchor="middle">600</text>
<line x1="268.3" y1="240.9" x2="268.3" y2="243.5" stroke="#2b2b2b" stroke-width="1.1"/>
<text x="268.3" y="250.8" class="tkb" text-anchor="middle">600</text>
<line x1="144.5" y1="240.9" x2="144.5" y2="243.5" stroke="#2b2b2b" stroke-width="1.1"/>
<text x="144.5" y="250.8" class="tkb" text-anchor="middle">800</text>
<line x1="294.8" y1="240.9" x2="294.8" y2="243.5" stroke="#2b2b2b" stroke-width="1.1"/>
<text x="294.8" y="250.8" class="tkb" text-anchor="middle">800</text>
<line x1="171.3" y1="240.9" x2="171.3" y2="243.5" stroke="#2b2b2b" stroke-width="1.1"/>
<text x="171.3" y="250.8" class="tkb" text-anchor="middle">1000</text>
<line x1="321.3" y1="240.9" x2="321.3" y2="243.5" stroke="#2b2b2b" stroke-width="1.1"/>
<text x="321.3" y="250.8" class="tkb" text-anchor="middle">1000</text>
<text x="96.2" y="263.4" class="axb" textLength="30.2" lengthAdjust="spacingAndGlyphs">Time (s)</text>
<text x="248.2" y="263.6" class="axb" textLength="30.2" lengthAdjust="spacingAndGlyphs">Time (s)</text>
<text transform="translate(21.4,195) rotate(-90)" class="axb" text-anchor="middle" font-size="7.3" textLength="67.5" lengthAdjust="spacingAndGlyphs">SPR Response (RU)</text>
<text x="48.1" y="159.1" class="ttl" textLength="18.2" lengthAdjust="spacingAndGlyphs" font-size="10">C3b</text>
<text x="199.2" y="159.1" class="ttl" textLength="20.3" lengthAdjust="spacingAndGlyphs" font-size="10">iC3b</text>
<line x1="37.3" y1="236.3" x2="183.9" y2="236.3" stroke="#c4c4c4" stroke-width="0.8"/>
<line x1="188.6" y1="236.3" x2="335.5" y2="236.3" stroke="#c4c4c4" stroke-width="0.8"/>
<polyline points="37.8,236.0 38.7,236.0 39.6,236.0 40.5,236.0 41.4,236.0 42.3,236.0 43.2,236.0 44.1,236.0 45.0,236.0 45.9,236.0 46.8,236.0 47.7,236.0 48.6,236.0 49.5,236.0 50.4,236.0 51.3,236.0 52.2,236.0 53.1,236.0 54.0,236.0 54.9,236.0 55.8,236.0 56.7,236.0 57.6,236.0 58.5,236.0 59.4,236.0 60.3,236.0 61.2,236.0 62.1,236.0 63.0,236.0 63.9,236.0 64.8,236.0 65.7,236.0 66.6,236.0 67.5,236.0 68.4,236.0 69.3,236.0 70.2,236.0 71.1,236.0 72.0,236.0 72.9,236.0 73.8,236.0 74.7,236.0 75.6,236.0 76.5,236.0 77.9,231.8 78.4,228.9 78.9,226.4 79.4,224.3 79.9,222.5 80.4,221.0 80.9,219.7 81.5,218.6 82.0,217.6 82.5,216.8 83.0,216.1 83.5,215.6 84.0,215.1 84.5,214.7 85.0,214.3 85.5,214.0 86.0,215.9 86.6,217.6 87.1,219.1 87.6,220.5 88.1,221.7 88.7,222.9 89.2,223.9 89.7,224.8 90.2,225.7 90.8,226.4 91.3,227.1 91.8,227.8 92.3,228.3 92.9,228.8 93.4,229.3 93.9,223.8 94.4,219.3 94.9,215.7 95.4,212.8 95.9,210.4 96.4,208.5 97.0,207.0 97.5,205.7 98.0,204.7 98.5,203.9 99.0,203.3 99.5,202.8 100.0,202.3 100.5,202.0 101.0,204.7 101.5,207.1 102.0,209.3 102.5,211.4 103.0,213.2 103.5,214.9 104.0,216.5 104.5,217.9 105.0,219.2 105.5,220.4 106.0,221.5 106.5,222.5 107.0,223.5 107.5,224.3 108.0,225.1 108.5,225.8 109.0,226.4 109.5,227.0 110.0,218.6 110.5,212.0 111.0,206.9 111.6,202.8 112.1,199.7 112.6,197.2 113.1,195.3 113.6,193.8 114.1,192.6 114.7,191.7 115.2,191.0 115.7,190.4 116.2,190.0 116.7,193.8 117.2,197.3 117.7,200.5 118.3,203.3 118.8,205.9 119.3,208.3 119.8,210.4 120.3,212.3 120.8,214.0 121.4,215.6 121.9,217.0 122.4,218.3 122.9,219.4 123.4,220.5 123.9,221.4 124.5,222.3 125.0,223.1 125.5,223.8 126.0,224.4 126.5,205.6 127.1,194.3 127.6,187.5 128.2,183.5 128.7,181.1 129.3,179.7 129.8,178.8 133.5,178.2 134.0,183.2 134.5,187.7 135.0,191.7 135.5,195.4 136.0,198.7 136.5,201.7 137.0,204.5 137.5,206.9 138.0,209.2 138.5,211.2 139.0,213.0 139.5,214.7 140.0,216.2 140.5,217.5 141.0,218.7 141.5,219.8 142.0,220.8 142.5,221.8 143.0,222.6 143.5,223.3 144.0,224.0 144.5,224.6 145.0,225.1 145.5,225.6 146.0,226.1 146.5,226.5 147.0,204.1 147.5,190.2 148.0,181.5 148.5,176.1 149.0,172.8 149.5,170.7 150.0,169.4 150.5,168.6 155.3,167.8 155.8,172.9 156.3,177.9 156.8,182.6 157.3,187.1 157.8,191.5 159.2,199.5 161.0,207.5 164.0,215.3 167.3,220.6 171.0,224.6 176.9,228.4 180.0,229.9 183.3,231.3" fill="none" stroke="#c8461e" stroke-width="2.0" stroke-linejoin="round"/>
<polyline points="37.8,234.3 38.7,233.8 39.6,235.0 40.5,234.9 41.4,235.9 42.3,235.5 43.2,234.0 44.1,234.9 45.0,235.5 45.9,234.4 46.8,234.5 47.7,236.0 48.6,235.9 49.5,234.2 50.4,233.5 51.3,236.2 52.2,235.5 53.1,236.2 54.0,234.4 54.9,234.9 55.8,236.1 56.7,237.0 57.6,234.5 58.5,234.9 59.4,234.9 60.3,234.3 61.2,233.7 62.1,234.5 63.0,234.9 63.9,234.6 64.8,234.8 65.7,234.4 66.6,236.6 67.5,235.0 68.4,235.9 69.3,234.9 70.2,233.6 71.1,233.6 72.0,234.2 72.9,235.5 73.8,236.2 74.7,235.5 75.6,234.3 76.5,235.5 77.9,231.4" fill="none" stroke="#1a0c06" stroke-width="1.5" stroke-linejoin="round"/>
<polyline points="76.5,235.5 77.9,231.4 78.4,228.6 78.9,226.3 79.4,224.6 79.9,222.4 80.4,220.9 80.9,219.5 81.5,218.2 82.0,218.0 82.5,217.2 83.0,216.4 83.5,215.5 84.0,215.0 84.5,214.5 85.0,214.5 85.5,214.2 86.0,215.7 86.6,217.9 87.1,219.3 87.6,220.2 88.1,222.1 88.7,223.1 89.2,223.7 89.7,224.6 90.2,225.9 90.8,226.0 91.3,227.1 91.8,228.2 92.3,228.1 92.9,228.8 93.4,229.7 93.9,224.1 94.4,219.6 94.9,215.7 95.4,213.2 95.9,210.2 96.4,208.9 97.0,206.9 97.5,205.9 98.0,204.9 98.5,203.7 99.0,203.5 99.5,202.9 100.0,202.8 100.5,202.2 101.0,204.6 101.5,207.0 102.0,209.7 102.5,211.2 103.0,213.4 103.5,215.1 104.0,217.0 104.5,217.6 105.0,219.4 105.5,220.1 106.0,221.7 106.5,222.7 107.0,223.7 107.5,224.7 108.0,224.8 108.5,226.1 109.0,226.3 109.5,226.9 110.0,218.2 110.5,212.0 111.0,206.4 111.6,202.6 112.1,199.9 112.6,197.5 113.1,195.0 113.6,194.1 114.1,192.6 114.7,191.4 115.2,191.2 115.7,190.7 116.2,190.0 116.7,193.9 117.2,197.5 117.7,200.6 118.3,203.6 118.8,206.2 119.3,208.0 119.8,209.9 120.3,211.9 120.8,213.8 121.4,215.6 121.9,217.4 122.4,218.2 122.9,219.3 123.4,220.5 123.9,221.9 124.5,222.4 125.0,222.9 125.5,224.0 126.0,224.9 126.5,205.8 127.1,194.2 127.6,187.2 128.2,183.5 128.7,180.7 129.3,179.3 129.8,178.7 133.5,178.6 134.0,183.4 134.5,187.6 135.0,192.2 135.5,195.1 136.0,198.5 136.5,201.5 137.0,204.5 137.5,207.3 138.0,209.0 138.5,211.5 139.0,213.4 139.5,214.6 140.0,216.5 140.5,217.9 141.0,218.7 141.5,219.5 142.0,220.4 142.5,221.5 143.0,222.5 143.5,222.8 144.0,223.8 144.5,224.6 145.0,225.0 145.5,225.9 146.0,226.2 146.5,226.5 147.0,204.2 147.5,190.3 148.0,181.4 148.5,175.8 149.0,172.9 149.5,170.2 150.0,168.9 150.5,168.4 155.3,167.5 155.8,173.2 156.3,177.5 156.8,182.5 157.3,187.3 157.8,191.4 159.2,199.8 161.0,207.1 164.0,215.0 167.3,220.4 171.0,224.5 176.9,228.5 180.0,229.6 183.3,231.4" fill="none" stroke="#2a1208" stroke-width="1.05" stroke-linejoin="round"/>
<line x1="93.4" y1="228.5" x2="93.4" y2="231.2" stroke="#111" stroke-width="1.2"/>
<line x1="109.5" y1="226" x2="109.5" y2="229" stroke="#111" stroke-width="1.2"/>
<line x1="126" y1="223.5" x2="126" y2="226.2" stroke="#111" stroke-width="1.2"/>
<line x1="146.5" y1="225.5" x2="146.5" y2="229.8" stroke="#111" stroke-width="1.2"/>
<line x1="142.6" y1="211" x2="142.6" y2="219" stroke="#111" stroke-width="1.2"/>
<polyline points="189.2,236.0 190.1,236.0 191.0,236.0 191.9,236.0 192.8,236.0 193.7,236.0 194.6,236.0 195.5,236.0 196.4,236.0 197.3,236.0 198.2,236.0 199.1,236.0 200.0,236.0 200.9,236.0 201.8,236.0 202.7,236.0 203.6,236.0 204.5,236.0 205.4,236.0 206.3,236.0 207.2,236.0 208.1,236.0 209.0,236.0 209.9,236.0 210.8,236.0 211.7,236.0 212.6,236.0 213.5,236.0 214.4,236.0 215.3,236.0 216.2,236.0 217.1,236.0 218.0,236.0 218.9,236.0 219.8,236.0 220.7,236.0 221.6,236.0 222.5,236.0 223.4,236.0 224.3,236.0 225.2,236.0 226.1,236.0 227.0,236.0 227.9,236.0 228.8,236.0 232.5,205.0 236.6,180.2 237.5,181.5 238.3,183.3 239.1,185.0 239.9,186.5 240.7,188.0 241.5,189.4 242.3,190.6 243.1,191.8 243.9,193.0 244.7,194.0 245.4,180.0 246.4,172.5 247.6,169.0 249.0,167.6 251.0,167.0 253.0,166.8 253.8,169.9 254.7,172.8 255.5,175.5 256.4,178.1 257.2,180.6 258.1,182.9 258.9,185.1 259.8,187.2 260.6,189.2 261.3,176.0 262.3,168.5 263.5,165.6 265.0,164.6 268.0,164.3 269.0,167.3 270.0,170.2 271.0,172.9 272.0,175.4 273.0,177.9 274.0,180.1 275.0,182.3 276.0,184.4 277.0,186.3 277.7,175.0 278.7,167.0 280.0,163.8 282.0,162.8 285.0,162.4 285.9,165.6 286.7,168.7 287.6,171.5 288.5,174.3 289.3,176.8 290.2,179.3 291.1,181.6 291.9,183.7 292.8,185.8 294.5,186.0 297.5,187.5 298.4,189.5 299.2,166.0 300.0,162.0 302.5,160.6 305.9,159.0 306.5,159.5 307.5,164.5 308.5,167.6 310.6,172.3 313.0,176.5 316.2,180.6 319.5,184.6 322.8,188.0 325.5,191.0 328.4,194.0 331.5,197.2 334.8,200.0" fill="none" stroke="#c8461e" stroke-width="2.0" stroke-linejoin="round"/>
<polyline points="189.2,235.4 190.1,234.4 191.0,235.3 191.9,235.0 192.8,234.6 193.7,235.4 194.6,235.6 195.5,236.4 196.4,234.9 197.3,234.4 198.2,235.7 199.1,235.6 200.0,234.8 200.9,236.2 201.8,234.4 202.7,235.2 203.6,234.5 204.5,233.5 205.4,233.0 206.3,233.8 207.2,234.1 208.1,234.2 209.0,236.4 209.9,236.1 210.8,234.5 211.7,234.2 212.6,234.2 213.5,236.0 214.4,234.3 215.3,234.2 216.2,235.7 217.1,235.8 218.0,234.7 218.9,235.5 219.8,235.4 220.7,232.8 221.6,233.4 222.5,233.6 223.4,236.2 224.3,234.2 225.2,235.1 226.1,235.5 227.0,234.7 227.9,235.6 228.8,235.2" fill="none" stroke="#1a0c06" stroke-width="1.5" stroke-linejoin="round"/>
<polyline points="228.8,235.2 232.5,205.0 236.6,180.2 237.5,181.6 238.3,183.7 239.1,184.9 239.9,186.0 240.7,188.4 241.5,189.6 242.3,190.3 243.1,192.0 243.9,192.5 244.7,194.5 245.4,179.8 246.4,172.7 247.6,168.9 249.0,167.7 251.0,167.1 253.0,167.3 253.8,169.9 254.7,173.1 255.5,175.5 256.4,178.0 257.2,180.9 258.1,182.6 258.9,184.8 259.8,187.0 260.6,189.2 261.3,176.1 262.3,168.2 263.5,165.1 265.0,164.6 268.0,163.9 269.0,167.4 270.0,170.6 271.0,173.2 272.0,175.1 273.0,178.0 274.0,180.0 275.0,182.6 276.0,184.5 277.0,186.2 277.7,174.8 278.7,166.7 280.0,163.9 282.0,162.5 285.0,162.6 285.9,166.1 286.7,168.5 287.6,171.7 288.5,174.5 289.3,176.9 290.2,179.7 291.1,181.1 291.9,183.7 292.8,185.5 294.5,186.3 297.5,187.7 298.4,189.8 299.2,166.0 300.0,161.5 302.5,160.2 305.9,158.9 306.5,159.9 307.5,164.1 308.5,167.3 310.6,172.8 313.0,176.5 316.2,180.8 319.5,184.8 322.8,188.4 325.5,191.3 328.4,194.4 331.5,197.1 334.8,200.5" fill="none" stroke="#1c0e08" stroke-width="1.35" stroke-linejoin="round"/>
<line x1="236.6" y1="178.5" x2="236.6" y2="183" stroke="#111" stroke-width="1.3"/>
<line x1="244.6" y1="192" x2="244.6" y2="196" stroke="#111" stroke-width="1.2"/>
<line x1="260.5" y1="187" x2="260.5" y2="191.5" stroke="#111" stroke-width="1.2"/>
<line x1="276.9" y1="184" x2="276.9" y2="188.5" stroke="#111" stroke-width="1.2"/>
<line x1="297.6" y1="182" x2="297.6" y2="191" stroke="#111" stroke-width="1.2"/>
<line x1="284.3" y1="160.5" x2="284.3" y2="163.5" stroke="#111" stroke-width="1.2"/>
<line x1="268" y1="162.5" x2="268" y2="165.5" stroke="#111" stroke-width="1.2"/>
<line x1="252.4" y1="165.8" x2="252.4" y2="168.5" stroke="#111" stroke-width="1.2"/>
<line x1="293.7" y1="176" x2="293.7" y2="190" stroke="#111" stroke-width="1.2"/>
<line x1="306" y1="156.8" x2="306" y2="161" stroke="#111" stroke-width="1.3"/>
<rect x="351" y="177" width="164" height="18.8" fill="#d4d4d4"/>
<rect x="351" y="217.6" width="164" height="20" fill="#d4d4d4"/>
<line x1="351" y1="155.5" x2="515" y2="155.5" stroke="#222" stroke-width="1.1"/>
<line x1="351" y1="176.6" x2="515" y2="176.6" stroke="#222" stroke-width="1.4"/>
<line x1="351" y1="238" x2="515" y2="238" stroke="#222" stroke-width="1.1"/>
<text x="449.3" y="169.4" class="th" textLength="17.1" lengthAdjust="spacingAndGlyphs">C3b</text>
<text x="487.3" y="169.4" class="th" textLength="19.2" lengthAdjust="spacingAndGlyphs">iC3b</text>
<text x="358.6" y="190.1" class="td" textLength="59.3" lengthAdjust="spacingAndGlyphs"><tspan font-style="italic">k</tspan><tspan font-style="italic" dy="1.8" font-size="6">a</tspan><tspan dy="-1.8"> (10</tspan><tspan dy="-2.8" font-size="5.5">6</tspan><tspan dy="2.8"> s</tspan><tspan dy="-2.8" font-size="5.5">-1</tspan><tspan dy="2.8">M</tspan><tspan dy="-2.8" font-size="5.5">-1</tspan><tspan dy="2.8">)</tspan></text>
<text x="358.6" y="210.2" class="td" textLength="27.8" lengthAdjust="spacingAndGlyphs"><tspan font-style="italic">k</tspan><tspan font-style="italic" dy="1.8" font-size="6">d</tspan><tspan dy="-1.8"> (s</tspan><tspan dy="-2.8" font-size="5.5">-1</tspan><tspan dy="2.8">)</tspan></text>
<text x="359.0" y="231.8" class="td" textLength="33.6" lengthAdjust="spacingAndGlyphs">K<tspan dy="1.8" font-size="6">D</tspan><tspan dy="-1.8"> (nM)</tspan></text>
<text x="450.7" y="190.0" class="td" textLength="13.2" lengthAdjust="spacingAndGlyphs">3.6</text>
<text x="487.3" y="190.0" class="td" textLength="19.2" lengthAdjust="spacingAndGlyphs">19.8</text>
<text x="447.9" y="210.7" class="td" textLength="19.2" lengthAdjust="spacingAndGlyphs">0.04</text>
<text x="487.0" y="210.7" class="td" textLength="19.8" lengthAdjust="spacingAndGlyphs">0.01</text>
<text x="447.9" y="231.3" class="td" textLength="19.7" lengthAdjust="spacingAndGlyphs">11.8</text>
<text x="489.6" y="231.3" class="td" textLength="14.2" lengthAdjust="spacingAndGlyphs">0.5</text>
<text x="1.0" y="11.4" class="pl" font-size="12.6">A</text>
<text x="190.6" y="11.7" class="pl" font-size="13">B</text>
<text x="0.4" y="146.9" class="pl" font-size="13.4">C</text>
</svg></body></html>
